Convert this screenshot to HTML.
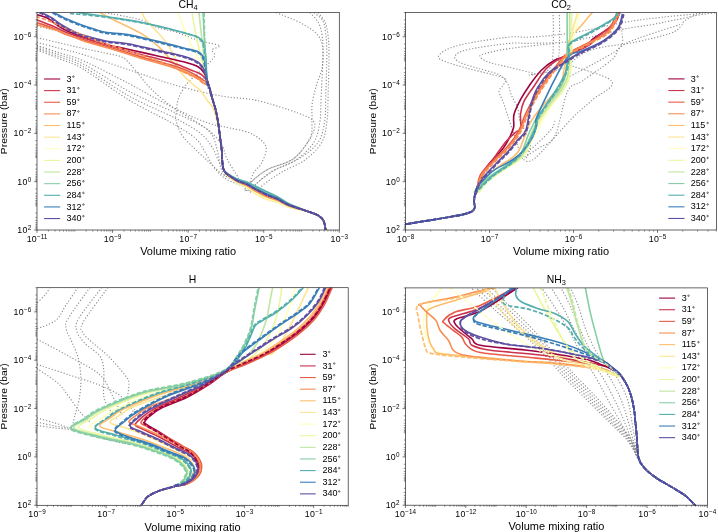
<!DOCTYPE html><html><head><meta charset="utf-8"><style>html,body{margin:0;padding:0;background:#fff;overflow:hidden;width:718px;height:532px;}svg{display:block;will-change:transform}</style></head><body><svg width="718" height="532" viewBox="0 0 718 532" font-family='"Liberation Sans", sans-serif' fill="#000">
<rect width="718" height="532" fill="#fff"/>
<defs><clipPath id="cp1"><rect x="37.0" y="12.6" width="302.30" height="217.40"/></clipPath></defs>
<g clip-path="url(#cp1)">
<path d="M37.00,26.60 C38.17,26.78 41.67,27.23 44.00,27.70 C46.33,28.17 48.33,28.68 51.00,29.40 C53.67,30.12 55.17,30.40 60.00,32.00 C64.83,33.60 72.17,36.42 80.00,39.00 C87.83,41.58 97.00,44.50 107.00,47.50 C117.00,50.50 129.50,54.08 140.00,57.00 C150.50,59.92 162.00,62.50 170.00,65.00 C178.00,67.50 183.00,70.00 188.00,72.00 C193.00,74.00 196.83,75.33 200.00,77.00 C203.17,78.67 205.42,80.17 207.00,82.00 C208.58,83.83 208.63,85.30 209.50,88.00 C210.37,90.70 211.22,94.73 212.20,98.20 C213.18,101.67 214.45,105.00 215.40,108.80 C216.35,112.60 217.10,116.13 217.90,121.00 C218.70,125.87 219.57,133.17 220.20,138.00 C220.83,142.83 221.35,146.15 221.70,150.00 C222.05,153.85 222.02,157.95 222.30,161.10 C222.58,164.25 222.75,166.85 223.40,168.90 C224.05,170.95 224.82,172.00 226.20,173.40 C227.58,174.80 229.67,176.00 231.70,177.30 C233.73,178.60 235.80,180.00 238.40,181.20 C241.00,182.40 244.48,182.97 247.30,184.50 C250.12,186.03 251.17,188.02 255.30,190.40 C259.43,192.78 266.50,196.35 272.10,198.80 C277.70,201.25 282.93,203.00 288.90,205.10 C294.87,207.20 302.98,209.65 307.90,211.40 C312.82,213.15 315.78,214.02 318.40,215.60 C321.02,217.18 322.38,218.50 323.60,220.90 C324.82,223.30 325.35,228.48 325.70,230.00" fill="none" stroke="#8c8c8c" stroke-width="1.1" stroke-linecap="butt" stroke-linejoin="round" stroke-dasharray="1.2,1.9"/>
<path d="M37.00,37.70 C40.83,38.58 52.33,41.22 60.00,43.00 C67.67,44.78 75.50,46.73 83.00,48.40 C90.50,50.07 98.37,51.47 105.00,53.00 C111.63,54.53 117.80,54.80 122.80,57.60 C127.80,60.40 130.40,64.70 135.00,69.80 C139.60,74.90 144.27,82.07 150.40,88.20 C156.53,94.33 164.15,100.98 171.80,106.60 C179.45,112.22 189.67,117.30 196.30,121.90 C202.93,126.50 208.02,129.10 211.60,134.20 C215.18,139.30 216.27,146.88 217.80,152.50 C219.33,158.12 219.43,163.98 220.80,167.90 C222.17,171.82 222.80,173.48 226.00,176.00 C229.20,178.52 235.12,180.60 240.00,183.00 C244.88,185.40 249.95,187.77 255.30,190.40 C260.65,193.03 266.50,196.35 272.10,198.80 C277.70,201.25 282.93,203.00 288.90,205.10 C294.87,207.20 302.98,209.65 307.90,211.40 C312.82,213.15 315.78,214.02 318.40,215.60 C321.02,217.18 322.38,218.50 323.60,220.90 C324.82,223.30 325.35,228.48 325.70,230.00" fill="none" stroke="#8c8c8c" stroke-width="1.1" stroke-linecap="butt" stroke-linejoin="round" stroke-dasharray="1.2,1.9"/>
<path d="M37.00,42.30 C40.83,43.33 52.33,46.47 60.00,48.50 C67.67,50.53 71.52,50.95 83.00,54.50 C94.48,58.05 113.58,64.70 128.90,69.80 C144.22,74.90 159.58,80.75 174.90,85.10 C190.22,89.45 207.12,93.33 220.80,95.90 C234.48,98.47 244.22,97.67 257.00,100.50 C269.78,103.33 288.15,109.53 297.50,112.90 C306.85,116.27 310.35,117.85 313.10,120.70 C315.85,123.55 314.85,126.45 314.00,130.00 C313.15,133.55 311.47,137.18 308.00,142.00 C304.53,146.82 299.88,154.33 293.20,158.90 C286.52,163.47 274.92,165.55 267.90,169.40 C260.88,173.25 254.92,178.57 251.10,182.00 C247.28,185.43 244.30,188.60 245.00,190.00 C245.70,191.40 250.78,188.93 255.30,190.40 C259.82,191.87 266.50,196.35 272.10,198.80 C277.70,201.25 282.93,203.00 288.90,205.10 C294.87,207.20 302.98,209.65 307.90,211.40 C312.82,213.15 315.78,214.02 318.40,215.60 C321.02,217.18 322.38,218.50 323.60,220.90 C324.82,223.30 325.35,228.48 325.70,230.00" fill="none" stroke="#8c8c8c" stroke-width="1.1" stroke-linecap="butt" stroke-linejoin="round" stroke-dasharray="1.2,1.9"/>
<path d="M37.00,45.30 C40.83,46.58 52.33,50.45 60.00,53.00 C67.67,55.55 71.52,55.50 83.00,60.60 C94.48,65.70 116.15,76.95 128.90,83.60 C141.65,90.25 149.28,95.13 159.50,100.50 C169.72,105.87 181.52,111.88 190.20,115.80 C198.88,119.72 204.97,121.97 211.60,124.00 C218.23,126.03 223.42,126.40 230.00,128.00 C236.58,129.60 245.13,130.57 251.10,133.60 C257.07,136.63 264.05,141.28 265.80,146.20 C267.55,151.12 263.70,158.53 261.60,163.10 C259.50,167.67 255.30,169.40 253.20,173.60 C251.10,177.80 248.65,185.50 249.00,188.30 C249.35,191.10 251.45,188.65 255.30,190.40 C259.15,192.15 266.50,196.35 272.10,198.80 C277.70,201.25 282.93,203.00 288.90,205.10 C294.87,207.20 302.98,209.65 307.90,211.40 C312.82,213.15 315.78,214.02 318.40,215.60 C321.02,217.18 322.38,218.50 323.60,220.90 C324.82,223.30 325.35,228.48 325.70,230.00" fill="none" stroke="#8c8c8c" stroke-width="1.1" stroke-linecap="butt" stroke-linejoin="round" stroke-dasharray="1.2,1.9"/>
<path d="M37.00,46.80 C40.83,48.17 52.33,52.18 60.00,55.00 C67.67,57.82 71.52,57.65 83.00,63.70 C94.48,69.75 113.58,83.13 128.90,91.30 C144.22,99.47 162.13,106.58 174.90,112.70 C187.67,118.82 197.85,122.88 205.50,128.00 C213.15,133.12 217.22,138.28 220.80,143.40 C224.38,148.52 224.45,153.60 227.00,158.70 C229.55,163.80 233.60,170.12 236.10,174.00 C238.60,177.88 238.80,179.27 242.00,182.00 C245.20,184.73 250.28,187.60 255.30,190.40 C260.32,193.20 266.50,196.35 272.10,198.80 C277.70,201.25 282.93,203.00 288.90,205.10 C294.87,207.20 302.98,209.65 307.90,211.40 C312.82,213.15 315.78,214.02 318.40,215.60 C321.02,217.18 322.38,218.50 323.60,220.90 C324.82,223.30 325.35,228.48 325.70,230.00" fill="none" stroke="#8c8c8c" stroke-width="1.1" stroke-linecap="butt" stroke-linejoin="round" stroke-dasharray="1.2,1.9"/>
<path d="M37.00,48.40 C40.83,49.83 52.33,53.98 60.00,57.00 C67.67,60.02 71.52,60.00 83.00,66.50 C94.48,73.00 113.58,87.42 128.90,96.00 C144.22,104.58 163.05,111.83 174.90,118.00 C186.75,124.17 193.82,128.17 200.00,133.00 C206.18,137.83 208.75,142.00 212.00,147.00 C215.25,152.00 217.17,158.50 219.50,163.00 C221.83,167.50 223.25,170.83 226.00,174.00 C228.75,177.17 231.12,179.27 236.00,182.00 C240.88,184.73 249.28,187.60 255.30,190.40 C261.32,193.20 266.50,196.35 272.10,198.80 C277.70,201.25 282.93,203.00 288.90,205.10 C294.87,207.20 302.98,209.65 307.90,211.40 C312.82,213.15 315.78,214.02 318.40,215.60 C321.02,217.18 322.38,218.50 323.60,220.90 C324.82,223.30 325.35,228.48 325.70,230.00" fill="none" stroke="#8c8c8c" stroke-width="1.1" stroke-linecap="butt" stroke-linejoin="round" stroke-dasharray="1.2,1.9"/>
<path d="M37.00,49.90 C40.83,51.42 52.33,55.82 60.00,59.00 C67.67,62.18 71.52,62.17 83.00,69.00 C94.48,75.83 114.40,91.17 128.90,100.00 C143.40,108.83 158.98,115.67 170.00,122.00 C181.02,128.33 189.17,133.00 195.00,138.00 C200.83,143.00 202.00,147.33 205.00,152.00 C208.00,156.67 210.17,162.00 213.00,166.00 C215.83,170.00 218.83,173.33 222.00,176.00 C225.17,178.67 226.45,179.60 232.00,182.00 C237.55,184.40 248.62,187.60 255.30,190.40 C261.98,193.20 266.50,196.35 272.10,198.80 C277.70,201.25 282.93,203.00 288.90,205.10 C294.87,207.20 302.98,209.65 307.90,211.40 C312.82,213.15 315.78,214.02 318.40,215.60 C321.02,217.18 322.38,218.50 323.60,220.90 C324.82,223.30 325.35,228.48 325.70,230.00" fill="none" stroke="#8c8c8c" stroke-width="1.1" stroke-linecap="butt" stroke-linejoin="round" stroke-dasharray="1.2,1.9"/>
<path d="M105.00,12.60 C111.13,13.83 133.35,17.60 141.80,20.00 C150.25,22.40 149.90,24.92 155.70,27.00 C161.50,29.08 169.22,30.18 176.60,32.50 C183.98,34.82 192.85,38.72 200.00,40.90 C207.15,43.08 217.50,44.08 219.50,45.60 C221.50,47.12 212.80,48.27 212.00,50.00 C211.20,51.73 216.10,53.00 214.70,56.00 C213.30,59.00 207.78,63.85 203.60,68.00 C199.42,72.15 193.08,77.25 189.60,80.90 C186.12,84.55 184.63,86.72 182.70,89.90 C180.77,93.08 179.03,96.65 178.00,100.00 C176.97,103.35 176.83,106.67 176.50,110.00 C176.17,113.33 175.08,115.83 176.00,120.00 C176.92,124.17 178.67,130.00 182.00,135.00 C185.33,140.00 191.33,145.33 196.00,150.00 C200.67,154.67 205.67,159.00 210.00,163.00 C214.33,167.00 217.83,171.17 222.00,174.00 C226.17,176.83 229.45,177.27 235.00,180.00 C240.55,182.73 249.12,187.27 255.30,190.40 C261.48,193.53 266.50,196.35 272.10,198.80 C277.70,201.25 282.93,203.00 288.90,205.10 C294.87,207.20 302.98,209.65 307.90,211.40 C312.82,213.15 315.78,214.02 318.40,215.60 C321.02,217.18 322.38,218.50 323.60,220.90 C324.82,223.30 325.35,228.48 325.70,230.00" fill="none" stroke="#8c8c8c" stroke-width="1.1" stroke-linecap="butt" stroke-linejoin="round" stroke-dasharray="1.2,1.9"/>
<path d="M276.30,12.60 C280.87,14.60 296.33,20.15 303.70,24.60 C311.07,29.05 317.35,32.63 320.50,39.30 C323.65,45.97 323.30,56.88 322.60,64.60 C321.90,72.32 318.05,78.95 316.30,85.60 C314.55,92.25 312.82,98.60 312.10,104.50 C311.38,110.40 312.35,115.42 312.00,121.00 C311.65,126.58 313.13,131.68 310.00,138.00 C306.87,144.32 300.22,153.67 293.20,158.90 C286.18,164.13 274.92,165.55 267.90,169.40 C260.88,173.25 254.92,178.57 251.10,182.00 C247.28,185.43 244.30,188.60 245.00,190.00 C245.70,191.40 250.78,188.93 255.30,190.40 C259.82,191.87 266.50,196.35 272.10,198.80 C277.70,201.25 282.93,203.00 288.90,205.10 C294.87,207.20 302.98,209.65 307.90,211.40 C312.82,213.15 315.78,214.02 318.40,215.60 C321.02,217.18 322.38,218.50 323.60,220.90 C324.82,223.30 325.35,228.48 325.70,230.00" fill="none" stroke="#8c8c8c" stroke-width="1.1" stroke-linecap="butt" stroke-linejoin="round" stroke-dasharray="1.2,1.9"/>
<path d="M314.20,12.60 C315.60,13.90 320.68,17.00 322.60,20.40 C324.52,23.80 325.00,27.40 325.70,33.00 C326.40,38.60 326.80,42.83 326.80,54.00 C326.80,65.17 326.05,88.83 325.70,100.00 C325.35,111.17 325.92,114.00 324.70,121.00 C323.48,128.00 322.52,135.83 318.40,142.00 C314.28,148.17 307.23,153.33 300.00,158.00 C292.77,162.67 282.17,165.83 275.00,170.00 C267.83,174.17 260.83,179.67 257.00,183.00 C253.17,186.33 252.28,188.77 252.00,190.00 C251.72,191.23 251.95,188.93 255.30,190.40 C258.65,191.87 266.50,196.35 272.10,198.80 C277.70,201.25 282.93,203.00 288.90,205.10 C294.87,207.20 302.98,209.65 307.90,211.40 C312.82,213.15 315.78,214.02 318.40,215.60 C321.02,217.18 322.38,218.50 323.60,220.90 C324.82,223.30 325.35,228.48 325.70,230.00" fill="none" stroke="#8c8c8c" stroke-width="1.1" stroke-linecap="butt" stroke-linejoin="round" stroke-dasharray="1.2,1.9"/>
<path d="M318.00,12.60 C319.17,14.17 323.33,18.27 325.00,22.00 C326.67,25.73 327.33,29.67 328.00,35.00 C328.67,40.33 329.00,43.17 329.00,54.00 C329.00,64.83 328.33,88.83 328.00,100.00 C327.67,111.17 328.00,114.00 327.00,121.00 C326.00,128.00 325.67,135.50 322.00,142.00 C318.33,148.50 311.67,155.00 305.00,160.00 C298.33,165.00 289.00,167.83 282.00,172.00 C275.00,176.17 267.00,181.67 263.00,185.00 C259.00,188.33 259.28,191.10 258.00,192.00 C256.72,192.90 252.95,189.27 255.30,190.40 C257.65,191.53 266.50,196.35 272.10,198.80 C277.70,201.25 282.93,203.00 288.90,205.10 C294.87,207.20 302.98,209.65 307.90,211.40 C312.82,213.15 315.78,214.02 318.40,215.60 C321.02,217.18 322.38,218.50 323.60,220.90 C324.82,223.30 325.35,228.48 325.70,230.00" fill="none" stroke="#8c8c8c" stroke-width="1.1" stroke-linecap="butt" stroke-linejoin="round" stroke-dasharray="1.2,1.9"/>
<path d="M310.00,12.60 C311.33,14.17 316.00,18.27 318.00,22.00 C320.00,25.73 321.17,29.67 322.00,35.00 C322.83,40.33 323.17,43.17 323.00,54.00 C322.83,64.83 321.50,88.83 321.00,100.00 C320.50,111.17 321.17,114.00 320.00,121.00 C318.83,128.00 318.00,135.50 314.00,142.00 C310.00,148.50 303.17,155.00 296.00,160.00 C288.83,165.00 278.00,167.67 271.00,172.00 C264.00,176.33 257.50,182.67 254.00,186.00 C250.50,189.33 249.78,191.27 250.00,192.00 C250.22,192.73 251.62,189.27 255.30,190.40 C258.98,191.53 266.50,196.35 272.10,198.80 C277.70,201.25 282.93,203.00 288.90,205.10 C294.87,207.20 302.98,209.65 307.90,211.40 C312.82,213.15 315.78,214.02 318.40,215.60 C321.02,217.18 322.38,218.50 323.60,220.90 C324.82,223.30 325.35,228.48 325.70,230.00" fill="none" stroke="#8c8c8c" stroke-width="1.1" stroke-linecap="butt" stroke-linejoin="round" stroke-dasharray="1.2,1.9"/>
<path d="M100.00,12.60 C102.32,13.83 106.93,16.45 113.90,20.00 C120.87,23.55 134.13,29.25 141.80,33.90 C149.47,38.55 154.80,43.25 159.90,47.90 C165.00,52.55 168.38,57.95 172.40,61.80 C176.42,65.65 179.65,68.13 184.00,71.00 C188.35,73.87 195.00,76.83 198.50,79.00 C202.00,81.17 203.58,83.83 205.00,84.00 C206.42,84.17 206.25,79.33 207.00,80.00 C207.75,80.67 208.63,84.97 209.50,88.00 C210.37,91.03 211.22,94.73 212.20,98.20 C213.18,101.67 214.45,105.00 215.40,108.80 C216.35,112.60 217.10,116.13 217.90,121.00 C218.70,125.87 219.57,133.17 220.20,138.00 C220.83,142.83 221.35,146.15 221.70,150.00 C222.05,153.85 222.02,157.95 222.30,161.10 C222.58,164.25 222.75,166.73 223.40,168.90 C224.05,171.07 224.82,172.53 226.20,174.12 C227.58,175.71 229.67,176.99 231.70,178.44 C233.73,179.90 235.80,181.46 238.40,182.86 C241.00,184.27 244.52,185.34 247.30,186.86 C250.08,188.37 251.93,190.15 255.10,191.96 C258.27,193.78 262.58,196.21 266.30,197.77 C270.02,199.32 273.63,199.85 277.40,201.30 C281.17,202.76 283.82,204.82 288.90,206.51 C293.98,208.19 302.98,209.88 307.90,211.40 C312.82,212.92 315.78,214.02 318.40,215.60 C321.02,217.18 322.38,218.50 323.60,220.90 C324.82,223.30 325.35,228.48 325.70,230.00" fill="none" stroke="#fdbf6f" stroke-width="1.6" stroke-linecap="butt" stroke-linejoin="round"/>
<path d="M142.00,12.60 C142.67,13.83 142.55,15.75 146.00,20.00 C149.45,24.25 158.07,32.30 162.70,38.10 C167.33,43.90 171.02,49.48 173.80,54.80 C176.58,60.12 176.70,65.47 179.40,70.00 C182.10,74.53 186.57,78.67 190.00,82.00 C193.43,85.33 197.17,87.00 200.00,90.00 C202.83,93.00 204.83,97.00 207.00,100.00 C209.17,103.00 211.33,104.50 213.00,108.00 C214.67,111.50 215.83,116.00 217.00,121.00 C218.17,126.00 219.22,133.17 220.00,138.00 C220.78,142.83 221.32,146.15 221.70,150.00 C222.08,153.85 222.02,157.95 222.30,161.10 C222.58,164.25 222.75,166.68 223.40,168.90 C224.05,171.12 224.82,172.75 226.20,174.42 C227.58,176.09 229.67,177.41 231.70,178.93 C233.73,180.46 235.80,182.09 238.40,183.58 C241.00,185.07 244.52,186.26 247.30,187.87 C250.08,189.48 251.93,191.36 255.10,193.23 C258.27,195.11 262.58,197.61 266.30,199.12 C270.02,200.63 273.63,200.96 277.40,202.29 C281.17,203.62 283.82,205.59 288.90,207.11 C293.98,208.63 302.98,209.99 307.90,211.40 C312.82,212.81 315.78,214.02 318.40,215.60 C321.02,217.18 322.38,218.50 323.60,220.90 C324.82,223.30 325.35,228.48 325.70,230.00" fill="none" stroke="#fee593" stroke-width="1.6" stroke-linecap="butt" stroke-linejoin="round"/>
<path d="M178.00,12.60 C179.85,17.32 185.43,32.70 189.10,40.90 C192.77,49.10 197.38,56.12 200.00,61.80 C202.62,67.48 203.63,71.97 204.80,75.00 C205.97,78.03 206.22,77.83 207.00,80.00 C207.78,82.17 208.63,84.97 209.50,88.00 C210.37,91.03 211.22,94.73 212.20,98.20 C213.18,101.67 214.45,105.00 215.40,108.80 C216.35,112.60 217.10,116.13 217.90,121.00 C218.70,125.87 219.57,133.17 220.20,138.00 C220.83,142.83 221.35,146.15 221.70,150.00 C222.05,153.85 222.02,157.95 222.30,161.10 C222.58,164.25 222.75,166.71 223.40,168.90 C224.05,171.09 224.82,172.60 226.20,174.22 C227.58,175.84 229.67,177.13 231.70,178.61 C233.73,180.09 235.80,181.67 238.40,183.10 C241.00,184.53 244.52,185.65 247.30,187.19 C250.08,188.74 251.93,190.55 255.10,192.39 C258.27,194.22 262.58,196.68 266.30,198.22 C270.02,199.76 273.63,200.22 277.40,201.63 C281.17,203.05 283.82,205.08 288.90,206.71 C293.98,208.34 302.98,209.92 307.90,211.40 C312.82,212.88 315.78,214.02 318.40,215.60 C321.02,217.18 322.38,218.50 323.60,220.90 C324.82,223.30 325.35,228.48 325.70,230.00" fill="none" stroke="#ffffbe" stroke-width="1.6" stroke-linecap="butt" stroke-linejoin="round"/>
<path d="M192.00,12.60 C192.83,17.17 195.33,32.10 197.00,40.00 C198.67,47.90 200.58,54.17 202.00,60.00 C203.42,65.83 204.67,71.67 205.50,75.00 C206.33,78.33 206.33,77.83 207.00,80.00 C207.67,82.17 208.63,84.97 209.50,88.00 C210.37,91.03 211.22,94.73 212.20,98.20 C213.18,101.67 214.45,105.00 215.40,108.80 C216.35,112.60 217.10,116.13 217.90,121.00 C218.70,125.87 219.57,133.17 220.20,138.00 C220.83,142.83 221.35,146.15 221.70,150.00 C222.05,153.85 222.02,157.95 222.30,161.10 C222.58,164.25 222.75,166.75 223.40,168.90 C224.05,171.05 224.82,172.45 226.20,174.01 C227.58,175.58 229.67,176.84 231.70,178.28 C233.73,179.72 235.80,181.25 238.40,182.63 C241.00,184.00 244.52,185.03 247.30,186.52 C250.08,188.01 251.93,189.74 255.10,191.54 C258.27,193.34 262.58,195.74 266.30,197.31 C270.02,198.89 273.63,199.47 277.40,200.97 C281.17,202.47 283.82,204.57 288.90,206.31 C293.98,208.04 302.98,209.85 307.90,211.40 C312.82,212.95 315.78,214.02 318.40,215.60 C321.02,217.18 322.38,218.50 323.60,220.90 C324.82,223.30 325.35,228.48 325.70,230.00" fill="none" stroke="#eaf79e" stroke-width="1.6" stroke-linecap="butt" stroke-linejoin="round"/>
<path d="M199.00,12.60 C199.50,17.17 201.08,32.10 202.00,40.00 C202.92,47.90 203.83,54.17 204.50,60.00 C205.17,65.83 205.58,71.67 206.00,75.00 C206.42,78.33 206.42,77.83 207.00,80.00 C207.58,82.17 208.63,84.97 209.50,88.00 C210.37,91.03 211.22,94.73 212.20,98.20 C213.18,101.67 214.45,105.00 215.40,108.80 C216.35,112.60 217.10,116.13 217.90,121.00 C218.70,125.87 219.57,133.17 220.20,138.00 C220.83,142.83 221.35,146.15 221.70,150.00 C222.05,153.85 222.02,157.95 222.30,161.10 C222.58,164.25 222.75,166.92 223.40,168.90 C224.05,170.88 224.82,171.70 226.20,172.99 C227.58,174.28 229.67,175.44 231.70,176.65 C233.73,177.86 235.80,179.16 238.40,180.25 C241.00,181.33 244.52,181.98 247.30,183.15 C250.08,184.33 251.93,185.70 255.10,187.31 C258.27,188.91 262.58,191.06 266.30,192.79 C270.02,194.52 273.63,195.77 277.40,197.68 C281.17,199.60 283.82,202.01 288.90,204.30 C293.98,206.58 302.98,209.52 307.90,211.40 C312.82,213.28 315.78,214.02 318.40,215.60 C321.02,217.18 322.38,218.50 323.60,220.90 C324.82,223.30 325.35,228.48 325.70,230.00" fill="none" stroke="#bfe5a0" stroke-width="1.6" stroke-linecap="butt" stroke-linejoin="round"/>
<path d="M203.00,12.60 C203.25,17.17 204.02,32.10 204.50,40.00 C204.98,47.90 205.57,54.17 205.90,60.00 C206.23,65.83 206.32,71.67 206.50,75.00 C206.68,78.33 206.50,77.83 207.00,80.00 C207.50,82.17 208.63,84.97 209.50,88.00 C210.37,91.03 211.22,94.73 212.20,98.20 C213.18,101.67 214.45,105.00 215.40,108.80 C216.35,112.60 217.10,116.13 217.90,121.00 C218.70,125.87 219.57,133.17 220.20,138.00 C220.83,142.83 221.35,146.15 221.70,150.00 C222.05,153.85 222.02,157.95 222.30,161.10 C222.58,164.25 222.75,166.95 223.40,168.90 C224.05,170.85 224.82,171.55 226.20,172.79 C227.58,174.02 229.67,175.16 231.70,176.32 C233.73,177.48 235.80,178.75 238.40,179.77 C241.00,180.80 244.52,181.37 247.30,182.48 C250.08,183.59 251.93,184.89 255.10,186.46 C258.27,188.03 262.58,190.13 266.30,191.89 C270.02,193.65 273.63,195.03 277.40,197.03 C281.17,199.03 283.82,201.50 288.90,203.89 C293.98,206.29 302.98,209.45 307.90,211.40 C312.82,213.35 315.78,214.02 318.40,215.60 C321.02,217.18 322.38,218.50 323.60,220.90 C324.82,223.30 325.35,228.48 325.70,230.00" fill="none" stroke="#86cfa5" stroke-width="1.6" stroke-linecap="butt" stroke-linejoin="round"/>
<path d="M79.00,12.60 C84.27,13.38 100.07,15.65 110.60,17.30 C121.13,18.95 132.30,20.55 142.20,22.50 C152.10,24.45 162.37,27.08 170.00,29.00 C177.63,30.92 183.25,32.58 188.00,34.00 C192.75,35.42 195.87,35.92 198.50,37.50 C201.13,39.08 202.57,40.03 203.80,43.50 C205.03,46.97 205.45,53.38 205.90,58.30 C206.35,63.22 206.32,69.38 206.50,73.00 C206.68,76.62 206.50,77.50 207.00,80.00 C207.50,82.50 208.63,84.97 209.50,88.00 C210.37,91.03 211.22,94.73 212.20,98.20 C213.18,101.67 214.45,105.00 215.40,108.80 C216.35,112.60 217.10,116.13 217.90,121.00 C218.70,125.87 219.57,133.17 220.20,138.00 C220.83,142.83 221.35,146.15 221.70,150.00 C222.05,153.85 222.02,157.95 222.30,161.10 C222.58,164.25 222.75,166.97 223.40,168.90 C224.05,170.83 224.82,171.47 226.20,172.68 C227.58,173.89 229.67,175.01 231.70,176.16 C233.73,177.30 235.80,178.54 238.40,179.54 C241.00,180.53 244.52,181.06 247.30,182.14 C250.08,183.23 251.93,184.49 255.10,186.04 C258.27,187.59 262.58,189.66 266.30,191.43 C270.02,193.21 273.63,194.65 277.40,196.70 C281.17,198.74 283.82,201.24 288.90,203.69 C293.98,206.14 302.98,209.42 307.90,211.40 C312.82,213.38 315.78,214.02 318.40,215.60 C321.02,217.18 322.38,218.50 323.60,220.90 C324.82,223.30 325.35,228.48 325.70,230.00" fill="none" stroke="#54aead" stroke-width="1.6" stroke-linecap="butt" stroke-linejoin="round"/>
<path d="M36.00,14.50 C37.78,15.05 43.28,16.10 46.70,17.80 C50.12,19.50 53.25,22.58 56.50,24.70 C59.75,26.82 62.13,28.55 66.20,30.50 C70.27,32.45 76.02,34.62 80.90,36.40 C85.78,38.18 91.15,39.82 95.50,41.20 C99.85,42.58 101.60,43.37 107.00,44.70 C112.40,46.03 119.78,47.40 127.90,49.20 C136.02,51.00 146.42,53.40 155.70,55.50 C164.98,57.60 176.47,59.88 183.60,61.80 C190.73,63.72 194.97,64.97 198.50,67.00 C202.03,69.03 203.38,71.83 204.80,74.00 C206.22,76.17 206.22,77.67 207.00,80.00 C207.78,82.33 208.63,84.97 209.50,88.00 C210.37,91.03 211.22,94.73 212.20,98.20 C213.18,101.67 214.45,105.00 215.40,108.80 C216.35,112.60 217.10,116.13 217.90,121.00 C218.70,125.87 219.57,133.17 220.20,138.00 C220.83,142.83 221.35,146.15 221.70,150.00 C222.05,153.85 222.02,157.95 222.30,161.10 C222.58,164.25 222.75,166.85 223.40,168.90 C224.05,170.95 224.82,172.00 226.20,173.40 C227.58,174.80 229.67,176.00 231.70,177.30 C233.73,178.60 235.80,180.00 238.40,181.20 C241.00,182.40 244.52,183.20 247.30,184.50 C250.08,185.80 251.93,187.32 255.10,189.00 C258.27,190.68 262.58,192.93 266.30,194.60 C270.02,196.27 273.63,197.25 277.40,199.00 C281.17,200.75 283.82,203.03 288.90,205.10 C293.98,207.17 302.98,209.65 307.90,211.40 C312.82,213.15 315.78,214.02 318.40,215.60 C321.02,217.18 322.38,218.50 323.60,220.90 C324.82,223.30 325.35,228.48 325.70,230.00" fill="none" stroke="#9e0142" stroke-width="1.6" stroke-linecap="butt" stroke-linejoin="round"/>
<path d="M36.00,19.50 C38.60,20.52 46.57,23.43 51.60,25.60 C56.63,27.77 61.32,30.55 66.20,32.50 C71.08,34.45 74.10,35.20 80.90,37.30 C87.70,39.40 96.85,42.18 107.00,45.10 C117.15,48.02 131.37,52.02 141.80,54.80 C152.23,57.58 161.90,59.47 169.60,61.80 C177.30,64.13 182.83,66.77 188.00,68.80 C193.17,70.83 197.62,72.25 200.60,74.00 C203.58,75.75 204.83,78.30 205.90,79.30 C206.97,80.30 206.40,78.55 207.00,80.00 C207.60,81.45 208.63,84.97 209.50,88.00 C210.37,91.03 211.22,94.73 212.20,98.20 C213.18,101.67 214.45,105.00 215.40,108.80 C216.35,112.60 217.10,116.13 217.90,121.00 C218.70,125.87 219.57,133.17 220.20,138.00 C220.83,142.83 221.35,146.15 221.70,150.00 C222.05,153.85 222.02,157.95 222.30,161.10 C222.58,164.25 222.75,166.85 223.40,168.90 C224.05,170.95 224.82,172.00 226.20,173.40 C227.58,174.80 229.67,176.00 231.70,177.30 C233.73,178.60 235.80,180.00 238.40,181.20 C241.00,182.40 244.52,183.20 247.30,184.50 C250.08,185.80 251.93,187.32 255.10,189.00 C258.27,190.68 262.58,192.93 266.30,194.60 C270.02,196.27 273.63,197.25 277.40,199.00 C281.17,200.75 283.82,203.03 288.90,205.10 C293.98,207.17 302.98,209.65 307.90,211.40 C312.82,213.15 315.78,214.02 318.40,215.60 C321.02,217.18 322.38,218.50 323.60,220.90 C324.82,223.30 325.35,228.48 325.70,230.00" fill="none" stroke="#cb334d" stroke-width="1.6" stroke-linecap="butt" stroke-linejoin="round"/>
<path d="M36.00,22.40 C38.60,23.27 46.57,25.60 51.60,27.60 C56.63,29.60 60.52,32.28 66.20,34.40 C71.88,36.52 78.90,38.27 85.70,40.30 C92.50,42.33 97.65,43.83 107.00,46.60 C116.35,49.37 131.37,53.90 141.80,56.90 C152.23,59.90 161.90,62.25 169.60,64.60 C177.30,66.95 183.18,68.93 188.00,71.00 C192.82,73.07 195.67,75.33 198.50,77.00 C201.33,78.67 203.58,80.50 205.00,81.00 C206.42,81.50 206.25,78.83 207.00,80.00 C207.75,81.17 208.63,84.97 209.50,88.00 C210.37,91.03 211.22,94.73 212.20,98.20 C213.18,101.67 214.45,105.00 215.40,108.80 C216.35,112.60 217.10,116.13 217.90,121.00 C218.70,125.87 219.57,133.17 220.20,138.00 C220.83,142.83 221.35,146.15 221.70,150.00 C222.05,153.85 222.02,157.95 222.30,161.10 C222.58,164.25 222.75,166.82 223.40,168.90 C224.05,170.98 224.82,172.15 226.20,173.60 C227.58,175.06 229.67,176.28 231.70,177.63 C233.73,178.97 235.80,180.42 238.40,181.68 C241.00,182.93 244.52,183.81 247.30,185.17 C250.08,186.54 251.93,188.12 255.10,189.85 C258.27,191.57 262.58,193.87 266.30,195.50 C270.02,197.14 273.63,197.99 277.40,199.66 C281.17,201.32 283.82,203.55 288.90,205.50 C293.98,207.46 302.98,209.72 307.90,211.40 C312.82,213.08 315.78,214.02 318.40,215.60 C321.02,217.18 322.38,218.50 323.60,220.90 C324.82,223.30 325.35,228.48 325.70,230.00" fill="none" stroke="#e95c47" stroke-width="1.6" stroke-linecap="butt" stroke-linejoin="round"/>
<path d="M36.00,24.50 C40.00,25.67 51.83,28.67 60.00,31.50 C68.17,34.33 76.67,38.67 85.00,41.50 C93.33,44.33 100.83,45.75 110.00,48.50 C119.17,51.25 130.00,55.00 140.00,58.00 C150.00,61.00 162.00,63.92 170.00,66.50 C178.00,69.08 183.25,71.47 188.00,73.50 C192.75,75.53 195.70,77.03 198.50,78.70 C201.30,80.37 203.38,83.28 204.80,83.50 C206.22,83.72 206.22,79.25 207.00,80.00 C207.78,80.75 208.63,84.97 209.50,88.00 C210.37,91.03 211.22,94.73 212.20,98.20 C213.18,101.67 214.45,105.00 215.40,108.80 C216.35,112.60 217.10,116.13 217.90,121.00 C218.70,125.87 219.57,133.17 220.20,138.00 C220.83,142.83 221.35,146.15 221.70,150.00 C222.05,153.85 222.02,157.95 222.30,161.10 C222.58,164.25 222.75,166.78 223.40,168.90 C224.05,171.02 224.82,172.30 226.20,173.81 C227.58,175.32 229.67,176.56 231.70,177.95 C233.73,179.34 235.80,180.84 238.40,182.15 C241.00,183.47 244.52,184.42 247.30,185.85 C250.08,187.27 251.93,188.93 255.10,190.69 C258.27,192.45 262.58,194.81 266.30,196.41 C270.02,198.01 273.63,198.73 277.40,200.32 C281.17,201.90 283.82,204.06 288.90,205.90 C293.98,207.75 302.98,209.78 307.90,211.40 C312.82,213.02 315.78,214.02 318.40,215.60 C321.02,217.18 322.38,218.50 323.60,220.90 C324.82,223.30 325.35,228.48 325.70,230.00" fill="none" stroke="#f98e52" stroke-width="1.6" stroke-linecap="butt" stroke-linejoin="round"/>
<path d="M53.00,12.00 C53.25,12.17 52.30,11.87 54.50,13.00 C56.70,14.13 61.80,16.85 66.20,18.80 C70.60,20.75 76.02,22.92 80.90,24.70 C85.78,26.48 91.15,28.20 95.50,29.50 C99.85,30.80 101.60,31.65 107.00,32.50 C112.40,33.35 119.78,33.20 127.90,34.60 C136.02,36.00 146.42,38.68 155.70,40.90 C164.98,43.12 176.47,46.05 183.60,47.90 C190.73,49.75 195.13,50.27 198.50,52.00 C201.87,53.73 202.47,54.80 203.80,58.30 C205.13,61.80 205.97,69.38 206.50,73.00 C207.03,76.62 206.50,77.50 207.00,80.00 C207.50,82.50 208.63,84.97 209.50,88.00 C210.37,91.03 211.22,94.73 212.20,98.20 C213.18,101.67 214.45,105.00 215.40,108.80 C216.35,112.60 217.10,116.13 217.90,121.00 C218.70,125.87 219.57,133.17 220.20,138.00 C220.83,142.83 221.35,146.15 221.70,150.00 C222.05,153.85 222.02,157.95 222.30,161.10 C222.58,164.25 222.75,166.88 223.40,168.90 C224.05,170.92 224.82,171.85 226.20,173.20 C227.58,174.54 229.67,175.72 231.70,176.97 C233.73,178.23 235.80,179.58 238.40,180.72 C241.00,181.87 244.52,182.59 247.30,183.83 C250.08,185.06 251.93,186.51 255.10,188.15 C258.27,189.80 262.58,192.00 266.30,193.70 C270.02,195.39 273.63,196.51 277.40,198.34 C281.17,200.18 283.82,202.52 288.90,204.70 C293.98,206.87 302.98,209.58 307.90,211.40 C312.82,213.22 315.78,214.02 318.40,215.60 C321.02,217.18 322.38,218.50 323.60,220.90 C324.82,223.30 325.35,228.48 325.70,230.00" fill="none" stroke="#3a7eb8" stroke-width="1.6" stroke-linecap="butt" stroke-linejoin="round"/>
<path d="M40.00,12.00 C40.32,12.17 39.97,12.03 41.90,13.00 C43.83,13.97 48.35,15.85 51.60,17.80 C54.85,19.75 57.33,22.25 61.40,24.70 C65.47,27.15 71.13,30.40 76.00,32.50 C80.87,34.60 85.43,35.85 90.60,37.30 C95.77,38.75 100.78,40.13 107.00,41.20 C113.22,42.27 119.78,42.25 127.90,43.70 C136.02,45.15 146.42,47.82 155.70,49.90 C164.98,51.98 176.47,54.10 183.60,56.20 C190.73,58.30 194.97,60.05 198.50,62.50 C202.03,64.95 203.38,67.98 204.80,70.90 C206.22,73.82 206.22,77.15 207.00,80.00 C207.78,82.85 208.63,84.97 209.50,88.00 C210.37,91.03 211.22,94.73 212.20,98.20 C213.18,101.67 214.45,105.00 215.40,108.80 C216.35,112.60 217.10,116.13 217.90,121.00 C218.70,125.87 219.57,133.17 220.20,138.00 C220.83,142.83 221.35,146.15 221.70,150.00 C222.05,153.85 222.02,157.95 222.30,161.10 C222.58,164.25 222.75,166.85 223.40,168.90 C224.05,170.95 224.82,172.00 226.20,173.40 C227.58,174.80 229.67,176.00 231.70,177.30 C233.73,178.60 235.80,180.00 238.40,181.20 C241.00,182.40 244.52,183.20 247.30,184.50 C250.08,185.80 251.93,187.32 255.10,189.00 C258.27,190.68 262.58,192.93 266.30,194.60 C270.02,196.27 273.63,197.25 277.40,199.00 C281.17,200.75 283.82,203.03 288.90,205.10 C293.98,207.17 302.98,209.65 307.90,211.40 C312.82,213.15 315.78,214.02 318.40,215.60 C321.02,217.18 322.38,218.50 323.60,220.90 C324.82,223.30 325.35,228.48 325.70,230.00" fill="none" stroke="#5e4fa2" stroke-width="1.6" stroke-linecap="butt" stroke-linejoin="round"/>
<path d="M35.71,16.35 C38.30,17.23 46.24,19.62 51.27,21.64 C56.29,23.65 60.96,26.33 65.84,28.43 C70.73,30.53 75.68,32.28 80.57,34.24 C85.46,36.19 90.82,38.51 95.18,40.14 C99.54,41.78 100.70,42.10 106.72,44.06 C112.74,46.01 121.96,48.72 131.31,51.85 C140.67,54.98 153.49,59.18 162.87,62.84 C172.26,66.50 181.77,71.13 187.62,73.82 C193.48,76.51 195.19,77.20 198.02,78.96 C200.85,80.72 203.22,84.10 204.61,84.38 C206.01,84.66 205.71,80.00 206.38,80.65 C207.05,81.30 208.26,87.00 208.64,88.27" fill="none" stroke="#f98e52" stroke-width="1.7" stroke-linecap="butt" stroke-linejoin="round" stroke-dasharray="4.4,1.9"/>
<path d="M204.10,12.62 C204.18,17.18 204.43,32.12 204.60,40.02 C204.77,47.92 204.93,54.19 205.10,60.03 C205.27,65.86 205.43,71.68 205.60,75.04 C205.77,78.41 205.62,78.00 206.12,80.20 C206.63,82.41 208.22,86.92 208.64,88.27" fill="none" stroke="#86cfa5" stroke-width="1.7" stroke-linecap="butt" stroke-linejoin="round" stroke-dasharray="4.4,1.9"/>
<path d="M69.91,13.50 C74.91,13.98 87.90,14.83 99.88,16.39 C111.87,17.96 127.18,19.97 141.82,22.88 C156.47,25.80 178.40,31.36 187.77,33.87 C197.13,36.38 195.47,36.29 198.00,37.95 C200.53,39.60 201.78,40.39 202.95,43.80 C204.12,47.20 204.56,53.51 205.00,58.38 C205.45,63.26 205.42,69.41 205.60,73.05 C205.79,76.68 205.61,77.64 206.12,80.18 C206.62,82.71 208.22,86.92 208.64,88.27" fill="none" stroke="#54aead" stroke-width="1.7" stroke-linecap="butt" stroke-linejoin="round" stroke-dasharray="4.4,1.9"/>
<path d="M52.50,12.75 C52.77,12.92 51.87,12.65 54.09,13.80 C56.31,14.95 61.42,17.67 65.84,19.62 C70.25,21.58 75.69,23.76 80.59,25.55 C85.49,27.34 90.86,29.06 95.24,30.36 C99.62,31.67 101.44,32.53 106.86,33.39 C112.28,34.24 119.64,34.09 127.75,35.49 C135.85,36.88 146.22,39.56 155.49,41.78 C164.76,43.99 176.27,46.93 183.37,48.77 C190.47,50.61 194.82,51.16 198.09,52.80 C201.35,54.44 201.71,55.23 202.96,58.62 C204.21,62.01 205.08,69.54 205.61,73.13 C206.14,76.72 205.61,77.65 206.12,80.18 C206.62,82.70 208.22,86.92 208.64,88.27" fill="none" stroke="#3a7eb8" stroke-width="1.7" stroke-linecap="butt" stroke-linejoin="round" stroke-dasharray="4.4,1.9"/>
<path d="M39.58,12.80 C39.90,12.96 39.57,12.84 41.50,13.80 C43.42,14.77 47.90,16.63 51.14,18.57 C54.38,20.52 56.85,23.01 60.94,25.47 C65.02,27.93 70.74,31.21 75.64,33.33 C80.55,35.44 85.16,36.71 90.36,38.17 C95.56,39.63 100.62,41.02 106.85,42.09 C113.08,43.16 119.63,43.14 127.74,44.59 C135.85,46.03 146.24,48.70 155.50,50.78 C164.77,52.86 176.27,54.99 183.35,57.06 C190.43,59.14 194.55,60.87 197.99,63.24 C201.43,65.61 202.63,68.46 203.99,71.29 C205.35,74.13 205.36,77.41 206.13,80.24 C206.91,83.07 208.22,86.93 208.64,88.27" fill="none" stroke="#5e4fa2" stroke-width="1.7" stroke-linecap="butt" stroke-linejoin="round" stroke-dasharray="4.4,1.9"/>
<path d="M207.00,80.00 C207.42,81.33 208.63,84.97 209.50,88.00 C210.37,91.03 211.22,94.73 212.20,98.20 C213.18,101.67 214.45,105.00 215.40,108.80 C216.35,112.60 217.10,116.13 217.90,121.00 C218.70,125.87 219.57,133.17 220.20,138.00 C220.83,142.83 221.35,146.15 221.70,150.00 C222.05,153.85 222.02,157.95 222.30,161.10 C222.58,164.25 222.75,166.85 223.40,168.90 C224.05,170.95 224.82,172.00 226.20,173.40 C227.58,174.80 229.67,176.00 231.70,177.30 C233.73,178.60 235.80,180.00 238.40,181.20 C241.00,182.40 244.52,183.20 247.30,184.50 C250.08,185.80 251.93,187.32 255.10,189.00 C258.27,190.68 262.58,192.93 266.30,194.60 C270.02,196.27 273.63,197.25 277.40,199.00 C281.17,200.75 283.82,203.03 288.90,205.10 C293.98,207.17 302.98,209.65 307.90,211.40 C312.82,213.15 315.78,214.02 318.40,215.60 C321.02,217.18 322.38,218.50 323.60,220.90 C324.82,223.30 325.35,228.48 325.70,230.00" fill="none" stroke="#4a4aa6" stroke-width="1.7" stroke-linecap="butt" stroke-linejoin="round"/>
<path d="M207.00,80.00 C207.42,81.33 208.63,84.97 209.50,88.00 C210.37,91.03 211.22,94.73 212.20,98.20 C213.18,101.67 214.45,105.00 215.40,108.80 C216.35,112.60 217.10,116.13 217.90,121.00 C218.70,125.87 219.57,133.17 220.20,138.00 C220.83,142.83 221.35,146.15 221.70,150.00 C222.05,153.85 222.02,157.95 222.30,161.10 C222.58,164.25 222.75,166.85 223.40,168.90 C224.05,170.95 224.82,172.00 226.20,173.40 C227.58,174.80 229.67,176.00 231.70,177.30 C233.73,178.60 235.80,180.00 238.40,181.20 C241.00,182.40 244.52,183.20 247.30,184.50 C250.08,185.80 251.93,187.32 255.10,189.00 C258.27,190.68 262.58,192.93 266.30,194.60 C270.02,196.27 273.63,197.25 277.40,199.00 C281.17,200.75 283.82,203.03 288.90,205.10 C293.98,207.17 302.98,209.65 307.90,211.40 C312.82,213.15 315.78,214.02 318.40,215.60 C321.02,217.18 322.38,218.50 323.60,220.90 C324.82,223.30 325.35,228.48 325.70,230.00" fill="none" stroke="#f0a060" stroke-width="1.7" stroke-linecap="butt" stroke-linejoin="round" stroke-dasharray="0.7,5.5" stroke-opacity="0.55"/>
</g>
<line x1="44.1" y1="79.00" x2="60.2" y2="79.00" stroke="#9e0142" stroke-width="1.1"/>
<text x="66.6" y="81.60" font-size="9.0">3</text>
<circle cx="73.40" cy="76.60" r="0.75" fill="none" stroke="#222" stroke-width="0.65"/>
<line x1="44.1" y1="90.63" x2="60.2" y2="90.63" stroke="#cb334d" stroke-width="1.1"/>
<text x="66.6" y="93.23" font-size="9.0">31</text>
<circle cx="78.41" cy="88.23" r="0.75" fill="none" stroke="#222" stroke-width="0.65"/>
<line x1="44.1" y1="102.26" x2="60.2" y2="102.26" stroke="#e95c47" stroke-width="1.1"/>
<text x="66.6" y="104.86" font-size="9.0">59</text>
<circle cx="78.41" cy="99.86" r="0.75" fill="none" stroke="#222" stroke-width="0.65"/>
<line x1="44.1" y1="113.89" x2="60.2" y2="113.89" stroke="#f98e52" stroke-width="1.1"/>
<text x="66.6" y="116.49" font-size="9.0">87</text>
<circle cx="78.41" cy="111.49" r="0.75" fill="none" stroke="#222" stroke-width="0.65"/>
<line x1="44.1" y1="125.52" x2="60.2" y2="125.52" stroke="#fdbf6f" stroke-width="1.1"/>
<text x="66.6" y="128.12" font-size="9.0">115</text>
<circle cx="83.41" cy="123.12" r="0.75" fill="none" stroke="#222" stroke-width="0.65"/>
<line x1="44.1" y1="137.15" x2="60.2" y2="137.15" stroke="#fee593" stroke-width="1.1"/>
<text x="66.6" y="139.75" font-size="9.0">143</text>
<circle cx="83.41" cy="134.75" r="0.75" fill="none" stroke="#222" stroke-width="0.65"/>
<line x1="44.1" y1="148.78" x2="60.2" y2="148.78" stroke="#ffffbe" stroke-width="1.1"/>
<text x="66.6" y="151.38" font-size="9.0">172</text>
<circle cx="83.41" cy="146.38" r="0.75" fill="none" stroke="#222" stroke-width="0.65"/>
<line x1="44.1" y1="160.41" x2="60.2" y2="160.41" stroke="#eaf79e" stroke-width="1.1"/>
<text x="66.6" y="163.01" font-size="9.0">200</text>
<circle cx="83.41" cy="158.01" r="0.75" fill="none" stroke="#222" stroke-width="0.65"/>
<line x1="44.1" y1="172.04" x2="60.2" y2="172.04" stroke="#bfe5a0" stroke-width="1.1"/>
<text x="66.6" y="174.64" font-size="9.0">228</text>
<circle cx="83.41" cy="169.64" r="0.75" fill="none" stroke="#222" stroke-width="0.65"/>
<line x1="44.1" y1="183.67" x2="60.2" y2="183.67" stroke="#86cfa5" stroke-width="1.1"/>
<text x="66.6" y="186.27" font-size="9.0">256</text>
<circle cx="83.41" cy="181.27" r="0.75" fill="none" stroke="#222" stroke-width="0.65"/>
<line x1="44.1" y1="195.30" x2="60.2" y2="195.30" stroke="#54aead" stroke-width="1.1"/>
<text x="66.6" y="197.90" font-size="9.0">284</text>
<circle cx="83.41" cy="192.90" r="0.75" fill="none" stroke="#222" stroke-width="0.65"/>
<line x1="44.1" y1="206.93" x2="60.2" y2="206.93" stroke="#3a7eb8" stroke-width="1.1"/>
<text x="66.6" y="209.53" font-size="9.0">312</text>
<circle cx="83.41" cy="204.53" r="0.75" fill="none" stroke="#222" stroke-width="0.65"/>
<line x1="44.1" y1="218.56" x2="60.2" y2="218.56" stroke="#5e4fa2" stroke-width="1.1"/>
<text x="66.6" y="221.16" font-size="9.0">340</text>
<circle cx="83.41" cy="216.16" r="0.75" fill="none" stroke="#222" stroke-width="0.65"/>
<line x1="37.00" y1="230.0" x2="37.00" y2="232.8" stroke="#262626" stroke-width="0.63"/>
<text x="37.00" y="241.80" font-size="8.8" text-anchor="middle"><tspan letter-spacing="0.3">10</tspan><tspan font-size="6.34" dy="-3.1">−11</tspan></text>
<line x1="48.38" y1="230.0" x2="48.38" y2="231.6" stroke="#262626" stroke-width="0.5"/>
<line x1="55.03" y1="230.0" x2="55.03" y2="231.6" stroke="#262626" stroke-width="0.5"/>
<line x1="59.75" y1="230.0" x2="59.75" y2="231.6" stroke="#262626" stroke-width="0.5"/>
<line x1="63.41" y1="230.0" x2="63.41" y2="231.6" stroke="#262626" stroke-width="0.5"/>
<line x1="66.40" y1="230.0" x2="66.40" y2="231.6" stroke="#262626" stroke-width="0.5"/>
<line x1="68.93" y1="230.0" x2="68.93" y2="231.6" stroke="#262626" stroke-width="0.5"/>
<line x1="71.13" y1="230.0" x2="71.13" y2="231.6" stroke="#262626" stroke-width="0.5"/>
<line x1="73.06" y1="230.0" x2="73.06" y2="231.6" stroke="#262626" stroke-width="0.5"/>
<line x1="74.79" y1="230.0" x2="74.79" y2="231.6" stroke="#262626" stroke-width="0.5"/>
<line x1="86.16" y1="230.0" x2="86.16" y2="231.6" stroke="#262626" stroke-width="0.5"/>
<line x1="92.82" y1="230.0" x2="92.82" y2="231.6" stroke="#262626" stroke-width="0.5"/>
<line x1="97.54" y1="230.0" x2="97.54" y2="231.6" stroke="#262626" stroke-width="0.5"/>
<line x1="101.20" y1="230.0" x2="101.20" y2="231.6" stroke="#262626" stroke-width="0.5"/>
<line x1="104.19" y1="230.0" x2="104.19" y2="231.6" stroke="#262626" stroke-width="0.5"/>
<line x1="106.72" y1="230.0" x2="106.72" y2="231.6" stroke="#262626" stroke-width="0.5"/>
<line x1="108.91" y1="230.0" x2="108.91" y2="231.6" stroke="#262626" stroke-width="0.5"/>
<line x1="110.85" y1="230.0" x2="110.85" y2="231.6" stroke="#262626" stroke-width="0.5"/>
<line x1="112.58" y1="230.0" x2="112.58" y2="232.8" stroke="#262626" stroke-width="0.63"/>
<text x="112.58" y="241.80" font-size="8.8" text-anchor="middle"><tspan letter-spacing="0.3">10</tspan><tspan font-size="6.34" dy="-3.1">−9</tspan></text>
<line x1="123.95" y1="230.0" x2="123.95" y2="231.6" stroke="#262626" stroke-width="0.5"/>
<line x1="130.60" y1="230.0" x2="130.60" y2="231.6" stroke="#262626" stroke-width="0.5"/>
<line x1="135.33" y1="230.0" x2="135.33" y2="231.6" stroke="#262626" stroke-width="0.5"/>
<line x1="138.99" y1="230.0" x2="138.99" y2="231.6" stroke="#262626" stroke-width="0.5"/>
<line x1="141.98" y1="230.0" x2="141.98" y2="231.6" stroke="#262626" stroke-width="0.5"/>
<line x1="144.51" y1="230.0" x2="144.51" y2="231.6" stroke="#262626" stroke-width="0.5"/>
<line x1="146.70" y1="230.0" x2="146.70" y2="231.6" stroke="#262626" stroke-width="0.5"/>
<line x1="148.63" y1="230.0" x2="148.63" y2="231.6" stroke="#262626" stroke-width="0.5"/>
<line x1="150.36" y1="230.0" x2="150.36" y2="231.6" stroke="#262626" stroke-width="0.5"/>
<line x1="161.74" y1="230.0" x2="161.74" y2="231.6" stroke="#262626" stroke-width="0.5"/>
<line x1="168.39" y1="230.0" x2="168.39" y2="231.6" stroke="#262626" stroke-width="0.5"/>
<line x1="173.11" y1="230.0" x2="173.11" y2="231.6" stroke="#262626" stroke-width="0.5"/>
<line x1="176.77" y1="230.0" x2="176.77" y2="231.6" stroke="#262626" stroke-width="0.5"/>
<line x1="179.77" y1="230.0" x2="179.77" y2="231.6" stroke="#262626" stroke-width="0.5"/>
<line x1="182.30" y1="230.0" x2="182.30" y2="231.6" stroke="#262626" stroke-width="0.5"/>
<line x1="184.49" y1="230.0" x2="184.49" y2="231.6" stroke="#262626" stroke-width="0.5"/>
<line x1="186.42" y1="230.0" x2="186.42" y2="231.6" stroke="#262626" stroke-width="0.5"/>
<line x1="188.15" y1="230.0" x2="188.15" y2="232.8" stroke="#262626" stroke-width="0.63"/>
<text x="188.15" y="241.80" font-size="8.8" text-anchor="middle"><tspan letter-spacing="0.3">10</tspan><tspan font-size="6.34" dy="-3.1">−7</tspan></text>
<line x1="199.53" y1="230.0" x2="199.53" y2="231.6" stroke="#262626" stroke-width="0.5"/>
<line x1="206.18" y1="230.0" x2="206.18" y2="231.6" stroke="#262626" stroke-width="0.5"/>
<line x1="210.90" y1="230.0" x2="210.90" y2="231.6" stroke="#262626" stroke-width="0.5"/>
<line x1="214.56" y1="230.0" x2="214.56" y2="231.6" stroke="#262626" stroke-width="0.5"/>
<line x1="217.55" y1="230.0" x2="217.55" y2="231.6" stroke="#262626" stroke-width="0.5"/>
<line x1="220.08" y1="230.0" x2="220.08" y2="231.6" stroke="#262626" stroke-width="0.5"/>
<line x1="222.28" y1="230.0" x2="222.28" y2="231.6" stroke="#262626" stroke-width="0.5"/>
<line x1="224.21" y1="230.0" x2="224.21" y2="231.6" stroke="#262626" stroke-width="0.5"/>
<line x1="225.94" y1="230.0" x2="225.94" y2="231.6" stroke="#262626" stroke-width="0.5"/>
<line x1="237.31" y1="230.0" x2="237.31" y2="231.6" stroke="#262626" stroke-width="0.5"/>
<line x1="243.97" y1="230.0" x2="243.97" y2="231.6" stroke="#262626" stroke-width="0.5"/>
<line x1="248.69" y1="230.0" x2="248.69" y2="231.6" stroke="#262626" stroke-width="0.5"/>
<line x1="252.35" y1="230.0" x2="252.35" y2="231.6" stroke="#262626" stroke-width="0.5"/>
<line x1="255.34" y1="230.0" x2="255.34" y2="231.6" stroke="#262626" stroke-width="0.5"/>
<line x1="257.87" y1="230.0" x2="257.87" y2="231.6" stroke="#262626" stroke-width="0.5"/>
<line x1="260.06" y1="230.0" x2="260.06" y2="231.6" stroke="#262626" stroke-width="0.5"/>
<line x1="262.00" y1="230.0" x2="262.00" y2="231.6" stroke="#262626" stroke-width="0.5"/>
<line x1="263.73" y1="230.0" x2="263.73" y2="232.8" stroke="#262626" stroke-width="0.63"/>
<text x="263.73" y="241.80" font-size="8.8" text-anchor="middle"><tspan letter-spacing="0.3">10</tspan><tspan font-size="6.34" dy="-3.1">−5</tspan></text>
<line x1="275.10" y1="230.0" x2="275.10" y2="231.6" stroke="#262626" stroke-width="0.5"/>
<line x1="281.75" y1="230.0" x2="281.75" y2="231.6" stroke="#262626" stroke-width="0.5"/>
<line x1="286.48" y1="230.0" x2="286.48" y2="231.6" stroke="#262626" stroke-width="0.5"/>
<line x1="290.14" y1="230.0" x2="290.14" y2="231.6" stroke="#262626" stroke-width="0.5"/>
<line x1="293.13" y1="230.0" x2="293.13" y2="231.6" stroke="#262626" stroke-width="0.5"/>
<line x1="295.66" y1="230.0" x2="295.66" y2="231.6" stroke="#262626" stroke-width="0.5"/>
<line x1="297.85" y1="230.0" x2="297.85" y2="231.6" stroke="#262626" stroke-width="0.5"/>
<line x1="299.78" y1="230.0" x2="299.78" y2="231.6" stroke="#262626" stroke-width="0.5"/>
<line x1="301.51" y1="230.0" x2="301.51" y2="231.6" stroke="#262626" stroke-width="0.5"/>
<line x1="312.89" y1="230.0" x2="312.89" y2="231.6" stroke="#262626" stroke-width="0.5"/>
<line x1="319.54" y1="230.0" x2="319.54" y2="231.6" stroke="#262626" stroke-width="0.5"/>
<line x1="324.26" y1="230.0" x2="324.26" y2="231.6" stroke="#262626" stroke-width="0.5"/>
<line x1="327.92" y1="230.0" x2="327.92" y2="231.6" stroke="#262626" stroke-width="0.5"/>
<line x1="330.92" y1="230.0" x2="330.92" y2="231.6" stroke="#262626" stroke-width="0.5"/>
<line x1="333.45" y1="230.0" x2="333.45" y2="231.6" stroke="#262626" stroke-width="0.5"/>
<line x1="335.64" y1="230.0" x2="335.64" y2="231.6" stroke="#262626" stroke-width="0.5"/>
<line x1="337.57" y1="230.0" x2="337.57" y2="231.6" stroke="#262626" stroke-width="0.5"/>
<line x1="339.30" y1="230.0" x2="339.30" y2="232.8" stroke="#262626" stroke-width="0.63"/>
<text x="339.30" y="241.80" font-size="8.8" text-anchor="middle"><tspan letter-spacing="0.3">10</tspan><tspan font-size="6.34" dy="-3.1">−3</tspan></text>
<line x1="37.0" y1="12.60" x2="35.4" y2="12.60" stroke="#262626" stroke-width="0.5"/>
<line x1="37.0" y1="19.87" x2="35.4" y2="19.87" stroke="#262626" stroke-width="0.5"/>
<line x1="37.0" y1="24.13" x2="35.4" y2="24.13" stroke="#262626" stroke-width="0.5"/>
<line x1="37.0" y1="27.14" x2="35.4" y2="27.14" stroke="#262626" stroke-width="0.5"/>
<line x1="37.0" y1="29.48" x2="35.4" y2="29.48" stroke="#262626" stroke-width="0.5"/>
<line x1="37.0" y1="31.40" x2="35.4" y2="31.40" stroke="#262626" stroke-width="0.5"/>
<line x1="37.0" y1="33.01" x2="35.4" y2="33.01" stroke="#262626" stroke-width="0.5"/>
<line x1="37.0" y1="34.41" x2="35.4" y2="34.41" stroke="#262626" stroke-width="0.5"/>
<line x1="37.0" y1="35.65" x2="35.4" y2="35.65" stroke="#262626" stroke-width="0.5"/>
<line x1="37.0" y1="36.76" x2="34.2" y2="36.76" stroke="#262626" stroke-width="0.63"/>
<text x="31.20" y="39.86" font-size="8.8" text-anchor="end"><tspan letter-spacing="0.3">10</tspan><tspan font-size="6.34" dy="-3.1">−6</tspan></text>
<line x1="37.0" y1="44.03" x2="35.4" y2="44.03" stroke="#262626" stroke-width="0.5"/>
<line x1="37.0" y1="48.28" x2="35.4" y2="48.28" stroke="#262626" stroke-width="0.5"/>
<line x1="37.0" y1="51.30" x2="35.4" y2="51.30" stroke="#262626" stroke-width="0.5"/>
<line x1="37.0" y1="53.64" x2="35.4" y2="53.64" stroke="#262626" stroke-width="0.5"/>
<line x1="37.0" y1="55.55" x2="35.4" y2="55.55" stroke="#262626" stroke-width="0.5"/>
<line x1="37.0" y1="57.17" x2="35.4" y2="57.17" stroke="#262626" stroke-width="0.5"/>
<line x1="37.0" y1="58.57" x2="35.4" y2="58.57" stroke="#262626" stroke-width="0.5"/>
<line x1="37.0" y1="59.81" x2="35.4" y2="59.81" stroke="#262626" stroke-width="0.5"/>
<line x1="37.0" y1="60.91" x2="35.4" y2="60.91" stroke="#262626" stroke-width="0.5"/>
<line x1="37.0" y1="68.18" x2="35.4" y2="68.18" stroke="#262626" stroke-width="0.5"/>
<line x1="37.0" y1="72.44" x2="35.4" y2="72.44" stroke="#262626" stroke-width="0.5"/>
<line x1="37.0" y1="75.45" x2="35.4" y2="75.45" stroke="#262626" stroke-width="0.5"/>
<line x1="37.0" y1="77.80" x2="35.4" y2="77.80" stroke="#262626" stroke-width="0.5"/>
<line x1="37.0" y1="79.71" x2="35.4" y2="79.71" stroke="#262626" stroke-width="0.5"/>
<line x1="37.0" y1="81.32" x2="35.4" y2="81.32" stroke="#262626" stroke-width="0.5"/>
<line x1="37.0" y1="82.73" x2="35.4" y2="82.73" stroke="#262626" stroke-width="0.5"/>
<line x1="37.0" y1="83.96" x2="35.4" y2="83.96" stroke="#262626" stroke-width="0.5"/>
<line x1="37.0" y1="85.07" x2="34.2" y2="85.07" stroke="#262626" stroke-width="0.63"/>
<text x="31.20" y="88.17" font-size="8.8" text-anchor="end"><tspan letter-spacing="0.3">10</tspan><tspan font-size="6.34" dy="-3.1">−4</tspan></text>
<line x1="37.0" y1="92.34" x2="35.4" y2="92.34" stroke="#262626" stroke-width="0.5"/>
<line x1="37.0" y1="96.59" x2="35.4" y2="96.59" stroke="#262626" stroke-width="0.5"/>
<line x1="37.0" y1="99.61" x2="35.4" y2="99.61" stroke="#262626" stroke-width="0.5"/>
<line x1="37.0" y1="101.95" x2="35.4" y2="101.95" stroke="#262626" stroke-width="0.5"/>
<line x1="37.0" y1="103.86" x2="35.4" y2="103.86" stroke="#262626" stroke-width="0.5"/>
<line x1="37.0" y1="105.48" x2="35.4" y2="105.48" stroke="#262626" stroke-width="0.5"/>
<line x1="37.0" y1="106.88" x2="35.4" y2="106.88" stroke="#262626" stroke-width="0.5"/>
<line x1="37.0" y1="108.12" x2="35.4" y2="108.12" stroke="#262626" stroke-width="0.5"/>
<line x1="37.0" y1="109.22" x2="35.4" y2="109.22" stroke="#262626" stroke-width="0.5"/>
<line x1="37.0" y1="116.49" x2="35.4" y2="116.49" stroke="#262626" stroke-width="0.5"/>
<line x1="37.0" y1="120.75" x2="35.4" y2="120.75" stroke="#262626" stroke-width="0.5"/>
<line x1="37.0" y1="123.77" x2="35.4" y2="123.77" stroke="#262626" stroke-width="0.5"/>
<line x1="37.0" y1="126.11" x2="35.4" y2="126.11" stroke="#262626" stroke-width="0.5"/>
<line x1="37.0" y1="128.02" x2="35.4" y2="128.02" stroke="#262626" stroke-width="0.5"/>
<line x1="37.0" y1="129.64" x2="35.4" y2="129.64" stroke="#262626" stroke-width="0.5"/>
<line x1="37.0" y1="131.04" x2="35.4" y2="131.04" stroke="#262626" stroke-width="0.5"/>
<line x1="37.0" y1="132.27" x2="35.4" y2="132.27" stroke="#262626" stroke-width="0.5"/>
<line x1="37.0" y1="133.38" x2="34.2" y2="133.38" stroke="#262626" stroke-width="0.63"/>
<text x="31.20" y="136.48" font-size="8.8" text-anchor="end"><tspan letter-spacing="0.3">10</tspan><tspan font-size="6.34" dy="-3.1">−2</tspan></text>
<line x1="37.0" y1="140.65" x2="35.4" y2="140.65" stroke="#262626" stroke-width="0.5"/>
<line x1="37.0" y1="144.90" x2="35.4" y2="144.90" stroke="#262626" stroke-width="0.5"/>
<line x1="37.0" y1="147.92" x2="35.4" y2="147.92" stroke="#262626" stroke-width="0.5"/>
<line x1="37.0" y1="150.26" x2="35.4" y2="150.26" stroke="#262626" stroke-width="0.5"/>
<line x1="37.0" y1="152.17" x2="35.4" y2="152.17" stroke="#262626" stroke-width="0.5"/>
<line x1="37.0" y1="153.79" x2="35.4" y2="153.79" stroke="#262626" stroke-width="0.5"/>
<line x1="37.0" y1="155.19" x2="35.4" y2="155.19" stroke="#262626" stroke-width="0.5"/>
<line x1="37.0" y1="156.43" x2="35.4" y2="156.43" stroke="#262626" stroke-width="0.5"/>
<line x1="37.0" y1="157.53" x2="35.4" y2="157.53" stroke="#262626" stroke-width="0.5"/>
<line x1="37.0" y1="164.80" x2="35.4" y2="164.80" stroke="#262626" stroke-width="0.5"/>
<line x1="37.0" y1="169.06" x2="35.4" y2="169.06" stroke="#262626" stroke-width="0.5"/>
<line x1="37.0" y1="172.08" x2="35.4" y2="172.08" stroke="#262626" stroke-width="0.5"/>
<line x1="37.0" y1="174.42" x2="35.4" y2="174.42" stroke="#262626" stroke-width="0.5"/>
<line x1="37.0" y1="176.33" x2="35.4" y2="176.33" stroke="#262626" stroke-width="0.5"/>
<line x1="37.0" y1="177.95" x2="35.4" y2="177.95" stroke="#262626" stroke-width="0.5"/>
<line x1="37.0" y1="179.35" x2="35.4" y2="179.35" stroke="#262626" stroke-width="0.5"/>
<line x1="37.0" y1="180.58" x2="35.4" y2="180.58" stroke="#262626" stroke-width="0.5"/>
<line x1="37.0" y1="181.69" x2="34.2" y2="181.69" stroke="#262626" stroke-width="0.63"/>
<text x="31.20" y="184.79" font-size="8.8" text-anchor="end"><tspan letter-spacing="0.3">10</tspan><tspan font-size="6.34" dy="-3.1">0</tspan></text>
<line x1="37.0" y1="188.96" x2="35.4" y2="188.96" stroke="#262626" stroke-width="0.5"/>
<line x1="37.0" y1="193.21" x2="35.4" y2="193.21" stroke="#262626" stroke-width="0.5"/>
<line x1="37.0" y1="196.23" x2="35.4" y2="196.23" stroke="#262626" stroke-width="0.5"/>
<line x1="37.0" y1="198.57" x2="35.4" y2="198.57" stroke="#262626" stroke-width="0.5"/>
<line x1="37.0" y1="200.49" x2="35.4" y2="200.49" stroke="#262626" stroke-width="0.5"/>
<line x1="37.0" y1="202.10" x2="35.4" y2="202.10" stroke="#262626" stroke-width="0.5"/>
<line x1="37.0" y1="203.50" x2="35.4" y2="203.50" stroke="#262626" stroke-width="0.5"/>
<line x1="37.0" y1="204.74" x2="35.4" y2="204.74" stroke="#262626" stroke-width="0.5"/>
<line x1="37.0" y1="205.84" x2="35.4" y2="205.84" stroke="#262626" stroke-width="0.5"/>
<line x1="37.0" y1="213.12" x2="35.4" y2="213.12" stroke="#262626" stroke-width="0.5"/>
<line x1="37.0" y1="217.37" x2="35.4" y2="217.37" stroke="#262626" stroke-width="0.5"/>
<line x1="37.0" y1="220.39" x2="35.4" y2="220.39" stroke="#262626" stroke-width="0.5"/>
<line x1="37.0" y1="222.73" x2="35.4" y2="222.73" stroke="#262626" stroke-width="0.5"/>
<line x1="37.0" y1="224.64" x2="35.4" y2="224.64" stroke="#262626" stroke-width="0.5"/>
<line x1="37.0" y1="226.26" x2="35.4" y2="226.26" stroke="#262626" stroke-width="0.5"/>
<line x1="37.0" y1="227.66" x2="35.4" y2="227.66" stroke="#262626" stroke-width="0.5"/>
<line x1="37.0" y1="228.89" x2="35.4" y2="228.89" stroke="#262626" stroke-width="0.5"/>
<line x1="37.0" y1="230.00" x2="34.2" y2="230.00" stroke="#262626" stroke-width="0.63"/>
<text x="31.20" y="233.10" font-size="8.8" text-anchor="end"><tspan letter-spacing="0.3">10</tspan><tspan font-size="6.34" dy="-3.1">2</tspan></text>
<rect x="37.0" y="12.6" width="302.30" height="217.40" fill="none" stroke="#262626" stroke-width="0.7"/>
<text x="188.15" y="7.70" font-size="10.4" text-anchor="middle">CH<tspan font-size="7.4" dy="1.8">4</tspan></text>
<text x="188.15" y="255.20" font-size="10.0" text-anchor="middle" textLength="96" lengthAdjust="spacingAndGlyphs">Volume mixing ratio</text>
<text transform="translate(7.40,121.20) rotate(-90)" font-size="9.8" text-anchor="middle" textLength="66" lengthAdjust="spacingAndGlyphs">Pressure (bar)</text>
<defs><clipPath id="cp2"><rect x="405.5" y="12.6" width="311.00" height="217.40"/></clipPath></defs>
<g clip-path="url(#cp2)">
<path d="M705.90,12.00 C704.42,12.30 704.43,12.92 697.00,13.80 C689.57,14.68 673.47,15.87 661.30,17.30 C649.13,18.73 638.92,19.80 624.00,22.40 C609.08,25.00 587.47,30.45 571.80,32.90 C556.13,35.35 540.39,36.41 530.00,37.10 C519.61,37.79 519.84,36.03 509.45,37.07 C499.06,38.11 478.11,41.25 467.67,43.33 C457.22,45.42 451.65,47.34 446.78,49.60 C441.91,51.86 438.42,54.82 438.42,56.91 C438.42,59.00 441.91,60.22 446.78,62.14 C451.65,64.05 460.01,66.31 467.67,68.40 C475.33,70.49 486.47,72.93 492.74,74.67 C499.00,76.41 503.53,77.11 505.27,78.85 C507.01,80.59 504.23,83.03 503.18,85.11 C502.14,87.20 499.00,88.60 499.00,91.38 C499.00,94.17 501.79,98.00 503.18,101.83 C504.58,105.66 506.32,111.16 507.36,114.36 C508.41,117.56 508.41,117.85 509.45,121.05 C510.49,124.24 512.23,129.36 513.63,133.53 C515.02,137.70 516.41,141.89 517.81,146.07 C519.20,150.25 521.29,156.51 521.98,158.60" fill="none" stroke="#8c8c8c" stroke-width="1.1" stroke-linecap="butt" stroke-linejoin="round" stroke-dasharray="1.2,1.9"/>
<path d="M718.00,12.50 C715.08,12.87 706.98,13.60 700.50,14.70 C694.02,15.80 687.12,17.47 679.10,19.10 C671.08,20.73 662.20,22.72 652.40,24.50 C642.60,26.28 633.73,27.02 620.30,29.80 C606.87,32.58 586.85,38.95 571.80,41.20 C556.75,43.45 540.39,42.94 530.00,43.30 C519.61,43.66 519.84,42.28 509.45,43.33 C499.06,44.39 476.72,47.51 467.67,49.60 C458.62,51.69 456.53,53.78 455.14,55.87 C453.74,57.96 455.48,60.05 459.31,62.14 C463.14,64.22 471.50,66.31 478.11,68.40 C484.73,70.49 494.13,72.23 499.00,74.67 C503.88,77.11 505.27,79.54 507.36,83.03 C509.45,86.51 509.80,91.38 511.54,95.56 C513.28,99.74 516.41,103.85 517.81,108.09 C519.20,112.34 518.50,116.81 519.89,121.05 C521.29,125.29 524.42,129.36 526.16,133.53 C527.90,137.70 530.34,141.89 530.34,146.07 C530.34,150.25 526.86,156.51 526.16,158.60" fill="none" stroke="#8c8c8c" stroke-width="1.1" stroke-linecap="butt" stroke-linejoin="round" stroke-dasharray="1.2,1.9"/>
<path d="M697.00,13.80 C694.92,14.98 687.18,18.82 684.50,20.90 C681.82,22.98 683.28,24.22 680.90,26.30 C678.52,28.38 677.92,30.73 670.20,33.40 C662.48,36.07 647.97,39.48 634.60,42.30 C621.23,45.12 602.22,45.95 590.00,50.30 C577.78,54.65 571.30,64.33 561.30,68.40 C551.30,72.47 534.46,73.83 530.00,74.70 C525.54,75.57 537.94,74.85 534.52,73.63 C531.09,72.40 517.11,69.27 509.45,67.36 C501.79,65.44 493.43,63.88 488.56,62.14 C483.69,60.39 480.90,58.31 480.20,56.91 C479.51,55.52 479.51,55.17 484.38,53.78 C489.26,52.39 497.68,50.30 509.45,48.56 C521.22,46.82 547.40,44.21 554.99,43.33" fill="none" stroke="#8c8c8c" stroke-width="1.1" stroke-linecap="butt" stroke-linejoin="round" stroke-dasharray="1.2,1.9"/>
<path d="M552.98,12.00 C553.05,15.48 553.40,25.93 553.40,32.89 C553.40,39.85 553.40,48.21 552.98,53.78 C552.56,59.35 552.63,62.83 550.89,66.31 C549.15,69.80 543.93,73.28 542.53,74.67" fill="none" stroke="#8c8c8c" stroke-width="1.1" stroke-linecap="butt" stroke-linejoin="round" stroke-dasharray="1.2,1.9"/>
<path d="M559.25,12.00 C559.32,15.48 559.66,25.93 559.66,32.89 C559.66,39.85 558.97,48.91 559.25,53.78 C559.52,58.65 552.63,57.61 561.33,62.14 C570.04,66.66 606.25,74.67 611.47,80.94 C616.69,87.20 599.28,93.47 592.67,99.74 C586.05,106.00 581.47,108.73 571.78,118.54 C562.09,128.35 542.82,151.92 534.52,158.60 C526.22,165.28 524.07,158.60 521.98,158.60" fill="none" stroke="#8c8c8c" stroke-width="1.1" stroke-linecap="butt" stroke-linejoin="round" stroke-dasharray="1.2,1.9"/>
<path d="M619.83,24.53 C620.17,25.93 621.92,29.06 621.92,32.89 C621.92,36.72 624.70,42.29 619.83,47.51 C614.95,52.74 602.42,58.65 592.67,64.22 C582.92,69.80 566.56,78.15 561.33,80.94" fill="none" stroke="#8c8c8c" stroke-width="1.1" stroke-linecap="butt" stroke-linejoin="round" stroke-dasharray="1.2,1.9"/>
<path d="M521.98,158.60 C524.77,156.86 533.19,151.99 538.70,148.16 C544.20,144.33 550.17,145.09 554.99,135.62 C559.81,126.16 563.06,100.50 567.60,91.38 C572.14,82.27 574.91,86.16 582.22,80.94 C589.54,75.71 604.16,66.31 611.47,60.05 C618.78,53.78 614.67,49.25 626.09,43.33 C637.51,37.42 671.01,27.67 679.99,24.53" fill="none" stroke="#8c8c8c" stroke-width="1.1" stroke-linecap="butt" stroke-linejoin="round" stroke-dasharray="1.2,1.9"/>
<path d="M519.89,156.51 C522.33,154.77 529.29,150.59 534.52,146.07 C539.74,141.54 547.82,133.53 551.23,129.36 C554.64,125.18 554.36,122.39 554.99,121.00" fill="none" stroke="#8c8c8c" stroke-width="1.1" stroke-linecap="butt" stroke-linejoin="round" stroke-dasharray="1.2,1.9"/>
<path d="M405.00,224.41 C408.48,223.81 418.93,222.00 425.89,220.85 C432.85,219.70 440.51,218.59 446.78,217.51 C453.05,216.43 459.24,215.42 463.49,214.38 C467.74,213.33 470.39,212.36 472.27,211.24 C474.15,210.13 474.46,209.33 474.77,207.69 C475.09,206.06 474.11,203.69 474.15,201.43 C474.18,199.16 474.49,196.38 474.98,194.11 C475.47,191.85 476.20,190.28 477.07,187.85 C477.94,185.41 478.99,182.45 480.20,179.49 C481.42,176.53 482.29,173.40 484.38,170.09 C486.47,166.78 489.60,163.30 492.74,159.65 C495.87,155.99 500.40,151.81 503.18,148.16 C505.97,144.50 507.71,141.19 509.45,137.71 C511.19,134.23 512.87,131.14 513.63,127.27 C514.39,123.39 512.82,119.15 514.01,114.48 C515.20,109.80 518.24,104.04 520.78,99.24 C523.32,94.45 525.86,90.50 529.24,85.70 C532.63,80.90 536.86,74.70 541.09,70.47 C545.32,66.24 550.12,62.85 554.63,60.31 C559.14,57.77 562.28,58.05 568.17,55.23 C574.07,52.41 585.92,46.06 590.01,43.39 C594.09,40.71 588.74,42.30 592.67,39.16 C596.60,36.02 609.03,29.06 613.56,24.53 C618.09,20.01 618.78,14.09 619.83,12.00" fill="none" stroke="#9e0142" stroke-width="1.6" stroke-linecap="butt" stroke-linejoin="round"/>
<path d="M405.00,224.41 C408.48,223.81 418.93,222.00 425.89,220.85 C432.85,219.70 440.51,218.59 446.78,217.51 C453.05,216.43 459.24,215.42 463.49,214.38 C467.74,213.33 470.39,212.36 472.27,211.24 C474.15,210.13 474.46,209.33 474.77,207.69 C475.09,206.06 474.11,203.69 474.15,201.43 C474.18,199.16 474.49,196.38 474.98,194.11 C475.47,191.85 475.57,191.53 477.07,187.85 C478.57,184.16 482.10,175.64 484.00,172.00 C485.90,168.36 484.93,170.95 488.50,166.00 C492.07,161.05 500.82,147.97 505.40,142.30 C509.98,136.63 513.47,134.25 516.00,132.00 C518.53,129.75 519.83,131.88 520.60,128.80 C521.37,125.72 520.00,118.15 520.60,113.50 C521.20,108.85 521.92,105.53 524.20,100.90 C526.48,96.27 530.63,91.05 534.30,85.70 C537.97,80.35 541.97,73.32 546.20,68.80 C550.43,64.28 555.47,61.15 559.70,58.60 C563.93,56.05 566.55,55.85 571.60,53.50 C576.65,51.15 585.79,47.24 590.00,44.50 C594.21,41.76 592.92,40.50 596.85,37.07 C600.77,33.64 609.66,28.09 613.56,23.91 C617.46,19.73 619.13,13.98 620.24,12.00" fill="none" stroke="#cb334d" stroke-width="1.6" stroke-linecap="butt" stroke-linejoin="round"/>
<path d="M405.00,224.41 C408.48,223.81 418.93,222.00 425.89,220.85 C432.85,219.70 440.51,218.59 446.78,217.51 C453.05,216.43 459.24,215.42 463.49,214.38 C467.74,213.33 470.39,212.36 472.27,211.24 C474.15,210.13 474.46,209.33 474.77,207.69 C475.09,206.06 474.11,203.69 474.15,201.43 C474.18,199.16 474.49,196.38 474.98,194.11 C475.47,191.85 476.10,191.16 477.07,187.85 C478.04,184.54 478.08,178.80 480.79,174.27 C483.50,169.74 488.80,165.39 493.33,160.69 C497.85,155.99 503.77,150.94 507.95,146.07 C512.13,141.19 515.38,136.99 518.39,131.44 C521.41,125.90 523.08,119.00 526.05,112.78 C529.02,106.57 532.26,100.65 536.20,94.16 C540.15,87.68 546.36,78.65 549.75,73.85 C553.13,69.06 554.26,68.21 556.52,65.39 C558.77,62.57 561.03,59.18 563.29,56.93 C565.54,54.67 565.41,54.46 570.06,51.85 C574.70,49.23 584.87,44.75 591.17,41.25 C597.47,37.74 603.53,35.68 607.88,30.80 C612.23,25.93 615.72,15.13 617.28,12.00" fill="none" stroke="#e95c47" stroke-width="1.6" stroke-linecap="butt" stroke-linejoin="round"/>
<path d="M405.00,224.41 C408.48,223.81 418.93,222.00 425.89,220.85 C432.85,219.70 440.51,218.59 446.78,217.51 C453.05,216.43 459.24,215.42 463.49,214.38 C467.74,213.33 470.39,212.36 472.27,211.24 C474.15,210.13 474.46,209.33 474.77,207.69 C475.09,206.06 474.11,203.69 474.15,201.43 C474.18,199.16 474.49,196.38 474.98,194.11 C475.47,191.85 475.85,191.16 477.07,187.85 C478.29,184.54 479.33,178.80 482.29,174.27 C485.25,169.74 490.30,165.39 494.83,160.69 C499.35,155.99 505.27,150.94 509.45,146.07 C513.63,141.19 516.88,136.99 519.89,131.44 C522.91,125.90 524.58,119.00 527.55,112.78 C530.52,106.57 533.76,100.65 537.70,94.16 C541.65,87.68 547.86,78.65 551.25,73.85 C554.63,69.06 555.76,68.21 558.02,65.39 C560.27,62.57 562.53,59.18 564.79,56.93 C567.04,54.67 566.91,54.46 571.56,51.85 C576.20,49.23 586.37,44.75 592.67,41.25 C598.97,37.74 605.03,35.68 609.38,30.80 C613.73,25.93 617.22,15.13 618.78,12.00" fill="none" stroke="#f98e52" stroke-width="1.6" stroke-linecap="butt" stroke-linejoin="round"/>
<path d="M405.00,224.41 C408.48,223.81 418.93,222.00 425.89,220.85 C432.85,219.70 440.51,218.59 446.78,217.51 C453.05,216.43 459.24,215.42 463.49,214.38 C467.74,213.33 470.39,212.36 472.27,211.24 C474.15,210.13 474.46,209.33 474.77,207.69 C475.09,206.06 474.11,203.69 474.15,201.43 C474.18,199.16 474.49,196.38 474.98,194.11 C475.47,191.85 475.50,190.63 477.07,187.85 C478.64,185.06 480.38,181.23 484.38,177.40 C488.39,173.57 495.52,169.05 501.09,164.87 C506.66,160.69 513.11,159.04 517.81,152.33 C522.50,145.63 525.36,132.07 529.24,124.63 C533.12,117.19 536.86,113.06 541.09,107.70 C545.32,102.34 551.25,96.42 554.63,92.47 C558.02,88.52 559.41,90.46 561.40,84.01 C563.39,77.56 565.18,61.26 566.56,53.78 C567.94,46.30 567.08,44.03 569.69,39.16 C572.30,34.28 578.39,29.06 582.22,24.53 C586.05,20.01 590.93,14.09 592.67,12.00" fill="none" stroke="#fdbf6f" stroke-width="1.6" stroke-linecap="butt" stroke-linejoin="round"/>
<path d="M405.00,224.41 C408.48,223.81 418.93,222.00 425.89,220.85 C432.85,219.70 440.51,218.59 446.78,217.51 C453.05,216.43 459.24,215.42 463.49,214.38 C467.74,213.33 470.39,212.36 472.27,211.24 C474.15,210.13 474.46,209.33 474.77,207.69 C475.09,206.06 474.11,203.69 474.15,201.43 C474.18,199.16 474.49,196.38 474.98,194.11 C475.47,191.85 475.85,189.59 477.07,187.85 C478.29,186.11 478.29,186.80 482.29,183.67 C486.30,180.54 494.83,173.57 501.09,169.05 C507.36,164.52 512.38,166.45 519.89,156.51 C527.41,146.57 539.81,119.79 546.17,109.40 C552.52,99.01 555.05,98.96 558.02,94.16 C560.98,89.37 562.41,87.35 563.94,80.62 C565.47,73.89 565.88,61.74 567.18,53.78 C568.49,45.82 569.97,39.85 571.78,32.89 C573.59,25.93 577.00,15.48 578.05,12.00" fill="none" stroke="#fee593" stroke-width="1.6" stroke-linecap="butt" stroke-linejoin="round"/>
<path d="M405.00,224.41 C408.48,223.81 418.93,222.00 425.89,220.85 C432.85,219.70 440.51,218.59 446.78,217.51 C453.05,216.43 459.24,215.42 463.49,214.38 C467.74,213.33 470.39,212.36 472.27,211.24 C474.15,210.13 474.46,209.33 474.77,207.69 C475.09,206.06 474.11,203.69 474.15,201.43 C474.18,199.16 474.49,196.38 474.98,194.11 C475.47,191.85 475.43,189.59 477.07,187.85 C478.71,186.11 480.37,186.80 484.79,183.67 C489.21,180.54 497.33,173.57 503.59,169.05 C509.86,164.52 514.88,166.45 522.39,156.51 C529.91,146.57 542.31,119.79 548.67,109.40 C555.02,99.01 557.55,98.96 560.52,94.16 C563.48,89.37 564.91,87.35 566.44,80.62 C567.97,73.89 568.38,61.74 569.68,53.78 C570.99,45.82 572.47,39.85 574.28,32.89 C576.09,25.93 579.50,15.48 580.55,12.00" fill="none" stroke="#ffffbe" stroke-width="1.6" stroke-linecap="butt" stroke-linejoin="round"/>
<path d="M405.00,224.41 C408.48,223.81 418.93,222.00 425.89,220.85 C432.85,219.70 440.51,218.59 446.78,217.51 C453.05,216.43 459.24,215.42 463.49,214.38 C467.74,213.33 470.39,212.36 472.27,211.24 C474.15,210.13 474.46,209.33 474.77,207.69 C475.09,206.06 474.11,203.69 474.15,201.43 C474.18,199.16 474.49,196.38 474.98,194.11 C475.47,191.85 476.40,188.20 477.07,187.85 C477.74,187.50 477.31,193.07 479.03,192.03 C480.74,190.98 483.55,185.06 487.38,181.58 C491.21,178.10 496.43,174.97 502.00,171.14 C507.58,167.31 516.63,162.08 520.81,158.60 C524.98,155.12 524.98,154.42 527.07,150.25 C529.16,146.07 531.25,138.41 533.34,133.53 C535.43,128.66 538.62,123.08 539.61,121.00 C540.59,118.92 537.23,123.89 539.27,121.05 C541.30,118.20 547.97,108.86 551.80,103.92 C555.63,98.97 559.29,95.91 562.25,91.38 C565.21,86.86 567.99,83.03 569.56,76.76 C571.12,70.49 571.30,61.09 571.65,53.78 C571.99,46.47 571.65,39.85 571.65,32.89 C571.65,25.93 571.65,15.48 571.65,12.00" fill="none" stroke="#eaf79e" stroke-width="1.6" stroke-linecap="butt" stroke-linejoin="round"/>
<path d="M405.00,224.41 C408.48,223.81 418.93,222.00 425.89,220.85 C432.85,219.70 440.51,218.59 446.78,217.51 C453.05,216.43 459.24,215.42 463.49,214.38 C467.74,213.33 470.39,212.36 472.27,211.24 C474.15,210.13 474.46,209.33 474.77,207.69 C475.09,206.06 474.11,203.69 474.15,201.43 C474.18,199.16 474.49,196.38 474.98,194.11 C475.47,191.85 476.73,188.20 477.07,187.85 C477.41,187.50 475.64,193.07 477.03,192.03 C478.41,190.98 481.55,185.06 485.38,181.58 C489.21,178.10 494.43,174.97 500.00,171.14 C505.58,167.31 514.63,162.08 518.81,158.60 C522.98,155.12 522.98,154.42 525.07,150.25 C527.16,146.07 529.25,138.41 531.34,133.53 C533.43,128.66 536.62,123.08 537.61,121.00 C538.59,118.92 535.23,123.89 537.27,121.05 C539.30,118.20 545.97,108.86 549.80,103.92 C553.63,98.97 557.29,95.91 560.25,91.38 C563.21,86.86 565.99,83.03 567.56,76.76 C569.12,70.49 569.30,61.09 569.65,53.78 C569.99,46.47 569.65,39.85 569.65,32.89 C569.65,25.93 569.65,15.48 569.65,12.00" fill="none" stroke="#bfe5a0" stroke-width="1.6" stroke-linecap="butt" stroke-linejoin="round"/>
<path d="M405.00,224.41 C408.48,223.81 418.93,222.00 425.89,220.85 C432.85,219.70 440.51,218.59 446.78,217.51 C453.05,216.43 459.24,215.42 463.49,214.38 C467.74,213.33 470.39,212.36 472.27,211.24 C474.15,210.13 474.46,209.33 474.77,207.69 C475.09,206.06 474.11,203.69 474.15,201.43 C474.18,199.16 474.49,196.38 474.98,194.11 C475.47,191.85 477.15,188.20 477.07,187.85 C476.99,187.50 473.56,193.07 474.53,192.03 C475.49,190.98 479.05,185.06 482.88,181.58 C486.71,178.10 491.93,174.97 497.50,171.14 C503.08,167.31 512.13,162.08 516.31,158.60 C520.48,155.12 520.48,154.42 522.57,150.25 C524.66,146.07 526.75,138.41 528.84,133.53 C530.93,128.66 534.12,123.08 535.11,121.00 C536.09,118.92 532.73,123.89 534.77,121.05 C536.80,118.20 543.47,108.86 547.30,103.92 C551.13,98.97 554.79,95.91 557.75,91.38 C560.71,86.86 563.49,83.03 565.06,76.76 C566.62,70.49 566.80,61.09 567.15,53.78 C567.49,46.47 567.15,39.85 567.15,32.89 C567.15,25.93 567.15,15.48 567.15,12.00" fill="none" stroke="#86cfa5" stroke-width="1.6" stroke-linecap="butt" stroke-linejoin="round"/>
<path d="M405.00,224.41 C408.48,223.81 418.93,222.00 425.89,220.85 C432.85,219.70 440.51,218.59 446.78,217.51 C453.05,216.43 459.24,215.42 463.49,214.38 C467.74,213.33 470.39,212.36 472.27,211.24 C474.15,210.13 474.46,209.33 474.77,207.69 C475.09,206.06 474.11,203.69 474.15,201.43 C474.18,199.16 474.49,196.38 474.98,194.11 C475.47,191.85 476.72,188.54 477.07,187.85 C477.42,187.15 474.46,192.03 477.07,189.94 C479.68,187.85 486.64,180.19 492.74,175.31 C498.83,170.44 508.06,165.57 513.63,160.69 C519.20,155.82 522.68,151.29 526.16,146.07 C529.64,140.85 532.49,134.29 534.52,129.36 C536.55,124.42 534.93,122.78 538.36,116.45 C541.78,110.12 550.54,98.69 555.07,91.38 C559.59,84.07 563.25,78.85 565.51,72.58 C567.78,66.31 567.95,58.65 568.65,53.78 C569.34,48.91 565.69,47.16 569.69,43.33 C573.69,39.51 585.36,34.98 592.67,30.80 C599.98,26.62 609.38,21.40 613.56,18.27 C617.74,15.13 617.04,13.04 617.74,12.00" fill="none" stroke="#54aead" stroke-width="1.6" stroke-linecap="butt" stroke-linejoin="round"/>
<path d="M405.00,224.41 C408.48,223.81 418.93,222.00 425.89,220.85 C432.85,219.70 440.51,218.59 446.78,217.51 C453.05,216.43 459.24,215.42 463.49,214.38 C467.74,213.33 470.39,212.36 472.27,211.24 C474.15,210.13 474.46,209.33 474.77,207.69 C475.09,206.06 474.11,203.69 474.15,201.43 C474.18,199.16 474.49,196.38 474.98,194.11 C475.47,191.85 476.55,189.24 477.07,187.85 C477.59,186.46 475.50,188.54 478.11,185.76 C480.73,182.97 487.52,175.14 492.74,171.14 C497.96,167.13 504.58,164.87 509.45,161.74 C514.32,158.60 518.15,156.34 521.98,152.33 C525.81,148.33 529.99,142.24 532.43,137.71 C534.87,133.19 535.97,128.37 536.61,125.18 C537.25,121.98 534.58,123.47 536.27,118.54 C537.95,113.60 543.23,102.87 546.71,95.56 C550.19,88.25 554.02,80.59 557.16,74.67 C560.29,68.75 563.08,63.53 565.51,60.05 C567.95,56.57 568.99,55.35 571.78,53.78 C574.57,52.21 577.00,52.80 582.22,50.65 C587.45,48.49 597.20,44.55 603.11,40.83 C609.03,37.10 614.53,32.75 617.74,28.29 C620.94,23.84 621.57,16.46 622.33,14.09" fill="none" stroke="#3a7eb8" stroke-width="1.6" stroke-linecap="butt" stroke-linejoin="round"/>
<path d="M405.00,224.41 C408.48,223.81 418.93,222.00 425.89,220.85 C432.85,219.70 440.51,218.59 446.78,217.51 C453.05,216.43 459.24,215.42 463.49,214.38 C467.74,213.33 470.39,212.36 472.27,211.24 C474.15,210.13 474.46,209.33 474.77,207.69 C475.09,206.06 474.11,203.69 474.15,201.43 C474.18,199.16 474.49,196.38 474.98,194.11 C475.47,191.85 476.03,190.28 477.07,187.85 C478.11,185.41 477.94,183.67 481.25,179.49 C484.56,175.31 492.56,167.31 496.92,162.78 C501.27,158.25 503.88,156.16 507.36,152.33 C510.84,148.51 514.72,143.52 517.81,139.80 C520.89,136.09 523.67,135.96 525.86,130.05 C528.04,124.13 528.96,111.43 530.93,104.32 C532.91,97.21 534.60,92.75 537.70,87.39 C540.81,82.03 545.04,76.39 549.55,72.16 C554.07,67.93 559.99,65.11 564.79,62.00 C569.58,58.90 575.42,55.26 578.33,53.54 C581.23,51.82 578.09,53.74 582.22,51.69 C586.36,49.64 597.20,45.08 603.11,41.25 C609.03,37.42 614.43,33.24 617.74,28.71 C621.05,24.19 622.09,16.53 622.96,14.09" fill="none" stroke="#5e4fa2" stroke-width="1.6" stroke-linecap="butt" stroke-linejoin="round"/>
<path d="M475.84,194.40 C476.18,193.36 476.71,191.43 477.91,188.16 C479.12,184.89 480.12,179.24 483.05,174.76 C485.97,170.29 490.96,166.00 495.47,161.32 C499.99,156.63 505.93,151.56 510.13,146.65 C514.33,141.75 517.65,137.46 520.69,131.87 C523.72,126.29 525.40,119.38 528.36,113.17 C531.33,106.96 534.54,101.10 538.47,94.63 C542.41,88.17 548.61,79.15 551.98,74.37 C555.36,69.59 556.48,68.75 558.72,65.95 C560.96,63.15 563.21,59.78 565.42,57.56 C567.64,55.34 567.38,55.22 572.00,52.63 C576.61,50.04 586.76,45.57 593.11,42.03 C599.45,38.49 605.64,36.34 610.05,31.40 C614.47,26.46 618.00,15.57 619.59,12.40" fill="none" stroke="#f98e52" stroke-width="1.7" stroke-linecap="butt" stroke-linejoin="round" stroke-dasharray="4.4,1.9"/>
<path d="M475.84,194.40 C476.18,193.37 477.58,188.88 477.88,188.25 C478.17,187.62 475.06,192.68 477.63,190.64 C480.20,188.60 487.20,180.90 493.30,176.02 C499.40,171.14 508.62,166.28 514.22,161.37 C519.82,156.46 523.39,151.85 526.91,146.57 C530.43,141.29 533.31,134.65 535.35,129.70 C537.39,124.75 535.73,123.19 539.15,116.88 C542.56,110.57 551.30,99.19 555.83,91.86 C560.37,84.52 564.08,79.21 566.36,72.89 C568.64,66.56 568.88,58.72 569.54,53.91 C570.20,49.09 566.38,47.71 570.31,43.99 C574.24,40.26 585.82,35.75 593.12,31.58 C600.41,27.42 609.87,22.17 614.10,18.99 C618.33,15.81 617.76,13.58 618.49,12.50" fill="none" stroke="#54aead" stroke-width="1.7" stroke-linecap="butt" stroke-linejoin="round" stroke-dasharray="4.4,1.9"/>
<path d="M475.84,194.40 C476.18,193.37 476.88,190.59 477.90,188.20 C478.92,185.81 478.68,184.18 481.95,180.05 C485.23,175.92 493.22,167.92 497.56,163.40 C501.91,158.89 504.54,156.78 508.03,152.94 C511.52,149.10 515.39,144.14 518.50,140.38 C521.61,136.61 524.48,136.33 526.70,130.36 C528.92,124.39 529.84,111.65 531.80,104.56 C533.77,97.47 535.42,93.13 538.48,87.84 C541.54,82.55 545.70,77.00 550.17,72.82 C554.63,68.64 560.51,65.84 565.28,62.76 C570.05,59.68 575.89,56.03 578.79,54.32 C581.68,52.61 578.49,54.55 582.62,52.50 C586.76,50.44 597.63,45.88 603.60,42.00 C609.58,38.13 615.10,33.84 618.46,29.24 C621.83,24.64 622.92,16.87 623.81,14.39" fill="none" stroke="#5e4fa2" stroke-width="1.7" stroke-linecap="butt" stroke-linejoin="round" stroke-dasharray="4.4,1.9"/>
<path d="M405.00,224.41 C408.48,223.81 418.93,222.00 425.89,220.85 C432.85,219.70 440.51,218.59 446.78,217.51 C453.05,216.43 459.24,215.42 463.49,214.38 C467.74,213.33 470.39,212.36 472.27,211.24 C474.15,210.13 474.46,209.33 474.77,207.69 C475.09,206.06 474.11,203.69 474.15,201.43 C474.18,199.16 474.49,196.38 474.98,194.11 C475.47,191.85 476.72,188.89 477.07,187.85" fill="none" stroke="#4a4aa6" stroke-width="1.7" stroke-linecap="butt" stroke-linejoin="round"/>
<path d="M405.00,224.41 C408.48,223.81 418.93,222.00 425.89,220.85 C432.85,219.70 440.51,218.59 446.78,217.51 C453.05,216.43 459.24,215.42 463.49,214.38 C467.74,213.33 470.39,212.36 472.27,211.24 C474.15,210.13 474.46,209.33 474.77,207.69 C475.09,206.06 474.11,203.69 474.15,201.43 C474.18,199.16 474.49,196.38 474.98,194.11 C475.47,191.85 476.72,188.89 477.07,187.85" fill="none" stroke="#f0c080" stroke-width="1.7" stroke-linecap="butt" stroke-linejoin="round" stroke-dasharray="0.6,5.7" stroke-opacity="0.6"/>
</g>
<line x1="668.3" y1="78.90" x2="684.5" y2="78.90" stroke="#9e0142" stroke-width="1.1"/>
<text x="690.8" y="81.50" font-size="9.0">3</text>
<circle cx="697.60" cy="76.50" r="0.75" fill="none" stroke="#222" stroke-width="0.65"/>
<line x1="668.3" y1="90.53" x2="684.5" y2="90.53" stroke="#cb334d" stroke-width="1.1"/>
<text x="690.8" y="93.13" font-size="9.0">31</text>
<circle cx="702.61" cy="88.13" r="0.75" fill="none" stroke="#222" stroke-width="0.65"/>
<line x1="668.3" y1="102.16" x2="684.5" y2="102.16" stroke="#e95c47" stroke-width="1.1"/>
<text x="690.8" y="104.76" font-size="9.0">59</text>
<circle cx="702.61" cy="99.76" r="0.75" fill="none" stroke="#222" stroke-width="0.65"/>
<line x1="668.3" y1="113.79" x2="684.5" y2="113.79" stroke="#f98e52" stroke-width="1.1"/>
<text x="690.8" y="116.39" font-size="9.0">87</text>
<circle cx="702.61" cy="111.39" r="0.75" fill="none" stroke="#222" stroke-width="0.65"/>
<line x1="668.3" y1="125.42" x2="684.5" y2="125.42" stroke="#fdbf6f" stroke-width="1.1"/>
<text x="690.8" y="128.02" font-size="9.0">115</text>
<circle cx="707.61" cy="123.02" r="0.75" fill="none" stroke="#222" stroke-width="0.65"/>
<line x1="668.3" y1="137.05" x2="684.5" y2="137.05" stroke="#fee593" stroke-width="1.1"/>
<text x="690.8" y="139.65" font-size="9.0">143</text>
<circle cx="707.61" cy="134.65" r="0.75" fill="none" stroke="#222" stroke-width="0.65"/>
<line x1="668.3" y1="148.68" x2="684.5" y2="148.68" stroke="#ffffbe" stroke-width="1.1"/>
<text x="690.8" y="151.28" font-size="9.0">172</text>
<circle cx="707.61" cy="146.28" r="0.75" fill="none" stroke="#222" stroke-width="0.65"/>
<line x1="668.3" y1="160.31" x2="684.5" y2="160.31" stroke="#eaf79e" stroke-width="1.1"/>
<text x="690.8" y="162.91" font-size="9.0">200</text>
<circle cx="707.61" cy="157.91" r="0.75" fill="none" stroke="#222" stroke-width="0.65"/>
<line x1="668.3" y1="171.94" x2="684.5" y2="171.94" stroke="#bfe5a0" stroke-width="1.1"/>
<text x="690.8" y="174.54" font-size="9.0">228</text>
<circle cx="707.61" cy="169.54" r="0.75" fill="none" stroke="#222" stroke-width="0.65"/>
<line x1="668.3" y1="183.57" x2="684.5" y2="183.57" stroke="#86cfa5" stroke-width="1.1"/>
<text x="690.8" y="186.17" font-size="9.0">256</text>
<circle cx="707.61" cy="181.17" r="0.75" fill="none" stroke="#222" stroke-width="0.65"/>
<line x1="668.3" y1="195.20" x2="684.5" y2="195.20" stroke="#54aead" stroke-width="1.1"/>
<text x="690.8" y="197.80" font-size="9.0">284</text>
<circle cx="707.61" cy="192.80" r="0.75" fill="none" stroke="#222" stroke-width="0.65"/>
<line x1="668.3" y1="206.83" x2="684.5" y2="206.83" stroke="#3a7eb8" stroke-width="1.1"/>
<text x="690.8" y="209.43" font-size="9.0">312</text>
<circle cx="707.61" cy="204.43" r="0.75" fill="none" stroke="#222" stroke-width="0.65"/>
<line x1="668.3" y1="218.46" x2="684.5" y2="218.46" stroke="#5e4fa2" stroke-width="1.1"/>
<text x="690.8" y="221.06" font-size="9.0">340</text>
<circle cx="707.61" cy="216.06" r="0.75" fill="none" stroke="#222" stroke-width="0.65"/>
<line x1="405.50" y1="230.0" x2="405.50" y2="232.8" stroke="#262626" stroke-width="0.63"/>
<text x="405.50" y="241.80" font-size="8.8" text-anchor="middle"><tspan letter-spacing="0.3">10</tspan><tspan font-size="6.34" dy="-3.1">−8</tspan></text>
<line x1="430.79" y1="230.0" x2="430.79" y2="231.6" stroke="#262626" stroke-width="0.5"/>
<line x1="445.58" y1="230.0" x2="445.58" y2="231.6" stroke="#262626" stroke-width="0.5"/>
<line x1="456.07" y1="230.0" x2="456.07" y2="231.6" stroke="#262626" stroke-width="0.5"/>
<line x1="464.21" y1="230.0" x2="464.21" y2="231.6" stroke="#262626" stroke-width="0.5"/>
<line x1="470.86" y1="230.0" x2="470.86" y2="231.6" stroke="#262626" stroke-width="0.5"/>
<line x1="476.49" y1="230.0" x2="476.49" y2="231.6" stroke="#262626" stroke-width="0.5"/>
<line x1="481.36" y1="230.0" x2="481.36" y2="231.6" stroke="#262626" stroke-width="0.5"/>
<line x1="485.66" y1="230.0" x2="485.66" y2="231.6" stroke="#262626" stroke-width="0.5"/>
<line x1="489.50" y1="230.0" x2="489.50" y2="232.8" stroke="#262626" stroke-width="0.63"/>
<text x="489.50" y="241.80" font-size="8.8" text-anchor="middle"><tspan letter-spacing="0.3">10</tspan><tspan font-size="6.34" dy="-3.1">−7</tspan></text>
<line x1="514.79" y1="230.0" x2="514.79" y2="231.6" stroke="#262626" stroke-width="0.5"/>
<line x1="529.58" y1="230.0" x2="529.58" y2="231.6" stroke="#262626" stroke-width="0.5"/>
<line x1="540.07" y1="230.0" x2="540.07" y2="231.6" stroke="#262626" stroke-width="0.5"/>
<line x1="548.21" y1="230.0" x2="548.21" y2="231.6" stroke="#262626" stroke-width="0.5"/>
<line x1="554.86" y1="230.0" x2="554.86" y2="231.6" stroke="#262626" stroke-width="0.5"/>
<line x1="560.49" y1="230.0" x2="560.49" y2="231.6" stroke="#262626" stroke-width="0.5"/>
<line x1="565.36" y1="230.0" x2="565.36" y2="231.6" stroke="#262626" stroke-width="0.5"/>
<line x1="569.66" y1="230.0" x2="569.66" y2="231.6" stroke="#262626" stroke-width="0.5"/>
<line x1="573.50" y1="230.0" x2="573.50" y2="232.8" stroke="#262626" stroke-width="0.63"/>
<text x="573.50" y="241.80" font-size="8.8" text-anchor="middle"><tspan letter-spacing="0.3">10</tspan><tspan font-size="6.34" dy="-3.1">−6</tspan></text>
<line x1="598.79" y1="230.0" x2="598.79" y2="231.6" stroke="#262626" stroke-width="0.5"/>
<line x1="613.58" y1="230.0" x2="613.58" y2="231.6" stroke="#262626" stroke-width="0.5"/>
<line x1="624.07" y1="230.0" x2="624.07" y2="231.6" stroke="#262626" stroke-width="0.5"/>
<line x1="632.21" y1="230.0" x2="632.21" y2="231.6" stroke="#262626" stroke-width="0.5"/>
<line x1="638.86" y1="230.0" x2="638.86" y2="231.6" stroke="#262626" stroke-width="0.5"/>
<line x1="644.49" y1="230.0" x2="644.49" y2="231.6" stroke="#262626" stroke-width="0.5"/>
<line x1="649.36" y1="230.0" x2="649.36" y2="231.6" stroke="#262626" stroke-width="0.5"/>
<line x1="653.66" y1="230.0" x2="653.66" y2="231.6" stroke="#262626" stroke-width="0.5"/>
<line x1="657.50" y1="230.0" x2="657.50" y2="232.8" stroke="#262626" stroke-width="0.63"/>
<text x="657.50" y="241.80" font-size="8.8" text-anchor="middle"><tspan letter-spacing="0.3">10</tspan><tspan font-size="6.34" dy="-3.1">−5</tspan></text>
<line x1="682.79" y1="230.0" x2="682.79" y2="231.6" stroke="#262626" stroke-width="0.5"/>
<line x1="697.58" y1="230.0" x2="697.58" y2="231.6" stroke="#262626" stroke-width="0.5"/>
<line x1="708.07" y1="230.0" x2="708.07" y2="231.6" stroke="#262626" stroke-width="0.5"/>
<line x1="716.21" y1="230.0" x2="716.21" y2="231.6" stroke="#262626" stroke-width="0.5"/>
<line x1="405.5" y1="12.60" x2="403.9" y2="12.60" stroke="#262626" stroke-width="0.5"/>
<line x1="405.5" y1="19.87" x2="403.9" y2="19.87" stroke="#262626" stroke-width="0.5"/>
<line x1="405.5" y1="24.13" x2="403.9" y2="24.13" stroke="#262626" stroke-width="0.5"/>
<line x1="405.5" y1="27.14" x2="403.9" y2="27.14" stroke="#262626" stroke-width="0.5"/>
<line x1="405.5" y1="29.48" x2="403.9" y2="29.48" stroke="#262626" stroke-width="0.5"/>
<line x1="405.5" y1="31.40" x2="403.9" y2="31.40" stroke="#262626" stroke-width="0.5"/>
<line x1="405.5" y1="33.01" x2="403.9" y2="33.01" stroke="#262626" stroke-width="0.5"/>
<line x1="405.5" y1="34.41" x2="403.9" y2="34.41" stroke="#262626" stroke-width="0.5"/>
<line x1="405.5" y1="35.65" x2="403.9" y2="35.65" stroke="#262626" stroke-width="0.5"/>
<line x1="405.5" y1="36.76" x2="402.7" y2="36.76" stroke="#262626" stroke-width="0.63"/>
<text x="399.70" y="39.86" font-size="8.8" text-anchor="end"><tspan letter-spacing="0.3">10</tspan><tspan font-size="6.34" dy="-3.1">−6</tspan></text>
<line x1="405.5" y1="44.03" x2="403.9" y2="44.03" stroke="#262626" stroke-width="0.5"/>
<line x1="405.5" y1="48.28" x2="403.9" y2="48.28" stroke="#262626" stroke-width="0.5"/>
<line x1="405.5" y1="51.30" x2="403.9" y2="51.30" stroke="#262626" stroke-width="0.5"/>
<line x1="405.5" y1="53.64" x2="403.9" y2="53.64" stroke="#262626" stroke-width="0.5"/>
<line x1="405.5" y1="55.55" x2="403.9" y2="55.55" stroke="#262626" stroke-width="0.5"/>
<line x1="405.5" y1="57.17" x2="403.9" y2="57.17" stroke="#262626" stroke-width="0.5"/>
<line x1="405.5" y1="58.57" x2="403.9" y2="58.57" stroke="#262626" stroke-width="0.5"/>
<line x1="405.5" y1="59.81" x2="403.9" y2="59.81" stroke="#262626" stroke-width="0.5"/>
<line x1="405.5" y1="60.91" x2="403.9" y2="60.91" stroke="#262626" stroke-width="0.5"/>
<line x1="405.5" y1="68.18" x2="403.9" y2="68.18" stroke="#262626" stroke-width="0.5"/>
<line x1="405.5" y1="72.44" x2="403.9" y2="72.44" stroke="#262626" stroke-width="0.5"/>
<line x1="405.5" y1="75.45" x2="403.9" y2="75.45" stroke="#262626" stroke-width="0.5"/>
<line x1="405.5" y1="77.80" x2="403.9" y2="77.80" stroke="#262626" stroke-width="0.5"/>
<line x1="405.5" y1="79.71" x2="403.9" y2="79.71" stroke="#262626" stroke-width="0.5"/>
<line x1="405.5" y1="81.32" x2="403.9" y2="81.32" stroke="#262626" stroke-width="0.5"/>
<line x1="405.5" y1="82.73" x2="403.9" y2="82.73" stroke="#262626" stroke-width="0.5"/>
<line x1="405.5" y1="83.96" x2="403.9" y2="83.96" stroke="#262626" stroke-width="0.5"/>
<line x1="405.5" y1="85.07" x2="402.7" y2="85.07" stroke="#262626" stroke-width="0.63"/>
<text x="399.70" y="88.17" font-size="8.8" text-anchor="end"><tspan letter-spacing="0.3">10</tspan><tspan font-size="6.34" dy="-3.1">−4</tspan></text>
<line x1="405.5" y1="92.34" x2="403.9" y2="92.34" stroke="#262626" stroke-width="0.5"/>
<line x1="405.5" y1="96.59" x2="403.9" y2="96.59" stroke="#262626" stroke-width="0.5"/>
<line x1="405.5" y1="99.61" x2="403.9" y2="99.61" stroke="#262626" stroke-width="0.5"/>
<line x1="405.5" y1="101.95" x2="403.9" y2="101.95" stroke="#262626" stroke-width="0.5"/>
<line x1="405.5" y1="103.86" x2="403.9" y2="103.86" stroke="#262626" stroke-width="0.5"/>
<line x1="405.5" y1="105.48" x2="403.9" y2="105.48" stroke="#262626" stroke-width="0.5"/>
<line x1="405.5" y1="106.88" x2="403.9" y2="106.88" stroke="#262626" stroke-width="0.5"/>
<line x1="405.5" y1="108.12" x2="403.9" y2="108.12" stroke="#262626" stroke-width="0.5"/>
<line x1="405.5" y1="109.22" x2="403.9" y2="109.22" stroke="#262626" stroke-width="0.5"/>
<line x1="405.5" y1="116.49" x2="403.9" y2="116.49" stroke="#262626" stroke-width="0.5"/>
<line x1="405.5" y1="120.75" x2="403.9" y2="120.75" stroke="#262626" stroke-width="0.5"/>
<line x1="405.5" y1="123.77" x2="403.9" y2="123.77" stroke="#262626" stroke-width="0.5"/>
<line x1="405.5" y1="126.11" x2="403.9" y2="126.11" stroke="#262626" stroke-width="0.5"/>
<line x1="405.5" y1="128.02" x2="403.9" y2="128.02" stroke="#262626" stroke-width="0.5"/>
<line x1="405.5" y1="129.64" x2="403.9" y2="129.64" stroke="#262626" stroke-width="0.5"/>
<line x1="405.5" y1="131.04" x2="403.9" y2="131.04" stroke="#262626" stroke-width="0.5"/>
<line x1="405.5" y1="132.27" x2="403.9" y2="132.27" stroke="#262626" stroke-width="0.5"/>
<line x1="405.5" y1="133.38" x2="402.7" y2="133.38" stroke="#262626" stroke-width="0.63"/>
<text x="399.70" y="136.48" font-size="8.8" text-anchor="end"><tspan letter-spacing="0.3">10</tspan><tspan font-size="6.34" dy="-3.1">−2</tspan></text>
<line x1="405.5" y1="140.65" x2="403.9" y2="140.65" stroke="#262626" stroke-width="0.5"/>
<line x1="405.5" y1="144.90" x2="403.9" y2="144.90" stroke="#262626" stroke-width="0.5"/>
<line x1="405.5" y1="147.92" x2="403.9" y2="147.92" stroke="#262626" stroke-width="0.5"/>
<line x1="405.5" y1="150.26" x2="403.9" y2="150.26" stroke="#262626" stroke-width="0.5"/>
<line x1="405.5" y1="152.17" x2="403.9" y2="152.17" stroke="#262626" stroke-width="0.5"/>
<line x1="405.5" y1="153.79" x2="403.9" y2="153.79" stroke="#262626" stroke-width="0.5"/>
<line x1="405.5" y1="155.19" x2="403.9" y2="155.19" stroke="#262626" stroke-width="0.5"/>
<line x1="405.5" y1="156.43" x2="403.9" y2="156.43" stroke="#262626" stroke-width="0.5"/>
<line x1="405.5" y1="157.53" x2="403.9" y2="157.53" stroke="#262626" stroke-width="0.5"/>
<line x1="405.5" y1="164.80" x2="403.9" y2="164.80" stroke="#262626" stroke-width="0.5"/>
<line x1="405.5" y1="169.06" x2="403.9" y2="169.06" stroke="#262626" stroke-width="0.5"/>
<line x1="405.5" y1="172.08" x2="403.9" y2="172.08" stroke="#262626" stroke-width="0.5"/>
<line x1="405.5" y1="174.42" x2="403.9" y2="174.42" stroke="#262626" stroke-width="0.5"/>
<line x1="405.5" y1="176.33" x2="403.9" y2="176.33" stroke="#262626" stroke-width="0.5"/>
<line x1="405.5" y1="177.95" x2="403.9" y2="177.95" stroke="#262626" stroke-width="0.5"/>
<line x1="405.5" y1="179.35" x2="403.9" y2="179.35" stroke="#262626" stroke-width="0.5"/>
<line x1="405.5" y1="180.58" x2="403.9" y2="180.58" stroke="#262626" stroke-width="0.5"/>
<line x1="405.5" y1="181.69" x2="402.7" y2="181.69" stroke="#262626" stroke-width="0.63"/>
<text x="399.70" y="184.79" font-size="8.8" text-anchor="end"><tspan letter-spacing="0.3">10</tspan><tspan font-size="6.34" dy="-3.1">0</tspan></text>
<line x1="405.5" y1="188.96" x2="403.9" y2="188.96" stroke="#262626" stroke-width="0.5"/>
<line x1="405.5" y1="193.21" x2="403.9" y2="193.21" stroke="#262626" stroke-width="0.5"/>
<line x1="405.5" y1="196.23" x2="403.9" y2="196.23" stroke="#262626" stroke-width="0.5"/>
<line x1="405.5" y1="198.57" x2="403.9" y2="198.57" stroke="#262626" stroke-width="0.5"/>
<line x1="405.5" y1="200.49" x2="403.9" y2="200.49" stroke="#262626" stroke-width="0.5"/>
<line x1="405.5" y1="202.10" x2="403.9" y2="202.10" stroke="#262626" stroke-width="0.5"/>
<line x1="405.5" y1="203.50" x2="403.9" y2="203.50" stroke="#262626" stroke-width="0.5"/>
<line x1="405.5" y1="204.74" x2="403.9" y2="204.74" stroke="#262626" stroke-width="0.5"/>
<line x1="405.5" y1="205.84" x2="403.9" y2="205.84" stroke="#262626" stroke-width="0.5"/>
<line x1="405.5" y1="213.12" x2="403.9" y2="213.12" stroke="#262626" stroke-width="0.5"/>
<line x1="405.5" y1="217.37" x2="403.9" y2="217.37" stroke="#262626" stroke-width="0.5"/>
<line x1="405.5" y1="220.39" x2="403.9" y2="220.39" stroke="#262626" stroke-width="0.5"/>
<line x1="405.5" y1="222.73" x2="403.9" y2="222.73" stroke="#262626" stroke-width="0.5"/>
<line x1="405.5" y1="224.64" x2="403.9" y2="224.64" stroke="#262626" stroke-width="0.5"/>
<line x1="405.5" y1="226.26" x2="403.9" y2="226.26" stroke="#262626" stroke-width="0.5"/>
<line x1="405.5" y1="227.66" x2="403.9" y2="227.66" stroke="#262626" stroke-width="0.5"/>
<line x1="405.5" y1="228.89" x2="403.9" y2="228.89" stroke="#262626" stroke-width="0.5"/>
<line x1="405.5" y1="230.00" x2="402.7" y2="230.00" stroke="#262626" stroke-width="0.63"/>
<text x="399.70" y="233.10" font-size="8.8" text-anchor="end"><tspan letter-spacing="0.3">10</tspan><tspan font-size="6.34" dy="-3.1">2</tspan></text>
<rect x="405.5" y="12.6" width="311.00" height="217.40" fill="none" stroke="#262626" stroke-width="0.7"/>
<text x="561.00" y="7.70" font-size="10.4" text-anchor="middle">CO<tspan font-size="7.4" dy="1.8">2</tspan></text>
<text x="561.00" y="255.20" font-size="10.0" text-anchor="middle" textLength="96" lengthAdjust="spacingAndGlyphs">Volume mixing ratio</text>
<text transform="translate(375.90,121.20) rotate(-90)" font-size="9.8" text-anchor="middle" textLength="66" lengthAdjust="spacingAndGlyphs">Pressure (bar)</text>
<defs><clipPath id="cp3"><rect x="37.0" y="287.7" width="311.20" height="217.60"/></clipPath></defs>
<g clip-path="url(#cp3)">
<path d="M50.00,287.50 C49.17,288.75 47.17,292.42 45.00,295.00 C42.83,297.58 38.33,301.67 37.00,303.00" fill="none" stroke="#8c8c8c" stroke-width="1.1" stroke-linecap="butt" stroke-linejoin="round" stroke-dasharray="1.2,1.9"/>
<path d="M78.00,287.50 C76.00,290.42 69.70,299.52 66.00,305.00 C62.30,310.48 60.63,316.43 55.80,320.40 C50.97,324.37 40.13,327.40 37.00,328.80" fill="none" stroke="#8c8c8c" stroke-width="1.1" stroke-linecap="butt" stroke-linejoin="round" stroke-dasharray="1.2,1.9"/>
<path d="M90.00,287.50 C86.38,292.63 72.27,311.42 68.30,318.30 C64.33,325.18 65.50,324.62 66.20,328.80 C66.90,332.98 70.40,338.18 72.50,343.40 C74.60,348.62 77.40,353.83 78.80,360.10 C80.20,366.37 80.87,374.35 80.90,381.00 C80.93,387.65 79.98,394.33 79.00,400.00 C78.02,405.67 76.17,410.33 75.00,415.00 C73.83,419.67 72.50,425.83 72.00,428.00" fill="none" stroke="#8c8c8c" stroke-width="1.1" stroke-linecap="butt" stroke-linejoin="round" stroke-dasharray="1.2,1.9"/>
<path d="M101.80,287.50 C97.97,292.63 82.98,311.07 78.80,318.30 C74.62,325.53 75.67,326.72 76.70,330.90 C77.73,335.08 81.17,339.23 85.00,343.40 C88.83,347.57 96.57,351.37 99.70,355.90 C102.83,360.43 103.12,363.92 103.80,370.60 C104.48,377.28 102.77,389.43 103.80,396.00 C104.83,402.57 107.63,406.00 110.00,410.00 C112.37,414.00 116.67,418.33 118.00,420.00" fill="none" stroke="#8c8c8c" stroke-width="1.1" stroke-linecap="butt" stroke-linejoin="round" stroke-dasharray="1.2,1.9"/>
<path d="M108.00,287.50 C103.83,293.33 87.17,314.92 83.00,322.50 C78.83,330.08 81.27,329.52 83.00,333.00 C84.73,336.48 89.23,339.58 93.40,343.40 C97.57,347.22 102.78,350.68 108.00,355.90 C113.22,361.12 121.22,370.17 124.70,374.70 C128.18,379.23 128.35,378.88 128.90,383.10 C129.45,387.32 126.98,394.68 128.00,400.00 C129.02,405.32 133.83,412.50 135.00,415.00" fill="none" stroke="#8c8c8c" stroke-width="1.1" stroke-linecap="butt" stroke-linejoin="round" stroke-dasharray="1.2,1.9"/>
<path d="M37.00,339.20 C42.22,341.98 57.85,349.98 68.30,355.90 C78.75,361.82 92.42,368.18 99.70,374.70 C106.98,381.22 108.28,388.28 112.00,395.00 C115.72,401.72 120.33,411.67 122.00,415.00" fill="none" stroke="#8c8c8c" stroke-width="1.1" stroke-linecap="butt" stroke-linejoin="round" stroke-dasharray="1.2,1.9"/>
<path d="M37.00,364.30 C42.22,366.03 57.85,371.22 68.30,374.70 C78.75,378.18 90.98,381.65 99.70,385.20 C108.42,388.75 114.72,391.87 120.60,396.00 C126.48,400.13 132.60,407.67 135.00,410.00" fill="none" stroke="#8c8c8c" stroke-width="1.1" stroke-linecap="butt" stroke-linejoin="round" stroke-dasharray="1.2,1.9"/>
<path d="M37.00,368.50 C40.48,370.93 52.68,378.52 57.90,383.10 C63.12,387.68 64.62,391.18 68.30,396.00 C71.98,400.82 76.38,407.67 80.00,412.00 C83.62,416.33 88.33,420.33 90.00,422.00" fill="none" stroke="#8c8c8c" stroke-width="1.1" stroke-linecap="butt" stroke-linejoin="round" stroke-dasharray="1.2,1.9"/>
<path d="M37.00,418.00 C40.00,418.83 49.25,421.25 55.00,423.00 C60.75,424.75 64.05,426.20 71.50,428.50 C78.95,430.80 89.95,434.32 99.70,436.80 C109.45,439.28 124.95,442.30 130.00,443.40" fill="none" stroke="#8c8c8c" stroke-width="1.1" stroke-linecap="butt" stroke-linejoin="round" stroke-dasharray="1.2,1.9"/>
<path d="M37.00,422.20 C40.00,422.83 49.25,424.87 55.00,426.00 C60.75,427.13 64.05,427.12 71.50,429.00 C78.95,430.88 89.95,434.82 99.70,437.30 C109.45,439.78 124.95,442.80 130.00,443.90" fill="none" stroke="#8c8c8c" stroke-width="1.1" stroke-linecap="butt" stroke-linejoin="round" stroke-dasharray="1.2,1.9"/>
<path d="M37.00,425.40 C40.00,425.83 49.25,427.23 55.00,428.00 C60.75,428.77 64.05,428.37 71.50,430.00 C78.95,431.63 89.95,435.40 99.70,437.80 C109.45,440.20 124.95,443.30 130.00,444.40" fill="none" stroke="#8c8c8c" stroke-width="1.1" stroke-linecap="butt" stroke-linejoin="round" stroke-dasharray="1.2,1.9"/>
<path d="M141.30,505.00 C141.67,504.50 142.38,503.43 143.50,502.00 C144.62,500.57 145.37,498.27 148.00,496.40 C150.63,494.53 154.78,492.48 159.30,490.80 C163.82,489.12 171.09,487.43 175.10,486.30 C179.11,485.17 180.67,485.61 183.38,484.00 C186.08,482.39 189.63,479.64 191.33,476.62 C193.03,473.61 194.69,469.66 193.58,465.91 C192.47,462.16 188.91,457.47 184.66,454.11 C180.41,450.75 174.21,448.76 168.07,445.77 C161.94,442.78 154.99,439.15 147.85,436.15 C140.70,433.14 131.50,429.97 125.20,427.73 C118.91,425.48 111.08,424.73 110.10,422.67 C109.12,420.62 115.55,418.01 119.32,415.42 C123.10,412.82 125.06,410.46 132.76,407.09 C140.45,403.72 154.45,399.10 165.48,395.22 C176.51,391.34 188.95,387.74 198.93,383.81 C208.92,379.89 214.89,376.46 225.40,371.66 C235.91,366.86 253.95,358.19 262.00,355.00 C270.05,351.81 269.15,357.07 273.70,352.50 C278.25,347.93 283.58,338.33 289.30,327.60 C295.02,316.87 304.80,295.03 308.00,288.10 C311.20,281.17 308.42,286.35 308.50,286.00" fill="none" stroke="#fee593" stroke-width="1.6" stroke-linecap="butt" stroke-linejoin="round"/>
<path d="M141.30,505.00 C141.67,504.50 142.38,503.43 143.50,502.00 C144.62,500.57 145.37,498.27 148.00,496.40 C150.63,494.53 154.78,492.48 159.30,490.80 C163.82,489.12 171.38,487.43 175.10,486.30 C178.82,485.17 179.53,485.32 181.62,484.00 C183.71,482.68 186.25,480.90 187.62,478.36 C188.99,475.82 191.16,472.26 189.84,468.78 C188.52,465.30 184.65,460.77 179.68,457.48 C174.71,454.19 166.87,451.76 160.02,449.04 C153.16,446.31 146.57,443.65 138.55,441.12 C130.54,438.60 120.02,436.26 111.92,433.89 C103.83,431.52 91.75,429.51 90.00,426.91 C88.25,424.30 97.19,421.20 101.45,418.24 C105.71,415.28 106.96,413.20 115.54,409.17 C124.12,405.14 140.08,398.31 152.94,394.06 C165.80,389.82 180.64,387.54 192.72,383.70 C204.80,379.87 215.02,375.51 225.40,371.06 C235.78,366.61 246.73,362.36 255.00,357.00 C263.27,351.64 269.42,346.80 275.00,338.90 C280.58,331.00 285.12,318.25 288.50,309.60 C291.88,300.95 294.17,290.77 295.30,287.00" fill="none" stroke="#ffffbe" stroke-width="1.6" stroke-linecap="butt" stroke-linejoin="round"/>
<path d="M141.30,505.00 C141.67,504.50 142.38,503.43 143.50,502.00 C144.62,500.57 145.37,498.27 148.00,496.40 C150.63,494.53 154.78,492.48 159.30,490.80 C163.82,489.12 171.54,487.43 175.10,486.30 C178.66,485.17 178.90,485.21 180.64,484.00 C182.38,482.79 184.36,481.41 185.55,479.05 C186.73,476.69 189.20,473.24 187.76,469.82 C186.32,466.40 182.28,461.87 176.91,458.52 C171.54,455.17 162.78,452.41 155.53,449.74 C148.27,447.07 141.88,444.85 133.38,442.50 C124.87,440.15 113.62,438.09 104.52,435.65 C95.43,433.21 80.97,430.70 78.80,427.87 C76.63,425.05 86.97,421.76 91.49,418.70 C96.02,415.64 96.87,413.70 105.95,409.49 C115.03,405.28 132.07,397.73 145.95,393.42 C159.84,389.11 176.02,387.42 189.26,383.64 C202.50,379.86 215.28,374.99 225.40,370.72 C235.52,366.45 243.23,362.92 250.00,358.00 C256.77,353.08 261.45,348.52 266.00,341.20 C270.55,333.88 274.67,323.13 277.30,314.10 C279.93,305.07 281.05,291.52 281.80,287.00" fill="none" stroke="#eaf79e" stroke-width="1.6" stroke-linecap="butt" stroke-linejoin="round"/>
<path d="M141.30,505.00 C141.67,504.50 142.38,503.43 143.50,502.00 C144.62,500.57 145.37,498.27 148.00,496.40 C150.63,494.53 154.78,492.48 159.30,490.80 C163.82,489.12 171.61,487.43 175.10,486.30 C178.59,485.17 178.63,485.16 180.22,484.00 C181.81,482.84 183.55,481.63 184.66,479.35 C185.77,477.06 188.36,473.66 186.87,470.27 C185.37,466.87 181.26,462.34 175.72,458.97 C170.18,455.60 161.03,452.69 153.60,450.04 C146.17,447.40 139.86,445.36 131.16,443.09 C122.45,440.82 110.88,438.87 101.35,436.41 C91.83,433.94 76.35,431.20 74.00,428.28 C71.65,425.37 82.58,422.01 87.22,418.90 C91.86,415.79 92.55,413.92 101.84,409.63 C111.13,405.34 128.64,397.48 142.96,393.14 C157.28,388.81 174.03,387.38 187.77,383.61 C201.51,379.85 215.86,374.84 225.40,370.58 C234.94,366.31 239.75,362.53 245.00,358.00 C250.25,353.47 253.40,349.60 256.90,343.40 C260.40,337.20 263.73,328.32 266.00,320.80 C268.27,313.28 269.38,303.93 270.50,298.30 C271.62,292.67 272.33,288.88 272.70,287.00" fill="none" stroke="#bfe5a0" stroke-width="1.6" stroke-linecap="butt" stroke-linejoin="round"/>
<path d="M141.30,505.00 C141.67,504.50 142.38,503.43 143.50,502.00 C144.62,500.57 145.37,498.27 148.00,496.40 C150.63,494.53 154.78,492.48 159.30,490.80 C163.82,489.12 171.65,487.43 175.10,486.30 C178.55,485.17 178.48,485.13 180.00,484.00 C181.52,482.87 183.13,481.75 184.20,479.50 C185.27,477.25 187.92,473.88 186.40,470.50 C184.88,467.12 180.73,462.58 175.10,459.20 C169.47,455.82 160.12,452.83 152.60,450.20 C145.08,447.57 138.82,445.63 130.00,443.40 C121.18,441.17 109.45,439.28 99.70,436.80 C89.95,434.32 73.95,431.47 71.50,428.50 C69.05,425.53 80.30,422.13 85.00,419.00 C89.70,415.87 90.30,414.03 99.70,409.70 C109.10,405.37 126.85,397.35 141.40,393.00 C155.95,388.65 173.00,387.35 187.00,383.60 C201.00,379.85 216.75,375.32 225.40,370.50 C234.05,365.68 234.77,361.10 238.90,354.70 C243.03,348.30 247.57,339.62 250.20,332.10 C252.83,324.58 253.20,317.12 254.70,309.60 C256.20,302.08 258.45,290.77 259.20,287.00" fill="none" stroke="#86cfa5" stroke-width="1.6" stroke-linecap="butt" stroke-linejoin="round"/>
<path d="M141.30,505.00 C141.67,504.50 142.38,503.43 143.50,502.00 C144.62,500.57 145.37,498.27 148.00,496.40 C150.63,494.53 154.78,492.48 159.30,490.80 C163.82,489.12 171.30,487.43 175.10,486.30 C178.90,485.17 179.85,485.32 182.10,484.00 C184.36,482.68 187.17,480.87 188.63,478.36 C190.09,475.84 192.13,472.33 190.87,468.93 C189.60,465.54 185.82,461.12 181.04,457.97 C176.27,454.82 168.88,452.67 162.22,450.02 C155.56,447.38 148.87,444.61 141.10,442.11 C133.32,439.61 123.16,437.36 115.56,435.02 C107.96,432.69 97.04,430.71 95.50,428.10 C93.96,425.49 102.22,422.36 106.34,419.35 C110.47,416.33 111.91,414.17 120.25,410.01 C128.59,405.85 144.01,398.76 156.37,394.38 C168.73,390.00 182.92,387.59 194.42,383.73 C205.92,379.87 217.39,376.43 225.40,371.22 C233.41,366.02 238.35,358.22 242.50,352.50 C246.65,346.78 248.22,341.32 250.30,336.90 C252.38,332.48 253.18,328.60 255.00,326.00 C256.82,323.40 257.57,323.63 261.20,321.30 C264.83,318.97 271.60,315.63 276.80,312.00 C282.00,308.37 288.12,303.40 292.40,299.50 C296.68,295.60 300.65,290.85 302.50,288.60 C304.35,286.35 303.33,286.43 303.50,286.00" fill="none" stroke="#54aead" stroke-width="1.6" stroke-linecap="butt" stroke-linejoin="round"/>
<path d="M141.30,505.00 C141.67,504.50 142.38,503.43 143.50,502.00 C144.62,500.57 145.37,498.27 148.00,496.40 C150.63,494.53 154.78,492.48 159.30,490.80 C163.82,489.12 170.71,487.43 175.10,486.30 C179.49,485.17 182.13,485.88 185.65,484.00 C189.17,482.12 194.06,478.38 196.20,475.00 C198.34,471.62 199.25,467.47 198.50,463.70 C197.75,459.93 194.72,455.42 191.70,452.40 C188.68,449.38 185.18,448.60 180.40,445.60 C175.62,442.60 168.45,437.78 163.05,434.40 C157.65,431.02 151.07,427.33 148.00,425.30 C144.93,423.27 144.27,423.75 144.60,422.20 C144.93,420.65 147.05,418.43 150.00,416.00 C152.95,413.57 156.13,410.73 162.30,407.60 C168.47,404.47 179.12,401.13 187.00,397.20 C194.88,393.27 203.20,388.08 209.60,384.00 C216.00,379.92 219.40,376.13 225.40,372.70 C231.40,369.27 239.50,366.18 245.60,363.40 C251.70,360.62 256.80,358.65 262.00,356.00 C267.20,353.35 270.77,351.40 276.80,347.50 C282.83,343.60 292.18,337.35 298.20,332.60 C304.22,327.85 308.77,323.70 312.90,319.00 C317.03,314.30 320.00,309.55 323.00,304.40 C326.00,299.25 329.48,291.17 330.90,288.10 C332.32,285.03 331.40,286.35 331.50,286.00" fill="none" stroke="#9e0142" stroke-width="1.6" stroke-linecap="butt" stroke-linejoin="round"/>
<path d="M141.30,505.00 C141.67,504.50 142.38,503.43 143.50,502.00 C144.62,500.57 145.37,498.27 148.00,496.40 C150.63,494.53 154.78,492.48 159.30,490.80 C163.82,489.12 170.68,487.43 175.10,486.30 C179.52,485.17 182.27,485.73 185.83,484.00 C189.39,482.27 194.31,479.04 196.46,475.91 C198.62,472.79 199.60,468.85 198.75,465.24 C197.90,461.63 194.73,457.23 191.37,454.27 C188.02,451.32 183.91,450.37 178.63,447.52 C173.35,444.68 165.84,440.35 159.70,437.22 C153.56,434.10 145.87,430.87 141.79,428.78 C137.71,426.69 135.22,426.52 135.20,424.68 C135.18,422.83 138.47,420.35 141.64,417.72 C144.82,415.08 147.67,412.38 154.25,408.87 C160.83,405.36 172.40,400.81 181.14,396.66 C189.88,392.51 199.32,387.99 206.69,383.95 C214.07,379.91 218.92,376.01 225.40,372.42 C231.88,368.83 239.50,365.30 245.60,362.40 C251.70,359.50 256.80,357.65 262.00,355.00 C267.20,352.35 270.77,350.40 276.80,346.50 C282.83,342.60 292.27,336.35 298.20,331.60 C304.13,326.85 308.40,322.70 312.40,318.00 C316.40,313.30 319.33,308.38 322.20,303.40 C325.07,298.42 328.30,291.00 329.60,288.10 C330.90,285.20 329.93,286.35 330.00,286.00" fill="none" stroke="#cb334d" stroke-width="1.6" stroke-linecap="butt" stroke-linejoin="round"/>
<path d="M141.30,505.00 C141.67,504.50 142.38,503.43 143.50,502.00 C144.62,500.57 145.37,498.27 148.00,496.40 C150.63,494.53 154.78,492.48 159.30,490.80 C163.82,489.12 170.47,487.43 175.10,486.30 C179.73,485.17 183.10,485.85 187.08,484.00 C191.07,482.15 196.66,478.55 199.04,475.22 C201.41,471.89 202.12,467.78 201.33,464.03 C200.54,460.29 197.45,455.77 194.31,452.73 C191.16,449.70 187.65,448.81 182.46,445.83 C177.26,442.84 169.27,438.17 163.14,434.84 C157.00,431.52 149.31,427.92 145.62,425.87 C141.93,423.81 140.80,424.13 141.00,422.51 C141.20,420.89 143.76,418.62 146.80,416.15 C149.84,413.68 152.89,410.90 159.22,407.70 C165.54,404.51 176.54,400.95 184.75,396.99 C192.97,393.04 201.71,388.05 208.49,383.98 C215.26,379.91 219.21,375.86 225.40,372.59 C231.59,369.33 239.50,367.00 245.60,364.40 C251.70,361.80 256.63,359.65 262.00,357.00 C267.37,354.35 271.60,352.40 277.80,348.50 C284.00,344.60 293.18,338.35 299.20,333.60 C305.22,328.85 309.77,324.70 313.90,320.00 C318.03,315.30 321.00,310.72 324.00,305.40 C327.00,300.08 330.50,291.33 331.90,288.10 C333.30,284.87 332.32,286.35 332.40,286.00" fill="none" stroke="#e95c47" stroke-width="1.6" stroke-linecap="butt" stroke-linejoin="round"/>
<path d="M141.30,505.00 C141.67,504.50 142.38,503.43 143.50,502.00 C144.62,500.57 145.37,498.27 148.00,496.40 C150.63,494.53 154.78,492.48 159.30,490.80 C163.82,489.12 170.56,487.43 175.10,486.30 C179.64,485.17 182.74,485.78 186.53,484.00 C190.31,482.22 195.54,478.88 197.80,475.63 C200.06,472.38 200.99,468.29 200.08,464.49 C199.16,460.70 195.89,456.07 192.31,452.86 C188.73,449.65 184.32,448.29 178.61,445.25 C172.90,442.22 164.87,437.91 158.04,434.67 C151.21,431.42 142.48,427.90 137.63,425.77 C132.77,423.64 129.16,423.63 128.90,421.89 C128.64,420.14 132.71,417.78 136.04,415.31 C139.37,412.84 141.99,410.22 148.86,407.05 C155.72,403.88 167.89,400.15 177.21,396.30 C186.52,392.44 196.71,387.93 204.75,383.91 C212.78,379.90 218.59,375.88 225.40,372.23 C232.21,368.58 239.50,364.95 245.60,362.00 C251.70,359.05 256.93,357.17 262.00,354.50 C267.07,351.83 270.17,349.92 276.00,346.00 C281.83,342.08 291.08,335.75 297.00,331.00 C302.92,326.25 307.42,322.17 311.50,317.50 C315.58,312.83 318.67,307.90 321.50,303.00 C324.33,298.10 327.25,290.93 328.50,288.10 C329.75,285.27 328.92,286.35 329.00,286.00" fill="none" stroke="#f98e52" stroke-width="1.6" stroke-linecap="butt" stroke-linejoin="round"/>
<path d="M141.30,505.00 C141.67,504.50 142.38,503.43 143.50,502.00 C144.62,500.57 145.37,498.27 148.00,496.40 C150.63,494.53 154.78,492.48 159.30,490.80 C163.82,489.12 171.03,487.43 175.10,486.30 C179.17,485.17 180.93,485.43 183.75,484.00 C186.56,482.57 190.22,480.44 191.96,477.75 C193.71,475.05 195.42,471.38 194.20,467.85 C192.98,464.32 189.27,459.79 184.66,456.55 C180.04,453.31 173.23,451.18 166.52,448.41 C159.82,445.63 152.43,442.57 144.43,439.89 C136.43,437.21 125.94,434.62 118.53,432.32 C111.13,430.01 101.36,428.46 100.00,426.04 C98.64,423.63 106.32,420.69 110.34,417.83 C114.36,414.97 115.97,412.75 124.11,408.88 C132.25,405.02 147.23,398.83 159.18,394.64 C171.13,390.45 184.77,387.64 195.81,383.76 C206.85,379.88 217.10,375.15 225.40,371.36 C233.70,367.57 239.50,363.98 245.60,361.00 C251.70,358.02 257.10,356.17 262.00,353.50 C266.90,350.83 269.33,348.92 275.00,345.00 C280.67,341.08 290.17,334.75 296.00,330.00 C301.83,325.25 306.00,321.17 310.00,316.50 C314.00,311.83 317.17,306.73 320.00,302.00 C322.83,297.27 325.75,290.77 327.00,288.10 C328.25,285.43 327.42,286.35 327.50,286.00" fill="none" stroke="#fdbf6f" stroke-width="1.6" stroke-linecap="butt" stroke-linejoin="round"/>
<path d="M141.30,505.00 C141.67,504.50 142.38,503.43 143.50,502.00 C144.62,500.57 145.37,498.27 148.00,496.40 C150.63,494.53 154.78,492.48 159.30,490.80 C163.82,489.12 171.01,487.43 175.10,486.30 C179.19,485.17 180.97,485.39 183.83,484.00 C186.70,482.61 190.50,480.51 192.29,477.97 C194.07,475.43 195.61,471.98 194.55,468.76 C193.49,465.53 190.01,461.40 185.95,458.63 C181.88,455.85 176.10,454.57 170.16,452.11 C164.21,449.65 157.17,446.37 150.25,443.84 C143.33,441.31 134.47,439.12 128.64,436.91 C122.81,434.70 116.08,433.07 115.30,430.56 C114.52,428.05 120.30,424.97 123.95,421.87 C127.60,418.77 129.75,416.33 137.21,411.94 C144.67,407.55 158.17,400.20 168.72,395.52 C179.28,390.83 191.10,387.79 200.54,383.84 C209.99,379.89 219.39,375.92 225.40,371.82 C231.41,367.71 233.75,362.42 236.60,359.20 C239.45,355.98 238.40,355.95 242.50,352.50 C246.60,349.05 254.73,343.22 261.20,338.50 C267.67,333.78 275.13,328.45 281.30,324.20 C287.47,319.95 293.50,316.38 298.20,313.00 C302.90,309.62 306.12,307.85 309.50,303.90 C312.88,299.95 316.92,292.28 318.50,289.30 C320.08,286.32 318.92,286.55 319.00,286.00" fill="none" stroke="#3a7eb8" stroke-width="1.6" stroke-linecap="butt" stroke-linejoin="round"/>
<path d="M141.30,505.00 C141.67,504.50 142.38,503.43 143.50,502.00 C144.62,500.57 145.37,498.27 148.00,496.40 C150.63,494.53 154.78,492.48 159.30,490.80 C163.82,489.12 170.75,487.43 175.10,486.30 C179.45,485.17 181.97,485.65 185.37,484.00 C188.77,482.35 193.44,479.39 195.50,476.40 C197.57,473.41 198.69,469.58 197.78,466.06 C196.88,462.53 193.62,458.18 190.08,455.26 C186.55,452.33 182.01,451.28 176.55,448.52 C171.08,445.76 163.67,441.68 157.30,438.70 C150.93,435.71 142.90,432.72 138.35,430.60 C133.80,428.47 130.22,427.96 130.00,425.96 C129.78,423.96 133.72,421.34 137.02,418.60 C140.32,415.86 142.98,413.23 149.80,409.52 C156.61,405.81 168.68,400.63 177.89,396.36 C187.11,392.09 197.17,387.94 205.09,383.92 C213.00,379.90 220.90,375.25 225.40,372.26 C229.90,369.27 228.73,368.51 232.10,366.00 C235.47,363.49 239.28,361.33 245.60,357.20 C251.92,353.07 262.17,346.13 270.00,341.20 C277.83,336.27 286.40,331.93 292.60,327.60 C298.80,323.27 302.88,319.52 307.20,315.20 C311.52,310.88 315.48,306.22 318.50,301.70 C321.52,297.18 324.08,290.72 325.30,288.10 C326.52,285.48 325.72,286.35 325.80,286.00" fill="none" stroke="#5e4fa2" stroke-width="1.6" stroke-linecap="butt" stroke-linejoin="round"/>
<path d="M174.91,485.42 C176.63,485.05 181.80,485.02 185.23,483.21 C188.65,481.39 193.37,477.74 195.44,474.52 C197.50,471.30 198.35,467.46 197.62,463.88 C196.89,460.30 194.01,455.96 191.06,453.04 C188.11,450.12 184.67,449.34 179.92,446.36 C175.17,443.38 167.98,438.55 162.57,435.16 C157.17,431.78 150.65,428.24 147.50,426.05 C144.36,423.86 143.40,423.80 143.72,422.01 C144.04,420.22 146.40,417.84 149.43,415.31 C152.46,412.77 155.70,409.95 161.89,406.80 C168.09,403.65 178.73,400.32 186.60,396.39 C194.47,392.47 202.72,387.32 209.12,383.24 C215.51,379.16 218.93,375.36 224.95,371.92 C230.97,368.48 239.12,365.37 245.23,362.58 C251.33,359.79 256.41,357.84 261.59,355.20 C266.77,352.56 270.30,350.63 276.31,346.74 C282.32,342.86 291.66,336.62 297.64,331.89 C303.63,327.17 308.13,323.06 312.22,318.41 C316.32,313.75 319.25,309.06 322.22,303.95 C325.20,298.83 328.68,290.75 330.08,287.72 C331.49,284.69 330.54,286.08 330.63,285.75" fill="none" stroke="#9e0142" stroke-width="1.7" stroke-linecap="butt" stroke-linejoin="round" stroke-dasharray="4.4,1.9"/>
<path d="M174.72,485.49 C175.51,485.12 178.02,484.34 179.46,483.28 C180.91,482.22 182.37,481.18 183.39,479.11 C184.41,477.05 187.04,474.06 185.58,470.87 C184.12,467.68 180.18,463.27 174.64,459.97 C169.09,456.67 159.78,453.67 152.30,451.05 C144.83,448.43 138.58,446.50 129.78,444.27 C120.97,442.04 109.31,440.21 99.48,437.67 C89.65,435.14 73.30,432.31 70.81,429.07 C68.31,425.84 79.75,421.62 84.50,418.25 C89.25,414.89 89.88,413.23 99.32,408.88 C108.76,404.53 126.57,396.50 141.14,392.14 C155.72,387.78 172.80,386.47 186.77,382.73 C200.74,378.99 216.40,374.47 224.96,369.71 C233.52,364.96 234.08,360.53 238.14,354.21 C242.21,347.89 246.74,339.27 249.35,331.80 C251.96,324.34 252.32,316.92 253.82,309.42 C255.31,301.93 257.57,290.59 258.32,286.82" fill="none" stroke="#86cfa5" stroke-width="1.7" stroke-linecap="butt" stroke-linejoin="round" stroke-dasharray="4.4,1.9"/>
<path d="M174.82,485.44 C175.96,485.07 179.47,484.48 181.65,483.22 C183.82,481.97 186.46,480.23 187.85,477.90 C189.25,475.57 191.24,472.45 190.02,469.25 C188.80,466.05 185.24,461.78 180.55,458.72 C175.86,455.65 168.51,453.48 161.89,450.86 C155.27,448.23 148.59,445.46 140.82,442.97 C133.06,440.47 122.98,438.29 115.29,435.88 C107.61,433.48 96.30,431.43 94.72,428.55 C93.14,425.68 101.62,421.85 105.81,418.62 C110.00,415.40 111.47,413.39 119.85,409.21 C128.23,405.02 143.69,397.92 156.07,393.53 C168.45,389.14 182.66,386.72 194.13,382.88 C205.61,379.03 216.97,375.62 224.91,370.47 C232.85,365.32 237.68,357.63 241.77,351.97 C245.87,346.31 247.40,340.93 249.49,336.52 C251.57,332.10 252.39,328.15 254.26,325.48 C256.13,322.82 257.04,322.91 260.71,320.54 C264.38,318.17 271.10,314.88 276.28,311.26 C281.46,307.64 287.54,302.71 291.79,298.83 C296.05,294.96 299.99,290.22 301.80,288.03 C303.62,285.84 302.52,286.07 302.66,285.68" fill="none" stroke="#54aead" stroke-width="1.7" stroke-linecap="butt" stroke-linejoin="round" stroke-dasharray="4.4,1.9"/>
<path d="M174.87,485.43 C176.30,485.06 180.66,484.52 183.44,483.19 C186.22,481.86 189.84,479.81 191.55,477.45 C193.26,475.09 194.71,472.05 193.69,469.04 C192.67,466.03 189.42,462.05 185.44,459.37 C181.46,456.69 175.73,455.39 169.81,452.94 C163.90,450.49 156.86,447.22 149.94,444.69 C143.03,442.15 134.24,440.06 128.32,437.75 C122.40,435.44 115.27,433.59 114.44,430.83 C113.61,428.07 119.65,424.46 123.36,421.18 C127.08,417.91 129.25,415.58 136.75,411.17 C144.25,406.75 157.78,399.39 168.36,394.69 C178.93,390.00 190.77,386.95 200.19,383.01 C209.62,379.07 218.94,375.14 224.89,371.08 C230.85,367.01 233.09,361.81 235.93,358.60 C238.76,355.39 237.80,355.28 241.92,351.81 C246.04,348.34 254.19,342.50 260.67,337.77 C267.15,333.05 274.62,327.71 280.79,323.46 C286.96,319.21 293.00,315.63 297.67,312.27 C302.35,308.91 305.48,307.21 308.82,303.31 C312.15,299.42 316.16,291.79 317.71,288.88 C319.25,285.97 318.04,286.37 318.11,285.87" fill="none" stroke="#3a7eb8" stroke-width="1.7" stroke-linecap="butt" stroke-linejoin="round" stroke-dasharray="4.4,1.9"/>
<path d="M174.90,485.42 C176.58,485.05 181.67,484.78 184.98,483.19 C188.29,481.60 192.77,478.70 194.76,475.89 C196.75,473.07 197.79,469.60 196.91,466.28 C196.04,462.96 192.97,458.78 189.51,455.95 C186.05,453.13 181.57,452.06 176.14,449.32 C170.71,446.58 163.28,442.50 156.92,439.51 C150.56,436.53 142.61,433.65 137.97,431.41 C133.34,429.17 129.36,428.31 129.11,426.06 C128.85,423.81 133.07,420.79 136.44,417.91 C139.82,415.02 142.52,412.46 149.37,408.73 C156.21,405.00 168.30,399.81 177.51,395.54 C186.73,391.28 196.78,387.12 204.68,383.12 C212.58,379.11 220.42,374.48 224.90,371.51 C229.38,368.54 228.19,367.79 231.56,365.28 C234.93,362.77 238.78,360.59 245.11,356.45 C251.43,352.31 261.69,345.37 269.52,340.44 C277.35,335.51 285.91,331.17 292.08,326.86 C298.26,322.55 302.29,318.84 306.56,314.56 C310.84,310.29 314.76,305.67 317.75,301.20 C320.74,296.73 323.29,290.29 324.48,287.72 C325.68,285.15 324.85,286.11 324.92,285.79" fill="none" stroke="#5e4fa2" stroke-width="1.7" stroke-linecap="butt" stroke-linejoin="round" stroke-dasharray="4.4,1.9"/>
<path d="M141.30,505.00 C141.67,504.50 142.38,503.43 143.50,502.00 C144.62,500.57 145.37,498.27 148.00,496.40 C150.63,494.53 154.78,492.48 159.30,490.80 C163.82,489.12 171.65,487.27 175.10,486.30 C178.55,485.33 179.18,485.22 180.00,485.00" fill="none" stroke="#4a4aa6" stroke-width="1.7" stroke-linecap="butt" stroke-linejoin="round"/>
<path d="M141.30,505.00 C141.67,504.50 142.38,503.43 143.50,502.00 C144.62,500.57 145.37,498.27 148.00,496.40 C150.63,494.53 154.78,492.48 159.30,490.80 C163.82,489.12 171.65,487.27 175.10,486.30 C178.55,485.33 179.18,485.22 180.00,485.00" fill="none" stroke="#ffffff" stroke-width="1.7" stroke-linecap="butt" stroke-linejoin="round" stroke-dasharray="0.6,5.7" stroke-opacity="0.5"/>
</g>
<rect x="294" y="344" width="52" height="158" fill="#fff" fill-opacity="0.8"/>
<line x1="300.0" y1="354.30" x2="315.7" y2="354.30" stroke="#9e0142" stroke-width="1.1"/>
<text x="322.4" y="356.90" font-size="9.0">3</text>
<circle cx="329.20" cy="351.90" r="0.75" fill="none" stroke="#222" stroke-width="0.65"/>
<line x1="300.0" y1="365.93" x2="315.7" y2="365.93" stroke="#cb334d" stroke-width="1.1"/>
<text x="322.4" y="368.53" font-size="9.0">31</text>
<circle cx="334.21" cy="363.53" r="0.75" fill="none" stroke="#222" stroke-width="0.65"/>
<line x1="300.0" y1="377.56" x2="315.7" y2="377.56" stroke="#e95c47" stroke-width="1.1"/>
<text x="322.4" y="380.16" font-size="9.0">59</text>
<circle cx="334.21" cy="375.16" r="0.75" fill="none" stroke="#222" stroke-width="0.65"/>
<line x1="300.0" y1="389.19" x2="315.7" y2="389.19" stroke="#f98e52" stroke-width="1.1"/>
<text x="322.4" y="391.79" font-size="9.0">87</text>
<circle cx="334.21" cy="386.79" r="0.75" fill="none" stroke="#222" stroke-width="0.65"/>
<line x1="300.0" y1="400.82" x2="315.7" y2="400.82" stroke="#fdbf6f" stroke-width="1.1"/>
<text x="322.4" y="403.42" font-size="9.0">115</text>
<circle cx="339.21" cy="398.42" r="0.75" fill="none" stroke="#222" stroke-width="0.65"/>
<line x1="300.0" y1="412.45" x2="315.7" y2="412.45" stroke="#fee593" stroke-width="1.1"/>
<text x="322.4" y="415.05" font-size="9.0">143</text>
<circle cx="339.21" cy="410.05" r="0.75" fill="none" stroke="#222" stroke-width="0.65"/>
<line x1="300.0" y1="424.08" x2="315.7" y2="424.08" stroke="#ffffbe" stroke-width="1.1"/>
<text x="322.4" y="426.68" font-size="9.0">172</text>
<circle cx="339.21" cy="421.68" r="0.75" fill="none" stroke="#222" stroke-width="0.65"/>
<line x1="300.0" y1="435.71" x2="315.7" y2="435.71" stroke="#eaf79e" stroke-width="1.1"/>
<text x="322.4" y="438.31" font-size="9.0">200</text>
<circle cx="339.21" cy="433.31" r="0.75" fill="none" stroke="#222" stroke-width="0.65"/>
<line x1="300.0" y1="447.34" x2="315.7" y2="447.34" stroke="#bfe5a0" stroke-width="1.1"/>
<text x="322.4" y="449.94" font-size="9.0">228</text>
<circle cx="339.21" cy="444.94" r="0.75" fill="none" stroke="#222" stroke-width="0.65"/>
<line x1="300.0" y1="458.97" x2="315.7" y2="458.97" stroke="#86cfa5" stroke-width="1.1"/>
<text x="322.4" y="461.57" font-size="9.0">256</text>
<circle cx="339.21" cy="456.57" r="0.75" fill="none" stroke="#222" stroke-width="0.65"/>
<line x1="300.0" y1="470.60" x2="315.7" y2="470.60" stroke="#54aead" stroke-width="1.1"/>
<text x="322.4" y="473.20" font-size="9.0">284</text>
<circle cx="339.21" cy="468.20" r="0.75" fill="none" stroke="#222" stroke-width="0.65"/>
<line x1="300.0" y1="482.23" x2="315.7" y2="482.23" stroke="#3a7eb8" stroke-width="1.1"/>
<text x="322.4" y="484.83" font-size="9.0">312</text>
<circle cx="339.21" cy="479.83" r="0.75" fill="none" stroke="#222" stroke-width="0.65"/>
<line x1="300.0" y1="493.86" x2="315.7" y2="493.86" stroke="#5e4fa2" stroke-width="1.1"/>
<text x="322.4" y="496.46" font-size="9.0">340</text>
<circle cx="339.21" cy="491.46" r="0.75" fill="none" stroke="#222" stroke-width="0.65"/>
<line x1="37.00" y1="505.3" x2="37.00" y2="508.1" stroke="#262626" stroke-width="0.63"/>
<text x="37.00" y="517.10" font-size="8.8" text-anchor="middle"><tspan letter-spacing="0.3">10</tspan><tspan font-size="6.34" dy="-3.1">−9</tspan></text>
<line x1="47.41" y1="505.3" x2="47.41" y2="506.90000000000003" stroke="#262626" stroke-width="0.5"/>
<line x1="53.50" y1="505.3" x2="53.50" y2="506.90000000000003" stroke="#262626" stroke-width="0.5"/>
<line x1="57.82" y1="505.3" x2="57.82" y2="506.90000000000003" stroke="#262626" stroke-width="0.5"/>
<line x1="61.17" y1="505.3" x2="61.17" y2="506.90000000000003" stroke="#262626" stroke-width="0.5"/>
<line x1="63.91" y1="505.3" x2="63.91" y2="506.90000000000003" stroke="#262626" stroke-width="0.5"/>
<line x1="66.22" y1="505.3" x2="66.22" y2="506.90000000000003" stroke="#262626" stroke-width="0.5"/>
<line x1="68.23" y1="505.3" x2="68.23" y2="506.90000000000003" stroke="#262626" stroke-width="0.5"/>
<line x1="70.00" y1="505.3" x2="70.00" y2="506.90000000000003" stroke="#262626" stroke-width="0.5"/>
<line x1="71.58" y1="505.3" x2="71.58" y2="506.90000000000003" stroke="#262626" stroke-width="0.5"/>
<line x1="81.99" y1="505.3" x2="81.99" y2="506.90000000000003" stroke="#262626" stroke-width="0.5"/>
<line x1="88.08" y1="505.3" x2="88.08" y2="506.90000000000003" stroke="#262626" stroke-width="0.5"/>
<line x1="92.40" y1="505.3" x2="92.40" y2="506.90000000000003" stroke="#262626" stroke-width="0.5"/>
<line x1="95.75" y1="505.3" x2="95.75" y2="506.90000000000003" stroke="#262626" stroke-width="0.5"/>
<line x1="98.48" y1="505.3" x2="98.48" y2="506.90000000000003" stroke="#262626" stroke-width="0.5"/>
<line x1="100.80" y1="505.3" x2="100.80" y2="506.90000000000003" stroke="#262626" stroke-width="0.5"/>
<line x1="102.80" y1="505.3" x2="102.80" y2="506.90000000000003" stroke="#262626" stroke-width="0.5"/>
<line x1="104.57" y1="505.3" x2="104.57" y2="506.90000000000003" stroke="#262626" stroke-width="0.5"/>
<line x1="106.16" y1="505.3" x2="106.16" y2="508.1" stroke="#262626" stroke-width="0.63"/>
<text x="106.16" y="517.10" font-size="8.8" text-anchor="middle"><tspan letter-spacing="0.3">10</tspan><tspan font-size="6.34" dy="-3.1">−7</tspan></text>
<line x1="116.56" y1="505.3" x2="116.56" y2="506.90000000000003" stroke="#262626" stroke-width="0.5"/>
<line x1="122.65" y1="505.3" x2="122.65" y2="506.90000000000003" stroke="#262626" stroke-width="0.5"/>
<line x1="126.97" y1="505.3" x2="126.97" y2="506.90000000000003" stroke="#262626" stroke-width="0.5"/>
<line x1="130.32" y1="505.3" x2="130.32" y2="506.90000000000003" stroke="#262626" stroke-width="0.5"/>
<line x1="133.06" y1="505.3" x2="133.06" y2="506.90000000000003" stroke="#262626" stroke-width="0.5"/>
<line x1="135.38" y1="505.3" x2="135.38" y2="506.90000000000003" stroke="#262626" stroke-width="0.5"/>
<line x1="137.38" y1="505.3" x2="137.38" y2="506.90000000000003" stroke="#262626" stroke-width="0.5"/>
<line x1="139.15" y1="505.3" x2="139.15" y2="506.90000000000003" stroke="#262626" stroke-width="0.5"/>
<line x1="140.73" y1="505.3" x2="140.73" y2="506.90000000000003" stroke="#262626" stroke-width="0.5"/>
<line x1="151.14" y1="505.3" x2="151.14" y2="506.90000000000003" stroke="#262626" stroke-width="0.5"/>
<line x1="157.23" y1="505.3" x2="157.23" y2="506.90000000000003" stroke="#262626" stroke-width="0.5"/>
<line x1="161.55" y1="505.3" x2="161.55" y2="506.90000000000003" stroke="#262626" stroke-width="0.5"/>
<line x1="164.90" y1="505.3" x2="164.90" y2="506.90000000000003" stroke="#262626" stroke-width="0.5"/>
<line x1="167.64" y1="505.3" x2="167.64" y2="506.90000000000003" stroke="#262626" stroke-width="0.5"/>
<line x1="169.95" y1="505.3" x2="169.95" y2="506.90000000000003" stroke="#262626" stroke-width="0.5"/>
<line x1="171.96" y1="505.3" x2="171.96" y2="506.90000000000003" stroke="#262626" stroke-width="0.5"/>
<line x1="173.73" y1="505.3" x2="173.73" y2="506.90000000000003" stroke="#262626" stroke-width="0.5"/>
<line x1="175.31" y1="505.3" x2="175.31" y2="508.1" stroke="#262626" stroke-width="0.63"/>
<text x="175.31" y="517.10" font-size="8.8" text-anchor="middle"><tspan letter-spacing="0.3">10</tspan><tspan font-size="6.34" dy="-3.1">−5</tspan></text>
<line x1="185.72" y1="505.3" x2="185.72" y2="506.90000000000003" stroke="#262626" stroke-width="0.5"/>
<line x1="191.81" y1="505.3" x2="191.81" y2="506.90000000000003" stroke="#262626" stroke-width="0.5"/>
<line x1="196.13" y1="505.3" x2="196.13" y2="506.90000000000003" stroke="#262626" stroke-width="0.5"/>
<line x1="199.48" y1="505.3" x2="199.48" y2="506.90000000000003" stroke="#262626" stroke-width="0.5"/>
<line x1="202.22" y1="505.3" x2="202.22" y2="506.90000000000003" stroke="#262626" stroke-width="0.5"/>
<line x1="204.53" y1="505.3" x2="204.53" y2="506.90000000000003" stroke="#262626" stroke-width="0.5"/>
<line x1="206.54" y1="505.3" x2="206.54" y2="506.90000000000003" stroke="#262626" stroke-width="0.5"/>
<line x1="208.31" y1="505.3" x2="208.31" y2="506.90000000000003" stroke="#262626" stroke-width="0.5"/>
<line x1="209.89" y1="505.3" x2="209.89" y2="506.90000000000003" stroke="#262626" stroke-width="0.5"/>
<line x1="220.30" y1="505.3" x2="220.30" y2="506.90000000000003" stroke="#262626" stroke-width="0.5"/>
<line x1="226.39" y1="505.3" x2="226.39" y2="506.90000000000003" stroke="#262626" stroke-width="0.5"/>
<line x1="230.71" y1="505.3" x2="230.71" y2="506.90000000000003" stroke="#262626" stroke-width="0.5"/>
<line x1="234.06" y1="505.3" x2="234.06" y2="506.90000000000003" stroke="#262626" stroke-width="0.5"/>
<line x1="236.80" y1="505.3" x2="236.80" y2="506.90000000000003" stroke="#262626" stroke-width="0.5"/>
<line x1="239.11" y1="505.3" x2="239.11" y2="506.90000000000003" stroke="#262626" stroke-width="0.5"/>
<line x1="241.12" y1="505.3" x2="241.12" y2="506.90000000000003" stroke="#262626" stroke-width="0.5"/>
<line x1="242.88" y1="505.3" x2="242.88" y2="506.90000000000003" stroke="#262626" stroke-width="0.5"/>
<line x1="244.47" y1="505.3" x2="244.47" y2="508.1" stroke="#262626" stroke-width="0.63"/>
<text x="244.47" y="517.10" font-size="8.8" text-anchor="middle"><tspan letter-spacing="0.3">10</tspan><tspan font-size="6.34" dy="-3.1">−3</tspan></text>
<line x1="254.88" y1="505.3" x2="254.88" y2="506.90000000000003" stroke="#262626" stroke-width="0.5"/>
<line x1="260.96" y1="505.3" x2="260.96" y2="506.90000000000003" stroke="#262626" stroke-width="0.5"/>
<line x1="265.28" y1="505.3" x2="265.28" y2="506.90000000000003" stroke="#262626" stroke-width="0.5"/>
<line x1="268.64" y1="505.3" x2="268.64" y2="506.90000000000003" stroke="#262626" stroke-width="0.5"/>
<line x1="271.37" y1="505.3" x2="271.37" y2="506.90000000000003" stroke="#262626" stroke-width="0.5"/>
<line x1="273.69" y1="505.3" x2="273.69" y2="506.90000000000003" stroke="#262626" stroke-width="0.5"/>
<line x1="275.69" y1="505.3" x2="275.69" y2="506.90000000000003" stroke="#262626" stroke-width="0.5"/>
<line x1="277.46" y1="505.3" x2="277.46" y2="506.90000000000003" stroke="#262626" stroke-width="0.5"/>
<line x1="279.04" y1="505.3" x2="279.04" y2="506.90000000000003" stroke="#262626" stroke-width="0.5"/>
<line x1="289.45" y1="505.3" x2="289.45" y2="506.90000000000003" stroke="#262626" stroke-width="0.5"/>
<line x1="295.54" y1="505.3" x2="295.54" y2="506.90000000000003" stroke="#262626" stroke-width="0.5"/>
<line x1="299.86" y1="505.3" x2="299.86" y2="506.90000000000003" stroke="#262626" stroke-width="0.5"/>
<line x1="303.21" y1="505.3" x2="303.21" y2="506.90000000000003" stroke="#262626" stroke-width="0.5"/>
<line x1="305.95" y1="505.3" x2="305.95" y2="506.90000000000003" stroke="#262626" stroke-width="0.5"/>
<line x1="308.27" y1="505.3" x2="308.27" y2="506.90000000000003" stroke="#262626" stroke-width="0.5"/>
<line x1="310.27" y1="505.3" x2="310.27" y2="506.90000000000003" stroke="#262626" stroke-width="0.5"/>
<line x1="312.04" y1="505.3" x2="312.04" y2="506.90000000000003" stroke="#262626" stroke-width="0.5"/>
<line x1="313.62" y1="505.3" x2="313.62" y2="508.1" stroke="#262626" stroke-width="0.63"/>
<text x="313.62" y="517.10" font-size="8.8" text-anchor="middle"><tspan letter-spacing="0.3">10</tspan><tspan font-size="6.34" dy="-3.1">−1</tspan></text>
<line x1="324.03" y1="505.3" x2="324.03" y2="506.90000000000003" stroke="#262626" stroke-width="0.5"/>
<line x1="330.12" y1="505.3" x2="330.12" y2="506.90000000000003" stroke="#262626" stroke-width="0.5"/>
<line x1="334.44" y1="505.3" x2="334.44" y2="506.90000000000003" stroke="#262626" stroke-width="0.5"/>
<line x1="337.79" y1="505.3" x2="337.79" y2="506.90000000000003" stroke="#262626" stroke-width="0.5"/>
<line x1="340.53" y1="505.3" x2="340.53" y2="506.90000000000003" stroke="#262626" stroke-width="0.5"/>
<line x1="342.84" y1="505.3" x2="342.84" y2="506.90000000000003" stroke="#262626" stroke-width="0.5"/>
<line x1="344.85" y1="505.3" x2="344.85" y2="506.90000000000003" stroke="#262626" stroke-width="0.5"/>
<line x1="346.62" y1="505.3" x2="346.62" y2="506.90000000000003" stroke="#262626" stroke-width="0.5"/>
<line x1="348.20" y1="505.3" x2="348.20" y2="506.90000000000003" stroke="#262626" stroke-width="0.5"/>
<line x1="37.0" y1="287.70" x2="35.4" y2="287.70" stroke="#262626" stroke-width="0.5"/>
<line x1="37.0" y1="294.98" x2="35.4" y2="294.98" stroke="#262626" stroke-width="0.5"/>
<line x1="37.0" y1="299.24" x2="35.4" y2="299.24" stroke="#262626" stroke-width="0.5"/>
<line x1="37.0" y1="302.26" x2="35.4" y2="302.26" stroke="#262626" stroke-width="0.5"/>
<line x1="37.0" y1="304.60" x2="35.4" y2="304.60" stroke="#262626" stroke-width="0.5"/>
<line x1="37.0" y1="306.51" x2="35.4" y2="306.51" stroke="#262626" stroke-width="0.5"/>
<line x1="37.0" y1="308.13" x2="35.4" y2="308.13" stroke="#262626" stroke-width="0.5"/>
<line x1="37.0" y1="309.53" x2="35.4" y2="309.53" stroke="#262626" stroke-width="0.5"/>
<line x1="37.0" y1="310.77" x2="35.4" y2="310.77" stroke="#262626" stroke-width="0.5"/>
<line x1="37.0" y1="311.88" x2="34.2" y2="311.88" stroke="#262626" stroke-width="0.63"/>
<text x="31.20" y="314.98" font-size="8.8" text-anchor="end"><tspan letter-spacing="0.3">10</tspan><tspan font-size="6.34" dy="-3.1">−6</tspan></text>
<line x1="37.0" y1="319.16" x2="35.4" y2="319.16" stroke="#262626" stroke-width="0.5"/>
<line x1="37.0" y1="323.41" x2="35.4" y2="323.41" stroke="#262626" stroke-width="0.5"/>
<line x1="37.0" y1="326.43" x2="35.4" y2="326.43" stroke="#262626" stroke-width="0.5"/>
<line x1="37.0" y1="328.78" x2="35.4" y2="328.78" stroke="#262626" stroke-width="0.5"/>
<line x1="37.0" y1="330.69" x2="35.4" y2="330.69" stroke="#262626" stroke-width="0.5"/>
<line x1="37.0" y1="332.31" x2="35.4" y2="332.31" stroke="#262626" stroke-width="0.5"/>
<line x1="37.0" y1="333.71" x2="35.4" y2="333.71" stroke="#262626" stroke-width="0.5"/>
<line x1="37.0" y1="334.95" x2="35.4" y2="334.95" stroke="#262626" stroke-width="0.5"/>
<line x1="37.0" y1="336.06" x2="35.4" y2="336.06" stroke="#262626" stroke-width="0.5"/>
<line x1="37.0" y1="343.33" x2="35.4" y2="343.33" stroke="#262626" stroke-width="0.5"/>
<line x1="37.0" y1="347.59" x2="35.4" y2="347.59" stroke="#262626" stroke-width="0.5"/>
<line x1="37.0" y1="350.61" x2="35.4" y2="350.61" stroke="#262626" stroke-width="0.5"/>
<line x1="37.0" y1="352.96" x2="35.4" y2="352.96" stroke="#262626" stroke-width="0.5"/>
<line x1="37.0" y1="354.87" x2="35.4" y2="354.87" stroke="#262626" stroke-width="0.5"/>
<line x1="37.0" y1="356.49" x2="35.4" y2="356.49" stroke="#262626" stroke-width="0.5"/>
<line x1="37.0" y1="357.89" x2="35.4" y2="357.89" stroke="#262626" stroke-width="0.5"/>
<line x1="37.0" y1="359.13" x2="35.4" y2="359.13" stroke="#262626" stroke-width="0.5"/>
<line x1="37.0" y1="360.23" x2="34.2" y2="360.23" stroke="#262626" stroke-width="0.63"/>
<text x="31.20" y="363.33" font-size="8.8" text-anchor="end"><tspan letter-spacing="0.3">10</tspan><tspan font-size="6.34" dy="-3.1">−4</tspan></text>
<line x1="37.0" y1="367.51" x2="35.4" y2="367.51" stroke="#262626" stroke-width="0.5"/>
<line x1="37.0" y1="371.77" x2="35.4" y2="371.77" stroke="#262626" stroke-width="0.5"/>
<line x1="37.0" y1="374.79" x2="35.4" y2="374.79" stroke="#262626" stroke-width="0.5"/>
<line x1="37.0" y1="377.13" x2="35.4" y2="377.13" stroke="#262626" stroke-width="0.5"/>
<line x1="37.0" y1="379.05" x2="35.4" y2="379.05" stroke="#262626" stroke-width="0.5"/>
<line x1="37.0" y1="380.67" x2="35.4" y2="380.67" stroke="#262626" stroke-width="0.5"/>
<line x1="37.0" y1="382.07" x2="35.4" y2="382.07" stroke="#262626" stroke-width="0.5"/>
<line x1="37.0" y1="383.30" x2="35.4" y2="383.30" stroke="#262626" stroke-width="0.5"/>
<line x1="37.0" y1="384.41" x2="35.4" y2="384.41" stroke="#262626" stroke-width="0.5"/>
<line x1="37.0" y1="391.69" x2="35.4" y2="391.69" stroke="#262626" stroke-width="0.5"/>
<line x1="37.0" y1="395.95" x2="35.4" y2="395.95" stroke="#262626" stroke-width="0.5"/>
<line x1="37.0" y1="398.97" x2="35.4" y2="398.97" stroke="#262626" stroke-width="0.5"/>
<line x1="37.0" y1="401.31" x2="35.4" y2="401.31" stroke="#262626" stroke-width="0.5"/>
<line x1="37.0" y1="403.23" x2="35.4" y2="403.23" stroke="#262626" stroke-width="0.5"/>
<line x1="37.0" y1="404.84" x2="35.4" y2="404.84" stroke="#262626" stroke-width="0.5"/>
<line x1="37.0" y1="406.25" x2="35.4" y2="406.25" stroke="#262626" stroke-width="0.5"/>
<line x1="37.0" y1="407.48" x2="35.4" y2="407.48" stroke="#262626" stroke-width="0.5"/>
<line x1="37.0" y1="408.59" x2="34.2" y2="408.59" stroke="#262626" stroke-width="0.63"/>
<text x="31.20" y="411.69" font-size="8.8" text-anchor="end"><tspan letter-spacing="0.3">10</tspan><tspan font-size="6.34" dy="-3.1">−2</tspan></text>
<line x1="37.0" y1="415.87" x2="35.4" y2="415.87" stroke="#262626" stroke-width="0.5"/>
<line x1="37.0" y1="420.12" x2="35.4" y2="420.12" stroke="#262626" stroke-width="0.5"/>
<line x1="37.0" y1="423.15" x2="35.4" y2="423.15" stroke="#262626" stroke-width="0.5"/>
<line x1="37.0" y1="425.49" x2="35.4" y2="425.49" stroke="#262626" stroke-width="0.5"/>
<line x1="37.0" y1="427.40" x2="35.4" y2="427.40" stroke="#262626" stroke-width="0.5"/>
<line x1="37.0" y1="429.02" x2="35.4" y2="429.02" stroke="#262626" stroke-width="0.5"/>
<line x1="37.0" y1="430.42" x2="35.4" y2="430.42" stroke="#262626" stroke-width="0.5"/>
<line x1="37.0" y1="431.66" x2="35.4" y2="431.66" stroke="#262626" stroke-width="0.5"/>
<line x1="37.0" y1="432.77" x2="35.4" y2="432.77" stroke="#262626" stroke-width="0.5"/>
<line x1="37.0" y1="440.04" x2="35.4" y2="440.04" stroke="#262626" stroke-width="0.5"/>
<line x1="37.0" y1="444.30" x2="35.4" y2="444.30" stroke="#262626" stroke-width="0.5"/>
<line x1="37.0" y1="447.32" x2="35.4" y2="447.32" stroke="#262626" stroke-width="0.5"/>
<line x1="37.0" y1="449.67" x2="35.4" y2="449.67" stroke="#262626" stroke-width="0.5"/>
<line x1="37.0" y1="451.58" x2="35.4" y2="451.58" stroke="#262626" stroke-width="0.5"/>
<line x1="37.0" y1="453.20" x2="35.4" y2="453.20" stroke="#262626" stroke-width="0.5"/>
<line x1="37.0" y1="454.60" x2="35.4" y2="454.60" stroke="#262626" stroke-width="0.5"/>
<line x1="37.0" y1="455.84" x2="35.4" y2="455.84" stroke="#262626" stroke-width="0.5"/>
<line x1="37.0" y1="456.94" x2="34.2" y2="456.94" stroke="#262626" stroke-width="0.63"/>
<text x="31.20" y="460.04" font-size="8.8" text-anchor="end"><tspan letter-spacing="0.3">10</tspan><tspan font-size="6.34" dy="-3.1">0</tspan></text>
<line x1="37.0" y1="464.22" x2="35.4" y2="464.22" stroke="#262626" stroke-width="0.5"/>
<line x1="37.0" y1="468.48" x2="35.4" y2="468.48" stroke="#262626" stroke-width="0.5"/>
<line x1="37.0" y1="471.50" x2="35.4" y2="471.50" stroke="#262626" stroke-width="0.5"/>
<line x1="37.0" y1="473.84" x2="35.4" y2="473.84" stroke="#262626" stroke-width="0.5"/>
<line x1="37.0" y1="475.76" x2="35.4" y2="475.76" stroke="#262626" stroke-width="0.5"/>
<line x1="37.0" y1="477.38" x2="35.4" y2="477.38" stroke="#262626" stroke-width="0.5"/>
<line x1="37.0" y1="478.78" x2="35.4" y2="478.78" stroke="#262626" stroke-width="0.5"/>
<line x1="37.0" y1="480.02" x2="35.4" y2="480.02" stroke="#262626" stroke-width="0.5"/>
<line x1="37.0" y1="481.12" x2="35.4" y2="481.12" stroke="#262626" stroke-width="0.5"/>
<line x1="37.0" y1="488.40" x2="35.4" y2="488.40" stroke="#262626" stroke-width="0.5"/>
<line x1="37.0" y1="492.66" x2="35.4" y2="492.66" stroke="#262626" stroke-width="0.5"/>
<line x1="37.0" y1="495.68" x2="35.4" y2="495.68" stroke="#262626" stroke-width="0.5"/>
<line x1="37.0" y1="498.02" x2="35.4" y2="498.02" stroke="#262626" stroke-width="0.5"/>
<line x1="37.0" y1="499.94" x2="35.4" y2="499.94" stroke="#262626" stroke-width="0.5"/>
<line x1="37.0" y1="501.55" x2="35.4" y2="501.55" stroke="#262626" stroke-width="0.5"/>
<line x1="37.0" y1="502.96" x2="35.4" y2="502.96" stroke="#262626" stroke-width="0.5"/>
<line x1="37.0" y1="504.19" x2="35.4" y2="504.19" stroke="#262626" stroke-width="0.5"/>
<line x1="37.0" y1="505.30" x2="34.2" y2="505.30" stroke="#262626" stroke-width="0.63"/>
<text x="31.20" y="508.40" font-size="8.8" text-anchor="end"><tspan letter-spacing="0.3">10</tspan><tspan font-size="6.34" dy="-3.1">2</tspan></text>
<rect x="37.0" y="287.7" width="311.20" height="217.60" fill="none" stroke="#262626" stroke-width="0.7"/>
<text x="192.60" y="282.80" font-size="10.4" text-anchor="middle">H</text>
<text x="192.60" y="530.50" font-size="10.0" text-anchor="middle" textLength="96" lengthAdjust="spacingAndGlyphs">Volume mixing ratio</text>
<text transform="translate(7.40,396.40) rotate(-90)" font-size="9.8" text-anchor="middle" textLength="66" lengthAdjust="spacingAndGlyphs">Pressure (bar)</text>
<defs><clipPath id="cp4"><rect x="405.4" y="287.9" width="302.00" height="217.30"/></clipPath></defs>
<g clip-path="url(#cp4)">
<path d="M470.20,287.00 C474.15,290.67 485.73,301.67 493.90,309.00 C502.07,316.33 511.32,323.95 519.20,331.00 C527.08,338.05 533.90,343.80 541.20,351.30 C548.50,358.80 555.53,368.07 563.00,376.00 C570.47,383.93 578.35,391.25 586.00,398.90 C593.65,406.55 602.02,415.00 608.90,421.90 C615.78,428.80 622.37,434.05 627.30,440.30 C632.23,446.55 635.68,454.83 638.50,459.40 C641.32,463.97 641.33,464.68 644.20,467.70 C647.07,470.72 651.03,474.22 655.70,477.50 C660.37,480.78 667.27,484.38 672.20,487.40 C677.13,490.42 681.60,492.73 685.30,495.60 C689.00,498.47 692.88,503.10 694.40,504.60" fill="none" stroke="#8c8c8c" stroke-width="1.1" stroke-linecap="butt" stroke-linejoin="round" stroke-dasharray="1.2,1.9"/>
<path d="M475.27,287.00 C479.08,290.60 490.31,301.38 498.12,308.57 C505.94,315.77 514.71,323.24 522.18,330.15 C529.64,337.06 535.80,342.63 542.90,350.02 C550.00,357.42 557.11,366.39 564.75,374.50 C572.39,382.61 581.01,390.77 588.75,398.67 C596.49,406.58 604.51,414.92 611.17,421.92 C617.84,428.93 624.17,434.48 628.72,440.73 C633.28,446.97 635.92,454.90 638.50,459.40 C641.08,463.90 641.33,464.68 644.20,467.70 C647.07,470.72 651.03,474.22 655.70,477.50 C660.37,480.78 667.27,484.38 672.20,487.40 C677.13,490.42 681.60,492.73 685.30,495.60 C689.00,498.47 692.88,503.10 694.40,504.60" fill="none" stroke="#8c8c8c" stroke-width="1.1" stroke-linecap="butt" stroke-linejoin="round" stroke-dasharray="1.2,1.9"/>
<path d="M480.35,287.00 C484.02,290.52 494.88,301.10 502.35,308.15 C509.82,315.20 518.11,322.53 525.15,329.30 C532.19,336.07 537.71,341.47 544.60,348.75 C551.49,356.03 558.68,364.72 566.50,373.00 C574.32,381.28 583.67,390.29 591.50,398.45 C599.33,406.61 607.01,414.83 613.45,421.95 C619.89,429.07 625.98,434.91 630.15,441.15 C634.32,447.39 636.16,454.97 638.50,459.40 C640.84,463.82 641.33,464.68 644.20,467.70 C647.07,470.72 651.03,474.22 655.70,477.50 C660.37,480.78 667.27,484.38 672.20,487.40 C677.13,490.42 681.60,492.73 685.30,495.60 C689.00,498.47 692.88,503.10 694.40,504.60" fill="none" stroke="#8c8c8c" stroke-width="1.1" stroke-linecap="butt" stroke-linejoin="round" stroke-dasharray="1.2,1.9"/>
<path d="M485.43,287.00 C488.95,290.45 499.46,300.82 506.57,307.73 C513.69,314.63 521.50,321.83 528.12,328.45 C534.75,335.08 539.61,340.30 546.30,347.48 C552.99,354.65 560.26,363.04 568.25,371.50 C576.24,379.96 586.34,389.81 594.25,398.23 C602.16,406.64 609.50,414.75 615.73,421.98 C621.95,429.20 627.78,435.34 631.58,441.57 C635.37,447.81 636.40,455.05 638.50,459.40 C640.60,463.75 641.33,464.68 644.20,467.70 C647.07,470.72 651.03,474.22 655.70,477.50 C660.37,480.78 667.27,484.38 672.20,487.40 C677.13,490.42 681.60,492.73 685.30,495.60 C689.00,498.47 692.88,503.10 694.40,504.60" fill="none" stroke="#8c8c8c" stroke-width="1.1" stroke-linecap="butt" stroke-linejoin="round" stroke-dasharray="1.2,1.9"/>
<path d="M490.50,287.00 C493.88,290.38 504.03,300.53 510.80,307.30 C517.57,314.07 524.90,321.12 531.10,327.60 C537.30,334.08 541.52,339.13 548.00,346.20 C554.48,353.27 561.83,361.37 570.00,370.00 C578.17,378.63 589.00,389.33 597.00,398.00 C605.00,406.67 612.00,414.67 618.00,422.00 C624.00,429.33 629.58,435.77 633.00,442.00 C636.42,448.23 636.63,455.12 638.50,459.40 C640.37,463.68 641.33,464.68 644.20,467.70 C647.07,470.72 651.03,474.22 655.70,477.50 C660.37,480.78 667.27,484.38 672.20,487.40 C677.13,490.42 681.60,492.73 685.30,495.60 C689.00,498.47 692.88,503.10 694.40,504.60" fill="none" stroke="#8c8c8c" stroke-width="1.1" stroke-linecap="butt" stroke-linejoin="round" stroke-dasharray="1.2,1.9"/>
<path d="M541.20,287.00 C543.47,290.38 550.28,300.25 554.80,307.30 C559.32,314.35 564.10,321.97 568.30,329.30 C572.50,336.63 575.38,343.18 580.00,351.30 C584.62,359.42 591.33,369.88 596.00,378.00 C600.67,386.12 603.67,392.17 608.00,400.00 C612.33,407.83 617.83,417.00 622.00,425.00 C626.17,433.00 630.25,442.27 633.00,448.00 C635.75,453.73 636.63,456.12 638.50,459.40 C640.37,462.68 641.33,464.68 644.20,467.70 C647.07,470.72 651.03,474.22 655.70,477.50 C660.37,480.78 667.27,484.38 672.20,487.40 C677.13,490.42 681.60,492.73 685.30,495.60 C689.00,498.47 692.88,503.10 694.40,504.60" fill="none" stroke="#8c8c8c" stroke-width="1.1" stroke-linecap="butt" stroke-linejoin="round" stroke-dasharray="1.2,1.9"/>
<path d="M550.80,287.00 C552.76,290.26 558.63,299.44 562.53,306.53 C566.43,313.62 570.19,321.72 574.20,329.53 C578.21,337.34 581.83,345.43 586.57,353.40 C591.30,361.37 597.96,369.63 602.60,377.33 C607.24,385.04 610.65,391.86 614.43,399.63 C618.22,407.41 622.01,415.79 625.30,423.97 C628.59,432.14 631.97,442.76 634.17,448.67 C636.37,454.57 636.83,456.23 638.50,459.40 C640.17,462.57 641.33,464.68 644.20,467.70 C647.07,470.72 651.03,474.22 655.70,477.50 C660.37,480.78 667.27,484.38 672.20,487.40 C677.13,490.42 681.60,492.73 685.30,495.60 C689.00,498.47 692.88,503.10 694.40,504.60" fill="none" stroke="#8c8c8c" stroke-width="1.1" stroke-linecap="butt" stroke-linejoin="round" stroke-dasharray="1.2,1.9"/>
<path d="M560.40,287.00 C562.04,290.13 566.98,298.64 570.27,305.77 C573.55,312.89 576.29,321.48 580.10,329.77 C583.91,338.06 588.28,347.68 593.13,355.50 C597.98,363.32 604.58,369.37 609.20,376.67 C613.82,383.96 617.63,391.56 620.87,399.27 C624.10,406.98 626.19,414.59 628.60,422.93 C631.01,431.28 633.68,443.26 635.33,449.33 C636.98,455.41 637.02,456.34 638.50,459.40 C639.98,462.46 641.33,464.68 644.20,467.70 C647.07,470.72 651.03,474.22 655.70,477.50 C660.37,480.78 667.27,484.38 672.20,487.40 C677.13,490.42 681.60,492.73 685.30,495.60 C689.00,498.47 692.88,503.10 694.40,504.60" fill="none" stroke="#8c8c8c" stroke-width="1.1" stroke-linecap="butt" stroke-linejoin="round" stroke-dasharray="1.2,1.9"/>
<path d="M570.00,287.00 C571.33,290.00 575.33,297.83 578.00,305.00 C580.67,312.17 582.38,321.23 586.00,330.00 C589.62,338.77 594.73,349.93 599.70,357.60 C604.67,365.27 611.20,369.12 615.80,376.00 C620.40,382.88 624.62,391.25 627.30,398.90 C629.98,406.55 630.37,413.38 631.90,421.90 C633.43,430.42 635.40,443.75 636.50,450.00 C637.60,456.25 637.22,456.45 638.50,459.40 C639.78,462.35 641.33,464.68 644.20,467.70 C647.07,470.72 651.03,474.22 655.70,477.50 C660.37,480.78 667.27,484.38 672.20,487.40 C677.13,490.42 681.60,492.73 685.30,495.60 C689.00,498.47 692.88,503.10 694.40,504.60" fill="none" stroke="#8c8c8c" stroke-width="1.1" stroke-linecap="butt" stroke-linejoin="round" stroke-dasharray="1.2,1.9"/>
<path d="M441.80,288.00 C439.85,290.62 433.17,298.30 430.10,303.70 C427.03,309.10 423.75,314.35 423.40,320.40 C423.05,326.45 425.23,334.57 428.00,340.00 C430.77,345.43 429.67,349.92 440.00,353.00 C450.33,356.08 470.83,356.75 490.00,358.50 C509.17,360.25 536.67,361.83 555.00,363.50 C573.33,365.17 590.67,367.00 600.00,368.50 C609.33,370.00 608.00,371.33 611.00,372.50 C614.00,373.67 616.58,375.27 618.00,375.50 C619.42,375.73 618.32,372.85 619.50,373.90 C620.68,374.95 623.60,379.37 625.10,381.80 C626.60,384.23 627.37,385.68 628.50,388.50 C629.63,391.32 630.95,395.05 631.90,398.70 C632.85,402.35 633.65,406.85 634.20,410.40 C634.75,413.95 634.77,415.67 635.20,420.00 C635.63,424.33 636.25,430.10 636.80,436.40 C637.35,442.70 637.27,452.58 638.50,457.80 C639.73,463.02 641.33,464.42 644.20,467.70 C647.07,470.98 651.03,474.22 655.70,477.50 C660.37,480.78 667.27,484.38 672.20,487.40 C677.13,490.42 681.60,492.73 685.30,495.60 C689.00,498.47 692.62,502.70 694.40,504.60 C696.18,506.50 695.73,506.60 696.00,507.00" fill="none" stroke="#ffffbe" stroke-width="1.6" stroke-linecap="butt" stroke-linejoin="round"/>
<path d="M493.90,287.00 C497.28,292.65 506.87,311.58 514.20,320.90 C521.53,330.22 530.27,337.05 537.90,342.90 C545.53,348.75 551.32,352.48 560.00,356.00 C568.68,359.52 583.33,361.92 590.00,364.00 C596.67,366.08 596.50,367.08 600.00,368.50 C603.50,369.92 608.00,371.33 611.00,372.50 C614.00,373.67 616.58,375.27 618.00,375.50 C619.42,375.73 618.32,372.85 619.50,373.90 C620.68,374.95 623.60,379.37 625.10,381.80 C626.60,384.23 627.37,385.68 628.50,388.50 C629.63,391.32 630.95,395.05 631.90,398.70 C632.85,402.35 633.65,406.85 634.20,410.40 C634.75,413.95 634.77,415.67 635.20,420.00 C635.63,424.33 636.25,430.10 636.80,436.40 C637.35,442.70 637.27,452.58 638.50,457.80 C639.73,463.02 641.33,464.42 644.20,467.70 C647.07,470.98 651.03,474.22 655.70,477.50 C660.37,480.78 667.27,484.38 672.20,487.40 C677.13,490.42 681.60,492.73 685.30,495.60 C689.00,498.47 692.62,502.70 694.40,504.60 C696.18,506.50 695.73,506.60 696.00,507.00" fill="none" stroke="#fee593" stroke-width="1.6" stroke-linecap="butt" stroke-linejoin="round"/>
<path d="M488.60,290.30 C483.02,291.98 464.85,297.33 455.10,300.40 C445.35,303.47 434.83,305.92 430.10,308.70 C425.37,311.48 426.98,312.37 426.70,317.10 C426.42,321.83 427.28,331.82 428.40,337.10 C429.52,342.38 431.17,346.00 433.40,348.80 C435.63,351.60 432.37,352.37 441.80,353.90 C451.23,355.43 476.13,356.73 490.00,358.00 C503.87,359.27 514.17,360.67 525.00,361.50 C535.83,362.33 542.50,361.83 555.00,363.00 C567.50,364.17 590.67,366.92 600.00,368.50 C609.33,370.08 608.00,371.33 611.00,372.50 C614.00,373.67 616.58,375.27 618.00,375.50 C619.42,375.73 618.32,372.85 619.50,373.90 C620.68,374.95 623.60,379.37 625.10,381.80 C626.60,384.23 627.37,385.68 628.50,388.50 C629.63,391.32 630.95,395.05 631.90,398.70 C632.85,402.35 633.65,406.85 634.20,410.40 C634.75,413.95 634.77,415.67 635.20,420.00 C635.63,424.33 636.25,430.10 636.80,436.40 C637.35,442.70 637.27,452.58 638.50,457.80 C639.73,463.02 641.33,464.42 644.20,467.70 C647.07,470.98 651.03,474.22 655.70,477.50 C660.37,480.78 667.27,484.38 672.20,487.40 C677.13,490.42 681.60,492.73 685.30,495.60 C689.00,498.47 692.62,502.70 694.40,504.60 C696.18,506.50 695.73,506.60 696.00,507.00" fill="none" stroke="#fdbf6f" stroke-width="1.6" stroke-linecap="butt" stroke-linejoin="round"/>
<path d="M497.00,287.00 C493.33,287.83 481.98,290.33 475.00,292.00 C468.02,293.67 463.98,295.05 455.10,297.00 C446.22,298.95 427.40,302.17 421.70,303.70 C416.00,305.23 420.07,304.80 420.90,306.20 C421.73,307.60 424.20,309.73 426.70,312.10 C429.20,314.47 433.67,317.33 435.90,320.40 C438.13,323.47 438.00,327.15 440.10,330.50 C442.20,333.85 446.27,337.17 448.50,340.50 C450.73,343.83 451.00,348.08 453.50,350.50 C456.00,352.92 457.65,353.67 463.50,355.00 C469.35,356.33 478.35,357.42 488.60,358.50 C498.85,359.58 513.92,360.67 525.00,361.50 C536.08,362.33 542.60,362.33 555.10,363.50 C567.60,364.67 590.68,367.00 600.00,368.50 C609.32,370.00 608.00,371.33 611.00,372.50 C614.00,373.67 616.58,375.27 618.00,375.50 C619.42,375.73 618.32,372.85 619.50,373.90 C620.68,374.95 623.60,379.37 625.10,381.80 C626.60,384.23 627.37,385.68 628.50,388.50 C629.63,391.32 630.95,395.05 631.90,398.70 C632.85,402.35 633.65,406.85 634.20,410.40 C634.75,413.95 634.77,415.67 635.20,420.00 C635.63,424.33 636.25,430.10 636.80,436.40 C637.35,442.70 637.27,452.58 638.50,457.80 C639.73,463.02 641.33,464.42 644.20,467.70 C647.07,470.98 651.03,474.22 655.70,477.50 C660.37,480.78 667.27,484.38 672.20,487.40 C677.13,490.42 681.60,492.73 685.30,495.60 C689.00,498.47 692.62,502.70 694.40,504.60 C696.18,506.50 695.73,506.60 696.00,507.00" fill="none" stroke="#f98e52" stroke-width="1.6" stroke-linecap="butt" stroke-linejoin="round"/>
<path d="M515.30,287.50 C509.45,290.48 490.23,301.30 480.20,305.40 C470.17,309.50 461.23,309.60 455.10,312.10 C448.97,314.60 445.07,318.45 443.40,320.40 C441.73,322.35 443.42,322.12 445.10,323.80 C446.78,325.48 450.72,328.28 453.50,330.50 C456.28,332.72 459.58,334.60 461.80,337.10 C464.02,339.60 463.73,342.93 466.80,345.50 C469.87,348.07 470.50,350.58 480.20,352.50 C489.90,354.42 512.52,355.75 525.00,357.00 C537.48,358.25 542.10,358.58 555.10,360.00 C568.10,361.42 593.43,363.92 603.00,365.50 C612.57,367.08 609.75,368.10 612.50,369.50 C615.25,370.90 617.40,371.85 619.50,373.90 C621.60,375.95 623.60,379.37 625.10,381.80 C626.60,384.23 627.37,385.68 628.50,388.50 C629.63,391.32 630.95,395.05 631.90,398.70 C632.85,402.35 633.65,406.85 634.20,410.40 C634.75,413.95 634.77,415.67 635.20,420.00 C635.63,424.33 636.25,430.10 636.80,436.40 C637.35,442.70 637.27,452.58 638.50,457.80 C639.73,463.02 641.33,464.42 644.20,467.70 C647.07,470.98 651.03,474.22 655.70,477.50 C660.37,480.78 667.27,484.38 672.20,487.40 C677.13,490.42 681.60,492.73 685.30,495.60 C689.00,498.47 692.62,502.70 694.40,504.60 C696.18,506.50 695.73,506.60 696.00,507.00" fill="none" stroke="#e95c47" stroke-width="1.6" stroke-linecap="butt" stroke-linejoin="round"/>
<path d="M517.00,287.50 C510.87,290.90 491.07,302.97 480.20,307.90 C469.33,312.83 456.95,314.73 451.80,317.10 C446.65,319.47 448.75,320.15 449.30,322.10 C449.85,324.05 451.90,326.02 455.10,328.80 C458.30,331.58 465.70,336.05 468.50,338.80 C471.30,341.55 468.55,343.43 471.90,345.30 C475.25,347.17 479.75,348.63 488.60,350.00 C497.45,351.37 513.93,352.33 525.00,353.50 C536.07,354.67 542.00,355.00 555.00,357.00 C568.00,359.00 593.42,363.42 603.00,365.50 C612.58,367.58 609.75,368.10 612.50,369.50 C615.25,370.90 617.40,371.85 619.50,373.90 C621.60,375.95 623.60,379.37 625.10,381.80 C626.60,384.23 627.37,385.68 628.50,388.50 C629.63,391.32 630.95,395.05 631.90,398.70 C632.85,402.35 633.65,406.85 634.20,410.40 C634.75,413.95 634.77,415.67 635.20,420.00 C635.63,424.33 636.25,430.10 636.80,436.40 C637.35,442.70 637.27,452.58 638.50,457.80 C639.73,463.02 641.33,464.42 644.20,467.70 C647.07,470.98 651.03,474.22 655.70,477.50 C660.37,480.78 667.27,484.38 672.20,487.40 C677.13,490.42 681.60,492.73 685.30,495.60 C689.00,498.47 692.62,502.70 694.40,504.60 C696.18,506.50 695.73,506.60 696.00,507.00" fill="none" stroke="#cb334d" stroke-width="1.6" stroke-linecap="butt" stroke-linejoin="round"/>
<path d="M518.00,287.50 C511.98,291.32 492.10,305.18 481.90,310.40 C471.70,315.62 461.27,316.57 456.80,318.80 C452.33,321.03 454.27,321.85 455.10,323.80 C455.93,325.75 459.00,328.00 461.80,330.50 C464.60,333.00 468.83,336.33 471.90,338.80 C474.97,341.27 471.35,343.43 480.20,345.30 C489.05,347.17 512.52,348.55 525.00,350.00 C537.48,351.45 544.50,352.33 555.10,354.00 C565.70,355.67 580.62,358.08 588.60,360.00 C596.58,361.92 599.02,363.92 603.00,365.50 C606.98,367.08 609.75,368.10 612.50,369.50 C615.25,370.90 617.40,371.85 619.50,373.90 C621.60,375.95 623.60,379.37 625.10,381.80 C626.60,384.23 627.37,385.68 628.50,388.50 C629.63,391.32 630.95,395.05 631.90,398.70 C632.85,402.35 633.65,406.85 634.20,410.40 C634.75,413.95 634.77,415.67 635.20,420.00 C635.63,424.33 636.25,430.10 636.80,436.40 C637.35,442.70 637.27,452.58 638.50,457.80 C639.73,463.02 641.33,464.42 644.20,467.70 C647.07,470.98 651.03,474.22 655.70,477.50 C660.37,480.78 667.27,484.38 672.20,487.40 C677.13,490.42 681.60,492.73 685.30,495.60 C689.00,498.47 692.62,502.70 694.40,504.60 C696.18,506.50 695.73,506.60 696.00,507.00" fill="none" stroke="#9e0142" stroke-width="1.6" stroke-linecap="butt" stroke-linejoin="round"/>
<path d="M532.80,287.00 C534.77,290.67 539.80,300.53 544.60,309.00 C549.40,317.47 556.52,329.62 561.60,337.80 C566.68,345.98 569.53,353.57 575.10,358.10 C580.67,362.63 590.85,363.27 595.00,365.00 C599.15,366.73 597.33,367.25 600.00,368.50 C602.67,369.75 608.00,371.33 611.00,372.50 C614.00,373.67 616.58,375.27 618.00,375.50 C619.42,375.73 618.32,372.85 619.50,373.90 C620.68,374.95 623.60,379.37 625.10,381.80 C626.60,384.23 627.37,385.68 628.50,388.50 C629.63,391.32 630.95,395.05 631.90,398.70 C632.85,402.35 633.65,406.85 634.20,410.40 C634.75,413.95 634.77,415.67 635.20,420.00 C635.63,424.33 636.25,430.10 636.80,436.40 C637.35,442.70 637.27,452.58 638.50,457.80 C639.73,463.02 641.33,464.42 644.20,467.70 C647.07,470.98 651.03,474.22 655.70,477.50 C660.37,480.78 667.27,484.38 672.20,487.40 C677.13,490.42 681.60,492.73 685.30,495.60 C689.00,498.47 692.62,502.70 694.40,504.60 C696.18,506.50 695.73,506.60 696.00,507.00" fill="none" stroke="#eaf79e" stroke-width="1.6" stroke-linecap="butt" stroke-linejoin="round"/>
<path d="M566.80,287.00 C567.65,289.78 569.95,296.73 571.90,303.70 C573.85,310.67 576.00,321.00 578.50,328.80 C581.00,336.60 582.65,345.05 586.90,350.50 C591.15,355.95 599.88,358.73 604.00,361.50 C608.12,364.27 609.02,365.03 611.60,367.10 C614.18,369.17 617.25,371.45 619.50,373.90 C621.75,376.35 623.60,379.37 625.10,381.80 C626.60,384.23 627.37,385.68 628.50,388.50 C629.63,391.32 630.95,395.05 631.90,398.70 C632.85,402.35 633.65,406.85 634.20,410.40 C634.75,413.95 634.77,415.67 635.20,420.00 C635.63,424.33 636.25,430.10 636.80,436.40 C637.35,442.70 637.27,452.58 638.50,457.80 C639.73,463.02 641.33,464.42 644.20,467.70 C647.07,470.98 651.03,474.22 655.70,477.50 C660.37,480.78 667.27,484.38 672.20,487.40 C677.13,490.42 681.60,492.73 685.30,495.60 C689.00,498.47 692.62,502.70 694.40,504.60 C696.18,506.50 695.73,506.60 696.00,507.00" fill="none" stroke="#bfe5a0" stroke-width="1.6" stroke-linecap="butt" stroke-linejoin="round"/>
<path d="M585.20,287.00 C586.03,291.18 588.52,304.58 590.20,312.10 C591.88,319.62 593.00,323.87 595.30,332.10 C597.60,340.33 601.28,355.67 604.00,361.50 C606.72,367.33 609.02,365.03 611.60,367.10 C614.18,369.17 617.25,371.45 619.50,373.90 C621.75,376.35 623.60,379.37 625.10,381.80 C626.60,384.23 627.37,385.68 628.50,388.50 C629.63,391.32 630.95,395.05 631.90,398.70 C632.85,402.35 633.65,406.85 634.20,410.40 C634.75,413.95 634.77,415.67 635.20,420.00 C635.63,424.33 636.25,430.10 636.80,436.40 C637.35,442.70 637.27,452.58 638.50,457.80 C639.73,463.02 641.33,464.42 644.20,467.70 C647.07,470.98 651.03,474.22 655.70,477.50 C660.37,480.78 667.27,484.38 672.20,487.40 C677.13,490.42 681.60,492.73 685.30,495.60 C689.00,498.47 692.62,502.70 694.40,504.60 C696.18,506.50 695.73,506.60 696.00,507.00" fill="none" stroke="#86cfa5" stroke-width="1.6" stroke-linecap="butt" stroke-linejoin="round"/>
<path d="M516.70,287.50 C516.57,288.82 515.07,292.98 515.90,295.40 C516.73,297.82 517.95,299.78 521.70,302.00 C525.45,304.22 532.83,306.75 538.40,308.70 C543.97,310.65 550.08,311.47 555.10,313.70 C560.12,315.93 565.15,318.75 568.50,322.10 C571.85,325.45 572.68,329.90 575.20,333.80 C577.72,337.70 580.53,342.15 583.60,345.50 C586.67,348.85 590.20,351.23 593.60,353.90 C597.00,356.57 601.00,359.30 604.00,361.50 C607.00,363.70 609.02,365.03 611.60,367.10 C614.18,369.17 617.25,371.45 619.50,373.90 C621.75,376.35 623.60,379.37 625.10,381.80 C626.60,384.23 627.37,385.68 628.50,388.50 C629.63,391.32 630.95,395.05 631.90,398.70 C632.85,402.35 633.65,406.85 634.20,410.40 C634.75,413.95 634.77,415.67 635.20,420.00 C635.63,424.33 636.25,430.10 636.80,436.40 C637.35,442.70 637.27,452.58 638.50,457.80 C639.73,463.02 641.33,464.42 644.20,467.70 C647.07,470.98 651.03,474.22 655.70,477.50 C660.37,480.78 667.27,484.38 672.20,487.40 C677.13,490.42 681.60,492.73 685.30,495.60 C689.00,498.47 692.62,502.70 694.40,504.60 C696.18,506.50 695.73,506.60 696.00,507.00" fill="none" stroke="#54aead" stroke-width="1.6" stroke-linecap="butt" stroke-linejoin="round"/>
<path d="M513.60,287.50 C509.43,290.48 495.00,300.75 488.60,305.40 C482.20,310.05 477.72,313.17 475.20,315.40 C472.68,317.63 473.22,317.68 473.50,318.80 C473.78,319.92 473.00,320.72 476.90,322.10 C480.80,323.48 488.88,325.15 496.90,327.10 C504.92,329.05 518.08,332.13 525.00,333.80 C531.92,335.47 531.98,335.43 538.40,337.10 C544.82,338.77 555.70,341.28 563.50,343.80 C571.30,346.32 578.45,349.25 585.20,352.20 C591.95,355.15 599.60,359.02 604.00,361.50 C608.40,363.98 609.02,365.03 611.60,367.10 C614.18,369.17 617.25,371.45 619.50,373.90 C621.75,376.35 623.60,379.37 625.10,381.80 C626.60,384.23 627.37,385.68 628.50,388.50 C629.63,391.32 630.95,395.05 631.90,398.70 C632.85,402.35 633.65,406.85 634.20,410.40 C634.75,413.95 634.77,415.67 635.20,420.00 C635.63,424.33 636.25,430.10 636.80,436.40 C637.35,442.70 637.27,452.58 638.50,457.80 C639.73,463.02 641.33,464.42 644.20,467.70 C647.07,470.98 651.03,474.22 655.70,477.50 C660.37,480.78 667.27,484.38 672.20,487.40 C677.13,490.42 681.60,492.73 685.30,495.60 C689.00,498.47 692.62,502.70 694.40,504.60 C696.18,506.50 695.73,506.60 696.00,507.00" fill="none" stroke="#3a7eb8" stroke-width="1.6" stroke-linecap="butt" stroke-linejoin="round"/>
<path d="M515.30,287.50 C510.85,290.20 496.95,298.77 488.60,303.70 C480.25,308.63 469.93,313.90 465.20,317.10 C460.47,320.30 460.20,320.67 460.20,322.90 C460.20,325.13 461.87,328.13 465.20,330.50 C468.53,332.87 473.52,334.85 480.20,337.10 C486.88,339.35 497.83,342.43 505.30,344.00 C512.77,345.57 518.08,345.63 525.00,346.50 C531.92,347.37 537.60,347.70 546.80,349.20 C556.00,350.70 570.67,353.45 580.20,355.50 C589.73,357.55 598.77,359.57 604.00,361.50 C609.23,363.43 609.02,365.03 611.60,367.10 C614.18,369.17 617.25,371.45 619.50,373.90 C621.75,376.35 623.60,379.37 625.10,381.80 C626.60,384.23 627.37,385.68 628.50,388.50 C629.63,391.32 630.95,395.05 631.90,398.70 C632.85,402.35 633.65,406.85 634.20,410.40 C634.75,413.95 634.77,415.67 635.20,420.00 C635.63,424.33 636.25,430.10 636.80,436.40 C637.35,442.70 637.27,452.58 638.50,457.80 C639.73,463.02 641.33,464.42 644.20,467.70 C647.07,470.98 651.03,474.22 655.70,477.50 C660.37,480.78 667.27,484.38 672.20,487.40 C677.13,490.42 681.60,492.73 685.30,495.60 C689.00,498.47 692.62,502.70 694.40,504.60 C696.18,506.50 695.73,506.60 696.00,507.00" fill="none" stroke="#5e4fa2" stroke-width="1.6" stroke-linecap="butt" stroke-linejoin="round"/>
<path d="M496.77,287.13 C489.78,288.96 467.66,295.21 454.80,298.12 C441.94,301.03 425.68,301.42 419.59,304.60 C413.51,307.78 417.82,311.74 418.31,317.20 C418.79,322.65 421.26,331.98 422.52,337.31 C423.79,342.64 424.65,346.54 425.88,349.17 C427.11,351.79 425.04,351.87 429.89,353.08 C434.75,354.28 439.18,354.93 455.02,356.40 C470.86,357.87 508.28,360.65 524.93,361.90 C541.58,363.15 542.42,362.65 554.91,363.90 C567.40,365.14 590.56,367.81 599.85,369.39 C609.14,370.96 607.67,372.17 610.67,373.34 C613.67,374.51 616.27,376.19 617.85,376.39 C619.43,376.58 619.77,374.83 620.16,374.52" fill="none" stroke="#fdbf6f" stroke-width="1.7" stroke-linecap="butt" stroke-linejoin="round" stroke-dasharray="4.4,1.9"/>
<path d="M449.55,287.71 C453.18,290.50 463.54,298.27 471.34,304.41 C479.15,310.54 487.50,318.10 496.37,324.53 C505.24,330.96 514.84,337.60 524.56,342.99 C534.28,348.37 543.82,352.87 554.69,356.85 C565.56,360.83 582.25,364.78 589.76,366.87 C597.27,368.95 596.25,368.28 599.73,369.36 C603.22,370.44 607.65,372.17 610.67,373.34 C613.69,374.51 616.27,376.19 617.85,376.39 C619.43,376.58 619.77,374.83 620.16,374.52" fill="none" stroke="#ffffbe" stroke-width="1.7" stroke-linecap="butt" stroke-linejoin="round" stroke-dasharray="4.4,1.9"/>
<path d="M512.40,286.83 C511.55,287.60 508.69,289.76 507.31,291.42 C505.93,293.08 504.49,294.63 504.12,296.81 C503.75,298.99 500.83,302.39 505.12,304.52 C509.41,306.64 522.13,307.33 529.85,309.56 C537.57,311.80 545.07,314.88 551.41,317.91 C557.76,320.95 564.07,324.49 567.92,327.78 C571.76,331.07 571.70,334.03 574.49,337.65 C577.27,341.27 579.78,345.39 584.62,349.49 C589.45,353.59 599.08,359.19 603.49,362.24 C607.89,365.29 608.47,365.75 611.04,367.80 C613.61,369.86 617.60,373.45 618.91,374.58" fill="none" stroke="#54aead" stroke-width="1.7" stroke-linecap="butt" stroke-linejoin="round" stroke-dasharray="4.4,1.9"/>
<path d="M484.68,287.54 C488.92,293.20 501.64,312.16 510.13,321.51 C518.63,330.85 527.15,337.39 535.67,343.63 C544.19,349.86 552.24,355.23 561.26,358.93 C570.27,362.64 583.36,364.13 589.76,365.87 C596.17,367.60 596.21,368.10 599.70,369.35 C603.18,370.59 607.65,372.17 610.67,373.34 C613.70,374.51 616.27,376.19 617.85,376.39 C619.43,376.58 619.77,374.83 620.16,374.52" fill="none" stroke="#fee593" stroke-width="1.7" stroke-linecap="butt" stroke-linejoin="round" stroke-dasharray="4.4,1.9"/>
<path d="M540.36,287.33 C540.83,288.50 540.89,288.68 543.16,294.34 C545.43,299.99 549.91,312.54 553.98,321.28 C558.06,330.02 561.70,339.88 567.62,346.79 C573.53,353.69 584.15,358.98 589.48,362.74 C594.81,366.49 596.07,367.54 599.60,369.30 C603.13,371.07 607.63,372.16 610.67,373.34 C613.72,374.52 616.27,376.19 617.85,376.39 C619.43,376.58 619.77,374.83 620.16,374.52" fill="none" stroke="#eaf79e" stroke-width="1.7" stroke-linecap="butt" stroke-linejoin="round" stroke-dasharray="4.4,1.9"/>
<path d="M514.83,287.73 C510.38,290.43 496.50,298.99 488.14,303.93 C479.78,308.86 469.32,314.02 464.68,317.36 C460.04,320.70 460.14,321.49 460.30,323.97 C460.47,326.45 462.24,329.73 465.68,332.23 C469.12,334.73 474.20,336.99 480.95,338.96 C487.70,340.94 495.21,342.40 506.16,344.09 C517.11,345.78 534.35,347.14 546.66,349.09 C558.96,351.04 570.49,353.57 580.00,355.78 C589.50,357.98 598.50,360.33 603.67,362.34 C608.85,364.34 608.50,365.76 611.04,367.80 C613.58,369.84 617.60,373.45 618.91,374.58" fill="none" stroke="#5e4fa2" stroke-width="1.7" stroke-linecap="butt" stroke-linejoin="round" stroke-dasharray="4.4,1.9"/>
<path d="M513.08,287.77 C508.91,290.75 494.31,301.02 488.06,305.68 C481.81,310.34 477.99,313.36 475.58,315.75 C473.17,318.14 473.29,318.65 473.63,320.02 C473.96,321.39 473.59,322.46 477.60,323.95 C481.61,325.44 487.59,326.47 497.68,328.97 C507.78,331.48 523.62,334.79 538.15,338.96 C552.69,343.14 573.99,350.16 584.90,354.05 C595.80,357.94 599.22,360.00 603.58,362.30 C607.94,364.59 608.48,365.76 611.04,367.80 C613.59,369.85 617.60,373.45 618.91,374.58" fill="none" stroke="#3a7eb8" stroke-width="1.7" stroke-linecap="butt" stroke-linejoin="round" stroke-dasharray="4.4,1.9"/>
<path d="M568.14,287.26 C568.97,290.04 571.30,296.96 573.13,303.93 C574.96,310.90 576.78,321.21 579.14,329.06 C581.50,336.91 583.22,345.50 587.27,351.03 C591.33,356.56 599.52,359.44 603.48,362.24 C607.44,365.03 608.47,365.75 611.04,367.80 C613.61,369.86 617.60,373.45 618.91,374.58" fill="none" stroke="#bfe5a0" stroke-width="1.7" stroke-linecap="butt" stroke-linejoin="round" stroke-dasharray="4.4,1.9"/>
<path d="M611.60,367.10 C612.92,368.23 617.25,371.45 619.50,373.90 C621.75,376.35 623.60,379.37 625.10,381.80 C626.60,384.23 627.37,385.68 628.50,388.50 C629.63,391.32 630.95,395.05 631.90,398.70 C632.85,402.35 633.65,406.85 634.20,410.40 C634.75,413.95 634.77,415.67 635.20,420.00 C635.63,424.33 636.25,430.10 636.80,436.40 C637.35,442.70 637.27,452.58 638.50,457.80 C639.73,463.02 641.33,464.42 644.20,467.70 C647.07,470.98 651.03,474.22 655.70,477.50 C660.37,480.78 667.27,484.38 672.20,487.40 C677.13,490.42 681.60,492.73 685.30,495.60 C689.00,498.47 692.62,502.70 694.40,504.60 C696.18,506.50 695.73,506.60 696.00,507.00" fill="none" stroke="#4a4aa6" stroke-width="1.7" stroke-linecap="butt" stroke-linejoin="round"/>
<path d="M611.60,367.10 C612.92,368.23 617.25,371.45 619.50,373.90 C621.75,376.35 623.60,379.37 625.10,381.80 C626.60,384.23 627.37,385.68 628.50,388.50 C629.63,391.32 630.95,395.05 631.90,398.70 C632.85,402.35 633.65,406.85 634.20,410.40 C634.75,413.95 634.77,415.67 635.20,420.00 C635.63,424.33 636.25,430.10 636.80,436.40 C637.35,442.70 637.27,452.58 638.50,457.80 C639.73,463.02 641.33,464.42 644.20,467.70 C647.07,470.98 651.03,474.22 655.70,477.50 C660.37,480.78 667.27,484.38 672.20,487.40 C677.13,490.42 681.60,492.73 685.30,495.60 C689.00,498.47 692.62,502.70 694.40,504.60 C696.18,506.50 695.73,506.60 696.00,507.00" fill="none" stroke="#ffffff" stroke-width="1.7" stroke-linecap="butt" stroke-linejoin="round" stroke-dasharray="0.6,5.7" stroke-opacity="0.5"/>
</g>
<line x1="659.1" y1="298.10" x2="675.1" y2="298.10" stroke="#9e0142" stroke-width="1.1"/>
<text x="681.7" y="300.70" font-size="9.0">3</text>
<circle cx="688.50" cy="295.70" r="0.75" fill="none" stroke="#222" stroke-width="0.65"/>
<line x1="659.1" y1="309.73" x2="675.1" y2="309.73" stroke="#cb334d" stroke-width="1.1"/>
<text x="681.7" y="312.33" font-size="9.0">31</text>
<circle cx="693.51" cy="307.33" r="0.75" fill="none" stroke="#222" stroke-width="0.65"/>
<line x1="659.1" y1="321.36" x2="675.1" y2="321.36" stroke="#e95c47" stroke-width="1.1"/>
<text x="681.7" y="323.96" font-size="9.0">59</text>
<circle cx="693.51" cy="318.96" r="0.75" fill="none" stroke="#222" stroke-width="0.65"/>
<line x1="659.1" y1="332.99" x2="675.1" y2="332.99" stroke="#f98e52" stroke-width="1.1"/>
<text x="681.7" y="335.59" font-size="9.0">87</text>
<circle cx="693.51" cy="330.59" r="0.75" fill="none" stroke="#222" stroke-width="0.65"/>
<line x1="659.1" y1="344.62" x2="675.1" y2="344.62" stroke="#fdbf6f" stroke-width="1.1"/>
<text x="681.7" y="347.22" font-size="9.0">115</text>
<circle cx="698.51" cy="342.22" r="0.75" fill="none" stroke="#222" stroke-width="0.65"/>
<line x1="659.1" y1="356.25" x2="675.1" y2="356.25" stroke="#fee593" stroke-width="1.1"/>
<text x="681.7" y="358.85" font-size="9.0">143</text>
<circle cx="698.51" cy="353.85" r="0.75" fill="none" stroke="#222" stroke-width="0.65"/>
<line x1="659.1" y1="367.88" x2="675.1" y2="367.88" stroke="#ffffbe" stroke-width="1.1"/>
<text x="681.7" y="370.48" font-size="9.0">172</text>
<circle cx="698.51" cy="365.48" r="0.75" fill="none" stroke="#222" stroke-width="0.65"/>
<line x1="659.1" y1="379.51" x2="675.1" y2="379.51" stroke="#eaf79e" stroke-width="1.1"/>
<text x="681.7" y="382.11" font-size="9.0">200</text>
<circle cx="698.51" cy="377.11" r="0.75" fill="none" stroke="#222" stroke-width="0.65"/>
<line x1="659.1" y1="391.14" x2="675.1" y2="391.14" stroke="#bfe5a0" stroke-width="1.1"/>
<text x="681.7" y="393.74" font-size="9.0">228</text>
<circle cx="698.51" cy="388.74" r="0.75" fill="none" stroke="#222" stroke-width="0.65"/>
<line x1="659.1" y1="402.77" x2="675.1" y2="402.77" stroke="#86cfa5" stroke-width="1.1"/>
<text x="681.7" y="405.37" font-size="9.0">256</text>
<circle cx="698.51" cy="400.37" r="0.75" fill="none" stroke="#222" stroke-width="0.65"/>
<line x1="659.1" y1="414.40" x2="675.1" y2="414.40" stroke="#54aead" stroke-width="1.1"/>
<text x="681.7" y="417.00" font-size="9.0">284</text>
<circle cx="698.51" cy="412.00" r="0.75" fill="none" stroke="#222" stroke-width="0.65"/>
<line x1="659.1" y1="426.03" x2="675.1" y2="426.03" stroke="#3a7eb8" stroke-width="1.1"/>
<text x="681.7" y="428.63" font-size="9.0">312</text>
<circle cx="698.51" cy="423.63" r="0.75" fill="none" stroke="#222" stroke-width="0.65"/>
<line x1="659.1" y1="437.66" x2="675.1" y2="437.66" stroke="#5e4fa2" stroke-width="1.1"/>
<text x="681.7" y="440.26" font-size="9.0">340</text>
<circle cx="698.51" cy="435.26" r="0.75" fill="none" stroke="#222" stroke-width="0.65"/>
<line x1="405.40" y1="505.2" x2="405.40" y2="508.0" stroke="#262626" stroke-width="0.63"/>
<text x="405.40" y="517.00" font-size="8.8" text-anchor="middle"><tspan letter-spacing="0.3">10</tspan><tspan font-size="6.34" dy="-3.1">−14</tspan></text>
<line x1="414.49" y1="505.2" x2="414.49" y2="506.8" stroke="#262626" stroke-width="0.5"/>
<line x1="419.81" y1="505.2" x2="419.81" y2="506.8" stroke="#262626" stroke-width="0.5"/>
<line x1="423.58" y1="505.2" x2="423.58" y2="506.8" stroke="#262626" stroke-width="0.5"/>
<line x1="426.51" y1="505.2" x2="426.51" y2="506.8" stroke="#262626" stroke-width="0.5"/>
<line x1="428.90" y1="505.2" x2="428.90" y2="506.8" stroke="#262626" stroke-width="0.5"/>
<line x1="430.92" y1="505.2" x2="430.92" y2="506.8" stroke="#262626" stroke-width="0.5"/>
<line x1="432.67" y1="505.2" x2="432.67" y2="506.8" stroke="#262626" stroke-width="0.5"/>
<line x1="434.22" y1="505.2" x2="434.22" y2="506.8" stroke="#262626" stroke-width="0.5"/>
<line x1="435.60" y1="505.2" x2="435.60" y2="506.8" stroke="#262626" stroke-width="0.5"/>
<line x1="444.69" y1="505.2" x2="444.69" y2="506.8" stroke="#262626" stroke-width="0.5"/>
<line x1="450.01" y1="505.2" x2="450.01" y2="506.8" stroke="#262626" stroke-width="0.5"/>
<line x1="453.78" y1="505.2" x2="453.78" y2="506.8" stroke="#262626" stroke-width="0.5"/>
<line x1="456.71" y1="505.2" x2="456.71" y2="506.8" stroke="#262626" stroke-width="0.5"/>
<line x1="459.10" y1="505.2" x2="459.10" y2="506.8" stroke="#262626" stroke-width="0.5"/>
<line x1="461.12" y1="505.2" x2="461.12" y2="506.8" stroke="#262626" stroke-width="0.5"/>
<line x1="462.87" y1="505.2" x2="462.87" y2="506.8" stroke="#262626" stroke-width="0.5"/>
<line x1="464.42" y1="505.2" x2="464.42" y2="506.8" stroke="#262626" stroke-width="0.5"/>
<line x1="465.80" y1="505.2" x2="465.80" y2="508.0" stroke="#262626" stroke-width="0.63"/>
<text x="465.80" y="517.00" font-size="8.8" text-anchor="middle"><tspan letter-spacing="0.3">10</tspan><tspan font-size="6.34" dy="-3.1">−12</tspan></text>
<line x1="474.89" y1="505.2" x2="474.89" y2="506.8" stroke="#262626" stroke-width="0.5"/>
<line x1="480.21" y1="505.2" x2="480.21" y2="506.8" stroke="#262626" stroke-width="0.5"/>
<line x1="483.98" y1="505.2" x2="483.98" y2="506.8" stroke="#262626" stroke-width="0.5"/>
<line x1="486.91" y1="505.2" x2="486.91" y2="506.8" stroke="#262626" stroke-width="0.5"/>
<line x1="489.30" y1="505.2" x2="489.30" y2="506.8" stroke="#262626" stroke-width="0.5"/>
<line x1="491.32" y1="505.2" x2="491.32" y2="506.8" stroke="#262626" stroke-width="0.5"/>
<line x1="493.07" y1="505.2" x2="493.07" y2="506.8" stroke="#262626" stroke-width="0.5"/>
<line x1="494.62" y1="505.2" x2="494.62" y2="506.8" stroke="#262626" stroke-width="0.5"/>
<line x1="496.00" y1="505.2" x2="496.00" y2="506.8" stroke="#262626" stroke-width="0.5"/>
<line x1="505.09" y1="505.2" x2="505.09" y2="506.8" stroke="#262626" stroke-width="0.5"/>
<line x1="510.41" y1="505.2" x2="510.41" y2="506.8" stroke="#262626" stroke-width="0.5"/>
<line x1="514.18" y1="505.2" x2="514.18" y2="506.8" stroke="#262626" stroke-width="0.5"/>
<line x1="517.11" y1="505.2" x2="517.11" y2="506.8" stroke="#262626" stroke-width="0.5"/>
<line x1="519.50" y1="505.2" x2="519.50" y2="506.8" stroke="#262626" stroke-width="0.5"/>
<line x1="521.52" y1="505.2" x2="521.52" y2="506.8" stroke="#262626" stroke-width="0.5"/>
<line x1="523.27" y1="505.2" x2="523.27" y2="506.8" stroke="#262626" stroke-width="0.5"/>
<line x1="524.82" y1="505.2" x2="524.82" y2="506.8" stroke="#262626" stroke-width="0.5"/>
<line x1="526.20" y1="505.2" x2="526.20" y2="508.0" stroke="#262626" stroke-width="0.63"/>
<text x="526.20" y="517.00" font-size="8.8" text-anchor="middle"><tspan letter-spacing="0.3">10</tspan><tspan font-size="6.34" dy="-3.1">−10</tspan></text>
<line x1="535.29" y1="505.2" x2="535.29" y2="506.8" stroke="#262626" stroke-width="0.5"/>
<line x1="540.61" y1="505.2" x2="540.61" y2="506.8" stroke="#262626" stroke-width="0.5"/>
<line x1="544.38" y1="505.2" x2="544.38" y2="506.8" stroke="#262626" stroke-width="0.5"/>
<line x1="547.31" y1="505.2" x2="547.31" y2="506.8" stroke="#262626" stroke-width="0.5"/>
<line x1="549.70" y1="505.2" x2="549.70" y2="506.8" stroke="#262626" stroke-width="0.5"/>
<line x1="551.72" y1="505.2" x2="551.72" y2="506.8" stroke="#262626" stroke-width="0.5"/>
<line x1="553.47" y1="505.2" x2="553.47" y2="506.8" stroke="#262626" stroke-width="0.5"/>
<line x1="555.02" y1="505.2" x2="555.02" y2="506.8" stroke="#262626" stroke-width="0.5"/>
<line x1="556.40" y1="505.2" x2="556.40" y2="506.8" stroke="#262626" stroke-width="0.5"/>
<line x1="565.49" y1="505.2" x2="565.49" y2="506.8" stroke="#262626" stroke-width="0.5"/>
<line x1="570.81" y1="505.2" x2="570.81" y2="506.8" stroke="#262626" stroke-width="0.5"/>
<line x1="574.58" y1="505.2" x2="574.58" y2="506.8" stroke="#262626" stroke-width="0.5"/>
<line x1="577.51" y1="505.2" x2="577.51" y2="506.8" stroke="#262626" stroke-width="0.5"/>
<line x1="579.90" y1="505.2" x2="579.90" y2="506.8" stroke="#262626" stroke-width="0.5"/>
<line x1="581.92" y1="505.2" x2="581.92" y2="506.8" stroke="#262626" stroke-width="0.5"/>
<line x1="583.67" y1="505.2" x2="583.67" y2="506.8" stroke="#262626" stroke-width="0.5"/>
<line x1="585.22" y1="505.2" x2="585.22" y2="506.8" stroke="#262626" stroke-width="0.5"/>
<line x1="586.60" y1="505.2" x2="586.60" y2="508.0" stroke="#262626" stroke-width="0.63"/>
<text x="586.60" y="517.00" font-size="8.8" text-anchor="middle"><tspan letter-spacing="0.3">10</tspan><tspan font-size="6.34" dy="-3.1">−8</tspan></text>
<line x1="595.69" y1="505.2" x2="595.69" y2="506.8" stroke="#262626" stroke-width="0.5"/>
<line x1="601.01" y1="505.2" x2="601.01" y2="506.8" stroke="#262626" stroke-width="0.5"/>
<line x1="604.78" y1="505.2" x2="604.78" y2="506.8" stroke="#262626" stroke-width="0.5"/>
<line x1="607.71" y1="505.2" x2="607.71" y2="506.8" stroke="#262626" stroke-width="0.5"/>
<line x1="610.10" y1="505.2" x2="610.10" y2="506.8" stroke="#262626" stroke-width="0.5"/>
<line x1="612.12" y1="505.2" x2="612.12" y2="506.8" stroke="#262626" stroke-width="0.5"/>
<line x1="613.87" y1="505.2" x2="613.87" y2="506.8" stroke="#262626" stroke-width="0.5"/>
<line x1="615.42" y1="505.2" x2="615.42" y2="506.8" stroke="#262626" stroke-width="0.5"/>
<line x1="616.80" y1="505.2" x2="616.80" y2="506.8" stroke="#262626" stroke-width="0.5"/>
<line x1="625.89" y1="505.2" x2="625.89" y2="506.8" stroke="#262626" stroke-width="0.5"/>
<line x1="631.21" y1="505.2" x2="631.21" y2="506.8" stroke="#262626" stroke-width="0.5"/>
<line x1="634.98" y1="505.2" x2="634.98" y2="506.8" stroke="#262626" stroke-width="0.5"/>
<line x1="637.91" y1="505.2" x2="637.91" y2="506.8" stroke="#262626" stroke-width="0.5"/>
<line x1="640.30" y1="505.2" x2="640.30" y2="506.8" stroke="#262626" stroke-width="0.5"/>
<line x1="642.32" y1="505.2" x2="642.32" y2="506.8" stroke="#262626" stroke-width="0.5"/>
<line x1="644.07" y1="505.2" x2="644.07" y2="506.8" stroke="#262626" stroke-width="0.5"/>
<line x1="645.62" y1="505.2" x2="645.62" y2="506.8" stroke="#262626" stroke-width="0.5"/>
<line x1="647.00" y1="505.2" x2="647.00" y2="508.0" stroke="#262626" stroke-width="0.63"/>
<text x="647.00" y="517.00" font-size="8.8" text-anchor="middle"><tspan letter-spacing="0.3">10</tspan><tspan font-size="6.34" dy="-3.1">−6</tspan></text>
<line x1="656.09" y1="505.2" x2="656.09" y2="506.8" stroke="#262626" stroke-width="0.5"/>
<line x1="661.41" y1="505.2" x2="661.41" y2="506.8" stroke="#262626" stroke-width="0.5"/>
<line x1="665.18" y1="505.2" x2="665.18" y2="506.8" stroke="#262626" stroke-width="0.5"/>
<line x1="668.11" y1="505.2" x2="668.11" y2="506.8" stroke="#262626" stroke-width="0.5"/>
<line x1="670.50" y1="505.2" x2="670.50" y2="506.8" stroke="#262626" stroke-width="0.5"/>
<line x1="672.52" y1="505.2" x2="672.52" y2="506.8" stroke="#262626" stroke-width="0.5"/>
<line x1="674.27" y1="505.2" x2="674.27" y2="506.8" stroke="#262626" stroke-width="0.5"/>
<line x1="675.82" y1="505.2" x2="675.82" y2="506.8" stroke="#262626" stroke-width="0.5"/>
<line x1="677.20" y1="505.2" x2="677.20" y2="506.8" stroke="#262626" stroke-width="0.5"/>
<line x1="686.29" y1="505.2" x2="686.29" y2="506.8" stroke="#262626" stroke-width="0.5"/>
<line x1="691.61" y1="505.2" x2="691.61" y2="506.8" stroke="#262626" stroke-width="0.5"/>
<line x1="695.38" y1="505.2" x2="695.38" y2="506.8" stroke="#262626" stroke-width="0.5"/>
<line x1="698.31" y1="505.2" x2="698.31" y2="506.8" stroke="#262626" stroke-width="0.5"/>
<line x1="700.70" y1="505.2" x2="700.70" y2="506.8" stroke="#262626" stroke-width="0.5"/>
<line x1="702.72" y1="505.2" x2="702.72" y2="506.8" stroke="#262626" stroke-width="0.5"/>
<line x1="704.47" y1="505.2" x2="704.47" y2="506.8" stroke="#262626" stroke-width="0.5"/>
<line x1="706.02" y1="505.2" x2="706.02" y2="506.8" stroke="#262626" stroke-width="0.5"/>
<line x1="707.40" y1="505.2" x2="707.40" y2="508.0" stroke="#262626" stroke-width="0.63"/>
<text x="707.40" y="517.00" font-size="8.8" text-anchor="middle"><tspan letter-spacing="0.3">10</tspan><tspan font-size="6.34" dy="-3.1">−4</tspan></text>
<line x1="405.4" y1="287.90" x2="403.79999999999995" y2="287.90" stroke="#262626" stroke-width="0.5"/>
<line x1="405.4" y1="295.17" x2="403.79999999999995" y2="295.17" stroke="#262626" stroke-width="0.5"/>
<line x1="405.4" y1="299.42" x2="403.79999999999995" y2="299.42" stroke="#262626" stroke-width="0.5"/>
<line x1="405.4" y1="302.44" x2="403.79999999999995" y2="302.44" stroke="#262626" stroke-width="0.5"/>
<line x1="405.4" y1="304.78" x2="403.79999999999995" y2="304.78" stroke="#262626" stroke-width="0.5"/>
<line x1="405.4" y1="306.69" x2="403.79999999999995" y2="306.69" stroke="#262626" stroke-width="0.5"/>
<line x1="405.4" y1="308.30" x2="403.79999999999995" y2="308.30" stroke="#262626" stroke-width="0.5"/>
<line x1="405.4" y1="309.70" x2="403.79999999999995" y2="309.70" stroke="#262626" stroke-width="0.5"/>
<line x1="405.4" y1="310.94" x2="403.79999999999995" y2="310.94" stroke="#262626" stroke-width="0.5"/>
<line x1="405.4" y1="312.04" x2="402.59999999999997" y2="312.04" stroke="#262626" stroke-width="0.63"/>
<text x="399.60" y="315.14" font-size="8.8" text-anchor="end"><tspan letter-spacing="0.3">10</tspan><tspan font-size="6.34" dy="-3.1">−6</tspan></text>
<line x1="405.4" y1="319.31" x2="403.79999999999995" y2="319.31" stroke="#262626" stroke-width="0.5"/>
<line x1="405.4" y1="323.56" x2="403.79999999999995" y2="323.56" stroke="#262626" stroke-width="0.5"/>
<line x1="405.4" y1="326.58" x2="403.79999999999995" y2="326.58" stroke="#262626" stroke-width="0.5"/>
<line x1="405.4" y1="328.92" x2="403.79999999999995" y2="328.92" stroke="#262626" stroke-width="0.5"/>
<line x1="405.4" y1="330.83" x2="403.79999999999995" y2="330.83" stroke="#262626" stroke-width="0.5"/>
<line x1="405.4" y1="332.45" x2="403.79999999999995" y2="332.45" stroke="#262626" stroke-width="0.5"/>
<line x1="405.4" y1="333.85" x2="403.79999999999995" y2="333.85" stroke="#262626" stroke-width="0.5"/>
<line x1="405.4" y1="335.08" x2="403.79999999999995" y2="335.08" stroke="#262626" stroke-width="0.5"/>
<line x1="405.4" y1="336.19" x2="403.79999999999995" y2="336.19" stroke="#262626" stroke-width="0.5"/>
<line x1="405.4" y1="343.46" x2="403.79999999999995" y2="343.46" stroke="#262626" stroke-width="0.5"/>
<line x1="405.4" y1="347.71" x2="403.79999999999995" y2="347.71" stroke="#262626" stroke-width="0.5"/>
<line x1="405.4" y1="350.73" x2="403.79999999999995" y2="350.73" stroke="#262626" stroke-width="0.5"/>
<line x1="405.4" y1="353.07" x2="403.79999999999995" y2="353.07" stroke="#262626" stroke-width="0.5"/>
<line x1="405.4" y1="354.98" x2="403.79999999999995" y2="354.98" stroke="#262626" stroke-width="0.5"/>
<line x1="405.4" y1="356.59" x2="403.79999999999995" y2="356.59" stroke="#262626" stroke-width="0.5"/>
<line x1="405.4" y1="357.99" x2="403.79999999999995" y2="357.99" stroke="#262626" stroke-width="0.5"/>
<line x1="405.4" y1="359.23" x2="403.79999999999995" y2="359.23" stroke="#262626" stroke-width="0.5"/>
<line x1="405.4" y1="360.33" x2="402.59999999999997" y2="360.33" stroke="#262626" stroke-width="0.63"/>
<text x="399.60" y="363.43" font-size="8.8" text-anchor="end"><tspan letter-spacing="0.3">10</tspan><tspan font-size="6.34" dy="-3.1">−4</tspan></text>
<line x1="405.4" y1="367.60" x2="403.79999999999995" y2="367.60" stroke="#262626" stroke-width="0.5"/>
<line x1="405.4" y1="371.85" x2="403.79999999999995" y2="371.85" stroke="#262626" stroke-width="0.5"/>
<line x1="405.4" y1="374.87" x2="403.79999999999995" y2="374.87" stroke="#262626" stroke-width="0.5"/>
<line x1="405.4" y1="377.21" x2="403.79999999999995" y2="377.21" stroke="#262626" stroke-width="0.5"/>
<line x1="405.4" y1="379.12" x2="403.79999999999995" y2="379.12" stroke="#262626" stroke-width="0.5"/>
<line x1="405.4" y1="380.74" x2="403.79999999999995" y2="380.74" stroke="#262626" stroke-width="0.5"/>
<line x1="405.4" y1="382.14" x2="403.79999999999995" y2="382.14" stroke="#262626" stroke-width="0.5"/>
<line x1="405.4" y1="383.37" x2="403.79999999999995" y2="383.37" stroke="#262626" stroke-width="0.5"/>
<line x1="405.4" y1="384.48" x2="403.79999999999995" y2="384.48" stroke="#262626" stroke-width="0.5"/>
<line x1="405.4" y1="391.75" x2="403.79999999999995" y2="391.75" stroke="#262626" stroke-width="0.5"/>
<line x1="405.4" y1="396.00" x2="403.79999999999995" y2="396.00" stroke="#262626" stroke-width="0.5"/>
<line x1="405.4" y1="399.01" x2="403.79999999999995" y2="399.01" stroke="#262626" stroke-width="0.5"/>
<line x1="405.4" y1="401.35" x2="403.79999999999995" y2="401.35" stroke="#262626" stroke-width="0.5"/>
<line x1="405.4" y1="403.27" x2="403.79999999999995" y2="403.27" stroke="#262626" stroke-width="0.5"/>
<line x1="405.4" y1="404.88" x2="403.79999999999995" y2="404.88" stroke="#262626" stroke-width="0.5"/>
<line x1="405.4" y1="406.28" x2="403.79999999999995" y2="406.28" stroke="#262626" stroke-width="0.5"/>
<line x1="405.4" y1="407.52" x2="403.79999999999995" y2="407.52" stroke="#262626" stroke-width="0.5"/>
<line x1="405.4" y1="408.62" x2="402.59999999999997" y2="408.62" stroke="#262626" stroke-width="0.63"/>
<text x="399.60" y="411.72" font-size="8.8" text-anchor="end"><tspan letter-spacing="0.3">10</tspan><tspan font-size="6.34" dy="-3.1">−2</tspan></text>
<line x1="405.4" y1="415.89" x2="403.79999999999995" y2="415.89" stroke="#262626" stroke-width="0.5"/>
<line x1="405.4" y1="420.14" x2="403.79999999999995" y2="420.14" stroke="#262626" stroke-width="0.5"/>
<line x1="405.4" y1="423.16" x2="403.79999999999995" y2="423.16" stroke="#262626" stroke-width="0.5"/>
<line x1="405.4" y1="425.50" x2="403.79999999999995" y2="425.50" stroke="#262626" stroke-width="0.5"/>
<line x1="405.4" y1="427.41" x2="403.79999999999995" y2="427.41" stroke="#262626" stroke-width="0.5"/>
<line x1="405.4" y1="429.03" x2="403.79999999999995" y2="429.03" stroke="#262626" stroke-width="0.5"/>
<line x1="405.4" y1="430.43" x2="403.79999999999995" y2="430.43" stroke="#262626" stroke-width="0.5"/>
<line x1="405.4" y1="431.66" x2="403.79999999999995" y2="431.66" stroke="#262626" stroke-width="0.5"/>
<line x1="405.4" y1="432.77" x2="403.79999999999995" y2="432.77" stroke="#262626" stroke-width="0.5"/>
<line x1="405.4" y1="440.03" x2="403.79999999999995" y2="440.03" stroke="#262626" stroke-width="0.5"/>
<line x1="405.4" y1="444.29" x2="403.79999999999995" y2="444.29" stroke="#262626" stroke-width="0.5"/>
<line x1="405.4" y1="447.30" x2="403.79999999999995" y2="447.30" stroke="#262626" stroke-width="0.5"/>
<line x1="405.4" y1="449.64" x2="403.79999999999995" y2="449.64" stroke="#262626" stroke-width="0.5"/>
<line x1="405.4" y1="451.55" x2="403.79999999999995" y2="451.55" stroke="#262626" stroke-width="0.5"/>
<line x1="405.4" y1="453.17" x2="403.79999999999995" y2="453.17" stroke="#262626" stroke-width="0.5"/>
<line x1="405.4" y1="454.57" x2="403.79999999999995" y2="454.57" stroke="#262626" stroke-width="0.5"/>
<line x1="405.4" y1="455.81" x2="403.79999999999995" y2="455.81" stroke="#262626" stroke-width="0.5"/>
<line x1="405.4" y1="456.91" x2="402.59999999999997" y2="456.91" stroke="#262626" stroke-width="0.63"/>
<text x="399.60" y="460.01" font-size="8.8" text-anchor="end"><tspan letter-spacing="0.3">10</tspan><tspan font-size="6.34" dy="-3.1">0</tspan></text>
<line x1="405.4" y1="464.18" x2="403.79999999999995" y2="464.18" stroke="#262626" stroke-width="0.5"/>
<line x1="405.4" y1="468.43" x2="403.79999999999995" y2="468.43" stroke="#262626" stroke-width="0.5"/>
<line x1="405.4" y1="471.45" x2="403.79999999999995" y2="471.45" stroke="#262626" stroke-width="0.5"/>
<line x1="405.4" y1="473.79" x2="403.79999999999995" y2="473.79" stroke="#262626" stroke-width="0.5"/>
<line x1="405.4" y1="475.70" x2="403.79999999999995" y2="475.70" stroke="#262626" stroke-width="0.5"/>
<line x1="405.4" y1="477.32" x2="403.79999999999995" y2="477.32" stroke="#262626" stroke-width="0.5"/>
<line x1="405.4" y1="478.72" x2="403.79999999999995" y2="478.72" stroke="#262626" stroke-width="0.5"/>
<line x1="405.4" y1="479.95" x2="403.79999999999995" y2="479.95" stroke="#262626" stroke-width="0.5"/>
<line x1="405.4" y1="481.06" x2="403.79999999999995" y2="481.06" stroke="#262626" stroke-width="0.5"/>
<line x1="405.4" y1="488.32" x2="403.79999999999995" y2="488.32" stroke="#262626" stroke-width="0.5"/>
<line x1="405.4" y1="492.58" x2="403.79999999999995" y2="492.58" stroke="#262626" stroke-width="0.5"/>
<line x1="405.4" y1="495.59" x2="403.79999999999995" y2="495.59" stroke="#262626" stroke-width="0.5"/>
<line x1="405.4" y1="497.93" x2="403.79999999999995" y2="497.93" stroke="#262626" stroke-width="0.5"/>
<line x1="405.4" y1="499.84" x2="403.79999999999995" y2="499.84" stroke="#262626" stroke-width="0.5"/>
<line x1="405.4" y1="501.46" x2="403.79999999999995" y2="501.46" stroke="#262626" stroke-width="0.5"/>
<line x1="405.4" y1="502.86" x2="403.79999999999995" y2="502.86" stroke="#262626" stroke-width="0.5"/>
<line x1="405.4" y1="504.10" x2="403.79999999999995" y2="504.10" stroke="#262626" stroke-width="0.5"/>
<line x1="405.4" y1="505.20" x2="402.59999999999997" y2="505.20" stroke="#262626" stroke-width="0.63"/>
<text x="399.60" y="508.30" font-size="8.8" text-anchor="end"><tspan letter-spacing="0.3">10</tspan><tspan font-size="6.34" dy="-3.1">2</tspan></text>
<rect x="405.4" y="287.9" width="302.00" height="217.30" fill="none" stroke="#262626" stroke-width="0.7"/>
<text x="556.40" y="283.00" font-size="10.4" text-anchor="middle">NH<tspan font-size="7.4" dy="1.8">3</tspan></text>
<text x="556.40" y="530.40" font-size="10.0" text-anchor="middle" textLength="96" lengthAdjust="spacingAndGlyphs">Volume mixing ratio</text>
<text transform="translate(375.80,396.45) rotate(-90)" font-size="9.8" text-anchor="middle" textLength="66" lengthAdjust="spacingAndGlyphs">Pressure (bar)</text>
</svg></body></html>
